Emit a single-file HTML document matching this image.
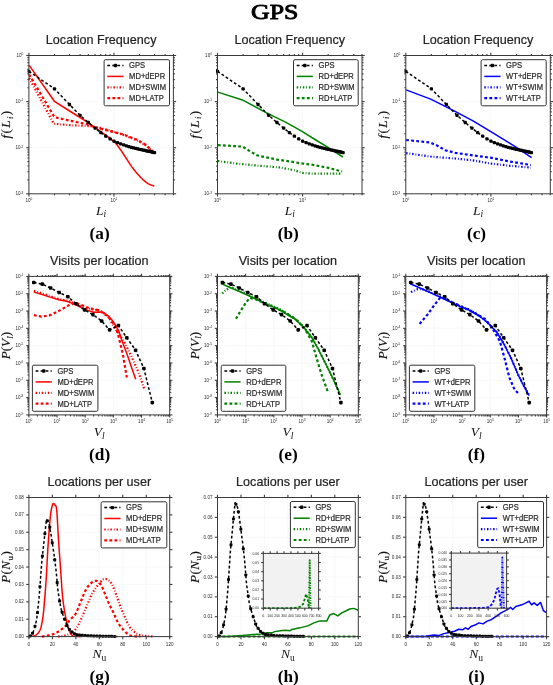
<!DOCTYPE html>
<html><head><meta charset="utf-8"><style>
html,body{margin:0;padding:0;background:#fff;}
body{width:553px;height:685px;overflow:hidden;font-family:"Liberation Sans", sans-serif;}
svg{display:block;will-change:transform;}
</style></head><body>
<svg width="553" height="685" viewBox="0 0 553 685">
<rect width="553" height="685" fill="#fff"/>
<text x="0" y="0" transform="translate(274.7,19.0) scale(1.2,1)" font-family='"Liberation Serif", serif' font-size="21.5" font-weight="normal" fill="#000" stroke="#000" stroke-width="0.9" text-anchor="middle">GPS</text>
<text x="101.15" y="43.7" font-family='"Liberation Sans", sans-serif' font-size="12.6" fill="#222" text-anchor="middle" font-weight="normal" font-style="normal" stroke="#222" stroke-width="0.2">Location Frequency</text>
<text x="101.15" y="214.8" font-family='"Liberation Serif", serif' font-size="13.5" fill="#111" text-anchor="middle" font-weight="normal" font-style="normal" ><tspan font-style="italic">L</tspan><tspan font-size="9.5" dy="2.6" font-style="italic">i</tspan></text>
<text x="0" y="0" transform="translate(99.6,238.8) scale(1.08,1)" font-family='"Liberation Serif", serif' font-size="16" fill="#000" text-anchor="middle" font-weight="bold">(a)</text>
<text x="0" y="0" transform="translate(10,124.65) rotate(-90)" font-family='"Liberation Serif", serif' font-size="13.2" fill="#111" stroke="#111" stroke-width="0.15" text-anchor="middle" textLength="27.5" lengthAdjust="spacing"><tspan font-style="italic">f</tspan>(<tspan font-style="italic">L</tspan><tspan font-size="9" dy="2.5" font-style="italic">i</tspan><tspan dy="-2.5">)</tspan></text>
<text x="289.75" y="43.7" font-family='"Liberation Sans", sans-serif' font-size="12.6" fill="#222" text-anchor="middle" font-weight="normal" font-style="normal" stroke="#222" stroke-width="0.2">Location Frequency</text>
<text x="289.75" y="214.8" font-family='"Liberation Serif", serif' font-size="13.5" fill="#111" text-anchor="middle" font-weight="normal" font-style="normal" ><tspan font-style="italic">L</tspan><tspan font-size="9.5" dy="2.6" font-style="italic">i</tspan></text>
<text x="0" y="0" transform="translate(288.2,238.8) scale(1.08,1)" font-family='"Liberation Serif", serif' font-size="16" fill="#000" text-anchor="middle" font-weight="bold">(b)</text>
<text x="0" y="0" transform="translate(198.6,124.65) rotate(-90)" font-family='"Liberation Serif", serif' font-size="13.2" fill="#111" stroke="#111" stroke-width="0.15" text-anchor="middle" textLength="27.5" lengthAdjust="spacing"><tspan font-style="italic">f</tspan>(<tspan font-style="italic">L</tspan><tspan font-size="9" dy="2.5" font-style="italic">i</tspan><tspan dy="-2.5">)</tspan></text>
<text x="478.05" y="43.7" font-family='"Liberation Sans", sans-serif' font-size="12.6" fill="#222" text-anchor="middle" font-weight="normal" font-style="normal" stroke="#222" stroke-width="0.2">Location Frequency</text>
<text x="478.05" y="214.8" font-family='"Liberation Serif", serif' font-size="13.5" fill="#111" text-anchor="middle" font-weight="normal" font-style="normal" ><tspan font-style="italic">L</tspan><tspan font-size="9.5" dy="2.6" font-style="italic">i</tspan></text>
<text x="0" y="0" transform="translate(476.5,238.8) scale(1.08,1)" font-family='"Liberation Serif", serif' font-size="16" fill="#000" text-anchor="middle" font-weight="bold">(c)</text>
<text x="0" y="0" transform="translate(386.9,124.65) rotate(-90)" font-family='"Liberation Serif", serif' font-size="13.2" fill="#111" stroke="#111" stroke-width="0.15" text-anchor="middle" textLength="27.5" lengthAdjust="spacing"><tspan font-style="italic">f</tspan>(<tspan font-style="italic">L</tspan><tspan font-size="9" dy="2.5" font-style="italic">i</tspan><tspan dy="-2.5">)</tspan></text>
<text x="99.3" y="264.6" font-family='"Liberation Sans", sans-serif' font-size="12.6" fill="#222" text-anchor="middle" font-weight="normal" font-style="normal" stroke="#222" stroke-width="0.2">Visits per location</text>
<text x="99.3" y="435.9" font-family='"Liberation Serif", serif' font-size="13.5" fill="#111" text-anchor="middle" font-weight="normal" font-style="normal" ><tspan font-style="italic">V</tspan><tspan font-size="9.5" dy="2.6" font-style="italic">l</tspan></text>
<text x="0" y="0" transform="translate(99.6,459.9) scale(1.08,1)" font-family='"Liberation Serif", serif' font-size="16" fill="#000" text-anchor="middle" font-weight="bold">(d)</text>
<text x="0" y="0" transform="translate(10,345.65) rotate(-90)" font-family='"Liberation Serif", serif' font-size="13.2" fill="#111" stroke="#111" stroke-width="0.15" text-anchor="middle" textLength="27.4" lengthAdjust="spacing"><tspan font-style="italic">P</tspan>(<tspan font-style="italic">V</tspan><tspan font-size="9" dy="2.5" font-style="italic">l</tspan><tspan dy="-2.5">)</tspan></text>
<text x="287.9" y="264.6" font-family='"Liberation Sans", sans-serif' font-size="12.6" fill="#222" text-anchor="middle" font-weight="normal" font-style="normal" stroke="#222" stroke-width="0.2">Visits per location</text>
<text x="287.9" y="435.9" font-family='"Liberation Serif", serif' font-size="13.5" fill="#111" text-anchor="middle" font-weight="normal" font-style="normal" ><tspan font-style="italic">V</tspan><tspan font-size="9.5" dy="2.6" font-style="italic">l</tspan></text>
<text x="0" y="0" transform="translate(288.2,459.9) scale(1.08,1)" font-family='"Liberation Serif", serif' font-size="16" fill="#000" text-anchor="middle" font-weight="bold">(e)</text>
<text x="0" y="0" transform="translate(198.6,345.65) rotate(-90)" font-family='"Liberation Serif", serif' font-size="13.2" fill="#111" stroke="#111" stroke-width="0.15" text-anchor="middle" textLength="27.4" lengthAdjust="spacing"><tspan font-style="italic">P</tspan>(<tspan font-style="italic">V</tspan><tspan font-size="9" dy="2.5" font-style="italic">l</tspan><tspan dy="-2.5">)</tspan></text>
<text x="476.2" y="264.6" font-family='"Liberation Sans", sans-serif' font-size="12.6" fill="#222" text-anchor="middle" font-weight="normal" font-style="normal" stroke="#222" stroke-width="0.2">Visits per location</text>
<text x="476.2" y="435.9" font-family='"Liberation Serif", serif' font-size="13.5" fill="#111" text-anchor="middle" font-weight="normal" font-style="normal" ><tspan font-style="italic">V</tspan><tspan font-size="9.5" dy="2.6" font-style="italic">l</tspan></text>
<text x="0" y="0" transform="translate(476.5,459.9) scale(1.08,1)" font-family='"Liberation Serif", serif' font-size="16" fill="#000" text-anchor="middle" font-weight="bold">(f)</text>
<text x="0" y="0" transform="translate(386.9,345.65) rotate(-90)" font-family='"Liberation Serif", serif' font-size="13.2" fill="#111" stroke="#111" stroke-width="0.15" text-anchor="middle" textLength="27.4" lengthAdjust="spacing"><tspan font-style="italic">P</tspan>(<tspan font-style="italic">V</tspan><tspan font-size="9" dy="2.5" font-style="italic">l</tspan><tspan dy="-2.5">)</tspan></text>
<text x="99.3" y="485.7" font-family='"Liberation Sans", sans-serif' font-size="12.6" fill="#222" text-anchor="middle" font-weight="normal" font-style="normal" stroke="#222" stroke-width="0.2">Locations per user</text>
<text x="99.3" y="657.6" font-family='"Liberation Serif", serif' font-size="13.5" fill="#111" text-anchor="middle" font-weight="normal" font-style="normal" ><tspan font-style="italic">N</tspan><tspan font-size="9.5" dy="3.2">u</tspan></text>
<text x="0" y="0" transform="translate(99.6,681.6) scale(1.08,1)" font-family='"Liberation Serif", serif' font-size="16" fill="#000" text-anchor="middle" font-weight="bold">(g)</text>
<text x="0" y="0" transform="translate(10,567.05) rotate(-90)" font-family='"Liberation Serif", serif' font-size="13.2" fill="#111" stroke="#111" stroke-width="0.15" text-anchor="middle" textLength="32.0" lengthAdjust="spacing"><tspan font-style="italic">P</tspan>(<tspan font-style="italic">N</tspan><tspan font-size="9" dy="2.5">u</tspan><tspan dy="-2.5">)</tspan></text>
<text x="287.9" y="485.7" font-family='"Liberation Sans", sans-serif' font-size="12.6" fill="#222" text-anchor="middle" font-weight="normal" font-style="normal" stroke="#222" stroke-width="0.2">Locations per user</text>
<text x="287.9" y="657.6" font-family='"Liberation Serif", serif' font-size="13.5" fill="#111" text-anchor="middle" font-weight="normal" font-style="normal" ><tspan font-style="italic">N</tspan><tspan font-size="9.5" dy="3.2">u</tspan></text>
<text x="0" y="0" transform="translate(288.2,681.6) scale(1.08,1)" font-family='"Liberation Serif", serif' font-size="16" fill="#000" text-anchor="middle" font-weight="bold">(h)</text>
<text x="0" y="0" transform="translate(198.6,567.05) rotate(-90)" font-family='"Liberation Serif", serif' font-size="13.2" fill="#111" stroke="#111" stroke-width="0.15" text-anchor="middle" textLength="32.0" lengthAdjust="spacing"><tspan font-style="italic">P</tspan>(<tspan font-style="italic">N</tspan><tspan font-size="9" dy="2.5">u</tspan><tspan dy="-2.5">)</tspan></text>
<text x="476.2" y="485.7" font-family='"Liberation Sans", sans-serif' font-size="12.6" fill="#222" text-anchor="middle" font-weight="normal" font-style="normal" stroke="#222" stroke-width="0.2">Locations per user</text>
<text x="476.2" y="657.6" font-family='"Liberation Serif", serif' font-size="13.5" fill="#111" text-anchor="middle" font-weight="normal" font-style="normal" ><tspan font-style="italic">N</tspan><tspan font-size="9.5" dy="3.2">u</tspan></text>
<text x="0" y="0" transform="translate(476.5,681.6) scale(1.08,1)" font-family='"Liberation Serif", serif' font-size="16" fill="#000" text-anchor="middle" font-weight="bold">(i)</text>
<text x="0" y="0" transform="translate(386.9,567.05) rotate(-90)" font-family='"Liberation Serif", serif' font-size="13.2" fill="#111" stroke="#111" stroke-width="0.15" text-anchor="middle" textLength="32.0" lengthAdjust="spacing"><tspan font-style="italic">P</tspan>(<tspan font-style="italic">N</tspan><tspan font-size="9" dy="2.5">u</tspan><tspan dy="-2.5">)</tspan></text>
<line x1="113.95" y1="55.5" x2="113.95" y2="193.8" stroke="#e9e9e9" stroke-width="0.7" stroke-dasharray="1,1.2"/>
<line x1="28.9" y1="193.8" x2="28.9" y2="196.5" stroke="#3a3a3a" stroke-width="1.1"/>
<line x1="28.9" y1="55.5" x2="28.9" y2="52.8" stroke="#3a3a3a" stroke-width="1.1"/>
<text x="28.9" y="202" font-family='"Liberation Sans", sans-serif' font-size="4.6" fill="#2a2a2a" text-anchor="middle">10<tspan dy="-1.8" font-size="3.2">0</tspan></text>
<line x1="54.5" y1="193.8" x2="54.5" y2="195.3" stroke="#3a3a3a" stroke-width="1.1"/>
<line x1="54.5" y1="55.5" x2="54.5" y2="54" stroke="#3a3a3a" stroke-width="1.1"/>
<line x1="69.48" y1="193.8" x2="69.48" y2="195.3" stroke="#3a3a3a" stroke-width="1.1"/>
<line x1="69.48" y1="55.5" x2="69.48" y2="54" stroke="#3a3a3a" stroke-width="1.1"/>
<line x1="80.11" y1="193.8" x2="80.11" y2="195.3" stroke="#3a3a3a" stroke-width="1.1"/>
<line x1="80.11" y1="55.5" x2="80.11" y2="54" stroke="#3a3a3a" stroke-width="1.1"/>
<line x1="88.35" y1="193.8" x2="88.35" y2="195.3" stroke="#3a3a3a" stroke-width="1.1"/>
<line x1="88.35" y1="55.5" x2="88.35" y2="54" stroke="#3a3a3a" stroke-width="1.1"/>
<line x1="95.08" y1="193.8" x2="95.08" y2="195.3" stroke="#3a3a3a" stroke-width="1.1"/>
<line x1="95.08" y1="55.5" x2="95.08" y2="54" stroke="#3a3a3a" stroke-width="1.1"/>
<line x1="100.78" y1="193.8" x2="100.78" y2="195.3" stroke="#3a3a3a" stroke-width="1.1"/>
<line x1="100.78" y1="55.5" x2="100.78" y2="54" stroke="#3a3a3a" stroke-width="1.1"/>
<line x1="105.71" y1="193.8" x2="105.71" y2="195.3" stroke="#3a3a3a" stroke-width="1.1"/>
<line x1="105.71" y1="55.5" x2="105.71" y2="54" stroke="#3a3a3a" stroke-width="1.1"/>
<line x1="110.06" y1="193.8" x2="110.06" y2="195.3" stroke="#3a3a3a" stroke-width="1.1"/>
<line x1="110.06" y1="55.5" x2="110.06" y2="54" stroke="#3a3a3a" stroke-width="1.1"/>
<line x1="113.95" y1="193.8" x2="113.95" y2="196.5" stroke="#3a3a3a" stroke-width="1.1"/>
<line x1="113.95" y1="55.5" x2="113.95" y2="52.8" stroke="#3a3a3a" stroke-width="1.1"/>
<text x="113.95" y="202" font-family='"Liberation Sans", sans-serif' font-size="4.6" fill="#2a2a2a" text-anchor="middle">10<tspan dy="-1.8" font-size="3.2">1</tspan></text>
<line x1="139.55" y1="193.8" x2="139.55" y2="195.3" stroke="#3a3a3a" stroke-width="1.1"/>
<line x1="139.55" y1="55.5" x2="139.55" y2="54" stroke="#3a3a3a" stroke-width="1.1"/>
<line x1="154.53" y1="193.8" x2="154.53" y2="195.3" stroke="#3a3a3a" stroke-width="1.1"/>
<line x1="154.53" y1="55.5" x2="154.53" y2="54" stroke="#3a3a3a" stroke-width="1.1"/>
<line x1="165.16" y1="193.8" x2="165.16" y2="195.3" stroke="#3a3a3a" stroke-width="1.1"/>
<line x1="165.16" y1="55.5" x2="165.16" y2="54" stroke="#3a3a3a" stroke-width="1.1"/>
<line x1="173.4" y1="193.8" x2="173.4" y2="195.3" stroke="#3a3a3a" stroke-width="1.1"/>
<line x1="173.4" y1="55.5" x2="173.4" y2="54" stroke="#3a3a3a" stroke-width="1.1"/>
<line x1="28.9" y1="147.7" x2="173.4" y2="147.7" stroke="#e9e9e9" stroke-width="0.7" stroke-dasharray="1,1.2"/>
<line x1="28.9" y1="101.6" x2="173.4" y2="101.6" stroke="#e9e9e9" stroke-width="0.7" stroke-dasharray="1,1.2"/>
<line x1="28.9" y1="193.8" x2="26.2" y2="193.8" stroke="#3a3a3a" stroke-width="1.1"/>
<line x1="173.4" y1="193.8" x2="176.1" y2="193.8" stroke="#3a3a3a" stroke-width="1.1"/>
<text x="23.4" y="195.4" font-family='"Liberation Sans", sans-serif' font-size="4.6" fill="#2a2a2a" text-anchor="end">10<tspan dy="-1.8" font-size="3.2">-3</tspan></text>
<line x1="28.9" y1="179.92" x2="27.4" y2="179.92" stroke="#3a3a3a" stroke-width="1.1"/>
<line x1="173.4" y1="179.92" x2="174.9" y2="179.92" stroke="#3a3a3a" stroke-width="1.1"/>
<line x1="28.9" y1="171.8" x2="27.4" y2="171.8" stroke="#3a3a3a" stroke-width="1.1"/>
<line x1="173.4" y1="171.8" x2="174.9" y2="171.8" stroke="#3a3a3a" stroke-width="1.1"/>
<line x1="28.9" y1="166.05" x2="27.4" y2="166.05" stroke="#3a3a3a" stroke-width="1.1"/>
<line x1="173.4" y1="166.05" x2="174.9" y2="166.05" stroke="#3a3a3a" stroke-width="1.1"/>
<line x1="28.9" y1="161.58" x2="27.4" y2="161.58" stroke="#3a3a3a" stroke-width="1.1"/>
<line x1="173.4" y1="161.58" x2="174.9" y2="161.58" stroke="#3a3a3a" stroke-width="1.1"/>
<line x1="28.9" y1="157.93" x2="27.4" y2="157.93" stroke="#3a3a3a" stroke-width="1.1"/>
<line x1="173.4" y1="157.93" x2="174.9" y2="157.93" stroke="#3a3a3a" stroke-width="1.1"/>
<line x1="28.9" y1="154.84" x2="27.4" y2="154.84" stroke="#3a3a3a" stroke-width="1.1"/>
<line x1="173.4" y1="154.84" x2="174.9" y2="154.84" stroke="#3a3a3a" stroke-width="1.1"/>
<line x1="28.9" y1="152.17" x2="27.4" y2="152.17" stroke="#3a3a3a" stroke-width="1.1"/>
<line x1="173.4" y1="152.17" x2="174.9" y2="152.17" stroke="#3a3a3a" stroke-width="1.1"/>
<line x1="28.9" y1="149.81" x2="27.4" y2="149.81" stroke="#3a3a3a" stroke-width="1.1"/>
<line x1="173.4" y1="149.81" x2="174.9" y2="149.81" stroke="#3a3a3a" stroke-width="1.1"/>
<line x1="28.9" y1="147.7" x2="26.2" y2="147.7" stroke="#3a3a3a" stroke-width="1.1"/>
<line x1="173.4" y1="147.7" x2="176.1" y2="147.7" stroke="#3a3a3a" stroke-width="1.1"/>
<text x="23.4" y="149.3" font-family='"Liberation Sans", sans-serif' font-size="4.6" fill="#2a2a2a" text-anchor="end">10<tspan dy="-1.8" font-size="3.2">-2</tspan></text>
<line x1="28.9" y1="133.82" x2="27.4" y2="133.82" stroke="#3a3a3a" stroke-width="1.1"/>
<line x1="173.4" y1="133.82" x2="174.9" y2="133.82" stroke="#3a3a3a" stroke-width="1.1"/>
<line x1="28.9" y1="125.7" x2="27.4" y2="125.7" stroke="#3a3a3a" stroke-width="1.1"/>
<line x1="173.4" y1="125.7" x2="174.9" y2="125.7" stroke="#3a3a3a" stroke-width="1.1"/>
<line x1="28.9" y1="119.95" x2="27.4" y2="119.95" stroke="#3a3a3a" stroke-width="1.1"/>
<line x1="173.4" y1="119.95" x2="174.9" y2="119.95" stroke="#3a3a3a" stroke-width="1.1"/>
<line x1="28.9" y1="115.48" x2="27.4" y2="115.48" stroke="#3a3a3a" stroke-width="1.1"/>
<line x1="173.4" y1="115.48" x2="174.9" y2="115.48" stroke="#3a3a3a" stroke-width="1.1"/>
<line x1="28.9" y1="111.83" x2="27.4" y2="111.83" stroke="#3a3a3a" stroke-width="1.1"/>
<line x1="173.4" y1="111.83" x2="174.9" y2="111.83" stroke="#3a3a3a" stroke-width="1.1"/>
<line x1="28.9" y1="108.74" x2="27.4" y2="108.74" stroke="#3a3a3a" stroke-width="1.1"/>
<line x1="173.4" y1="108.74" x2="174.9" y2="108.74" stroke="#3a3a3a" stroke-width="1.1"/>
<line x1="28.9" y1="106.07" x2="27.4" y2="106.07" stroke="#3a3a3a" stroke-width="1.1"/>
<line x1="173.4" y1="106.07" x2="174.9" y2="106.07" stroke="#3a3a3a" stroke-width="1.1"/>
<line x1="28.9" y1="103.71" x2="27.4" y2="103.71" stroke="#3a3a3a" stroke-width="1.1"/>
<line x1="173.4" y1="103.71" x2="174.9" y2="103.71" stroke="#3a3a3a" stroke-width="1.1"/>
<line x1="28.9" y1="101.6" x2="26.2" y2="101.6" stroke="#3a3a3a" stroke-width="1.1"/>
<line x1="173.4" y1="101.6" x2="176.1" y2="101.6" stroke="#3a3a3a" stroke-width="1.1"/>
<text x="23.4" y="103.2" font-family='"Liberation Sans", sans-serif' font-size="4.6" fill="#2a2a2a" text-anchor="end">10<tspan dy="-1.8" font-size="3.2">-1</tspan></text>
<line x1="28.9" y1="87.72" x2="27.4" y2="87.72" stroke="#3a3a3a" stroke-width="1.1"/>
<line x1="173.4" y1="87.72" x2="174.9" y2="87.72" stroke="#3a3a3a" stroke-width="1.1"/>
<line x1="28.9" y1="79.6" x2="27.4" y2="79.6" stroke="#3a3a3a" stroke-width="1.1"/>
<line x1="173.4" y1="79.6" x2="174.9" y2="79.6" stroke="#3a3a3a" stroke-width="1.1"/>
<line x1="28.9" y1="73.85" x2="27.4" y2="73.85" stroke="#3a3a3a" stroke-width="1.1"/>
<line x1="173.4" y1="73.85" x2="174.9" y2="73.85" stroke="#3a3a3a" stroke-width="1.1"/>
<line x1="28.9" y1="69.38" x2="27.4" y2="69.38" stroke="#3a3a3a" stroke-width="1.1"/>
<line x1="173.4" y1="69.38" x2="174.9" y2="69.38" stroke="#3a3a3a" stroke-width="1.1"/>
<line x1="28.9" y1="65.73" x2="27.4" y2="65.73" stroke="#3a3a3a" stroke-width="1.1"/>
<line x1="173.4" y1="65.73" x2="174.9" y2="65.73" stroke="#3a3a3a" stroke-width="1.1"/>
<line x1="28.9" y1="62.64" x2="27.4" y2="62.64" stroke="#3a3a3a" stroke-width="1.1"/>
<line x1="173.4" y1="62.64" x2="174.9" y2="62.64" stroke="#3a3a3a" stroke-width="1.1"/>
<line x1="28.9" y1="59.97" x2="27.4" y2="59.97" stroke="#3a3a3a" stroke-width="1.1"/>
<line x1="173.4" y1="59.97" x2="174.9" y2="59.97" stroke="#3a3a3a" stroke-width="1.1"/>
<line x1="28.9" y1="57.61" x2="27.4" y2="57.61" stroke="#3a3a3a" stroke-width="1.1"/>
<line x1="173.4" y1="57.61" x2="174.9" y2="57.61" stroke="#3a3a3a" stroke-width="1.1"/>
<line x1="28.9" y1="55.5" x2="26.2" y2="55.5" stroke="#3a3a3a" stroke-width="1.1"/>
<line x1="173.4" y1="55.5" x2="176.1" y2="55.5" stroke="#3a3a3a" stroke-width="1.1"/>
<text x="23.4" y="57.1" font-family='"Liberation Sans", sans-serif' font-size="4.6" fill="#2a2a2a" text-anchor="end">10<tspan dy="-1.8" font-size="3.2">0</tspan></text>
<line x1="302.55" y1="55.5" x2="302.55" y2="193.8" stroke="#e9e9e9" stroke-width="0.7" stroke-dasharray="1,1.2"/>
<line x1="217.5" y1="193.8" x2="217.5" y2="196.5" stroke="#3a3a3a" stroke-width="1.1"/>
<line x1="217.5" y1="55.5" x2="217.5" y2="52.8" stroke="#3a3a3a" stroke-width="1.1"/>
<text x="217.5" y="202" font-family='"Liberation Sans", sans-serif' font-size="4.6" fill="#2a2a2a" text-anchor="middle">10<tspan dy="-1.8" font-size="3.2">0</tspan></text>
<line x1="243.1" y1="193.8" x2="243.1" y2="195.3" stroke="#3a3a3a" stroke-width="1.1"/>
<line x1="243.1" y1="55.5" x2="243.1" y2="54" stroke="#3a3a3a" stroke-width="1.1"/>
<line x1="258.08" y1="193.8" x2="258.08" y2="195.3" stroke="#3a3a3a" stroke-width="1.1"/>
<line x1="258.08" y1="55.5" x2="258.08" y2="54" stroke="#3a3a3a" stroke-width="1.1"/>
<line x1="268.71" y1="193.8" x2="268.71" y2="195.3" stroke="#3a3a3a" stroke-width="1.1"/>
<line x1="268.71" y1="55.5" x2="268.71" y2="54" stroke="#3a3a3a" stroke-width="1.1"/>
<line x1="276.95" y1="193.8" x2="276.95" y2="195.3" stroke="#3a3a3a" stroke-width="1.1"/>
<line x1="276.95" y1="55.5" x2="276.95" y2="54" stroke="#3a3a3a" stroke-width="1.1"/>
<line x1="283.68" y1="193.8" x2="283.68" y2="195.3" stroke="#3a3a3a" stroke-width="1.1"/>
<line x1="283.68" y1="55.5" x2="283.68" y2="54" stroke="#3a3a3a" stroke-width="1.1"/>
<line x1="289.38" y1="193.8" x2="289.38" y2="195.3" stroke="#3a3a3a" stroke-width="1.1"/>
<line x1="289.38" y1="55.5" x2="289.38" y2="54" stroke="#3a3a3a" stroke-width="1.1"/>
<line x1="294.31" y1="193.8" x2="294.31" y2="195.3" stroke="#3a3a3a" stroke-width="1.1"/>
<line x1="294.31" y1="55.5" x2="294.31" y2="54" stroke="#3a3a3a" stroke-width="1.1"/>
<line x1="298.66" y1="193.8" x2="298.66" y2="195.3" stroke="#3a3a3a" stroke-width="1.1"/>
<line x1="298.66" y1="55.5" x2="298.66" y2="54" stroke="#3a3a3a" stroke-width="1.1"/>
<line x1="302.55" y1="193.8" x2="302.55" y2="196.5" stroke="#3a3a3a" stroke-width="1.1"/>
<line x1="302.55" y1="55.5" x2="302.55" y2="52.8" stroke="#3a3a3a" stroke-width="1.1"/>
<text x="302.55" y="202" font-family='"Liberation Sans", sans-serif' font-size="4.6" fill="#2a2a2a" text-anchor="middle">10<tspan dy="-1.8" font-size="3.2">1</tspan></text>
<line x1="328.15" y1="193.8" x2="328.15" y2="195.3" stroke="#3a3a3a" stroke-width="1.1"/>
<line x1="328.15" y1="55.5" x2="328.15" y2="54" stroke="#3a3a3a" stroke-width="1.1"/>
<line x1="343.13" y1="193.8" x2="343.13" y2="195.3" stroke="#3a3a3a" stroke-width="1.1"/>
<line x1="343.13" y1="55.5" x2="343.13" y2="54" stroke="#3a3a3a" stroke-width="1.1"/>
<line x1="353.76" y1="193.8" x2="353.76" y2="195.3" stroke="#3a3a3a" stroke-width="1.1"/>
<line x1="353.76" y1="55.5" x2="353.76" y2="54" stroke="#3a3a3a" stroke-width="1.1"/>
<line x1="362" y1="193.8" x2="362" y2="195.3" stroke="#3a3a3a" stroke-width="1.1"/>
<line x1="362" y1="55.5" x2="362" y2="54" stroke="#3a3a3a" stroke-width="1.1"/>
<line x1="217.5" y1="147.7" x2="362" y2="147.7" stroke="#e9e9e9" stroke-width="0.7" stroke-dasharray="1,1.2"/>
<line x1="217.5" y1="101.6" x2="362" y2="101.6" stroke="#e9e9e9" stroke-width="0.7" stroke-dasharray="1,1.2"/>
<line x1="217.5" y1="193.8" x2="214.8" y2="193.8" stroke="#3a3a3a" stroke-width="1.1"/>
<line x1="362" y1="193.8" x2="364.7" y2="193.8" stroke="#3a3a3a" stroke-width="1.1"/>
<text x="212" y="195.4" font-family='"Liberation Sans", sans-serif' font-size="4.6" fill="#2a2a2a" text-anchor="end">10<tspan dy="-1.8" font-size="3.2">-3</tspan></text>
<line x1="217.5" y1="179.92" x2="216" y2="179.92" stroke="#3a3a3a" stroke-width="1.1"/>
<line x1="362" y1="179.92" x2="363.5" y2="179.92" stroke="#3a3a3a" stroke-width="1.1"/>
<line x1="217.5" y1="171.8" x2="216" y2="171.8" stroke="#3a3a3a" stroke-width="1.1"/>
<line x1="362" y1="171.8" x2="363.5" y2="171.8" stroke="#3a3a3a" stroke-width="1.1"/>
<line x1="217.5" y1="166.05" x2="216" y2="166.05" stroke="#3a3a3a" stroke-width="1.1"/>
<line x1="362" y1="166.05" x2="363.5" y2="166.05" stroke="#3a3a3a" stroke-width="1.1"/>
<line x1="217.5" y1="161.58" x2="216" y2="161.58" stroke="#3a3a3a" stroke-width="1.1"/>
<line x1="362" y1="161.58" x2="363.5" y2="161.58" stroke="#3a3a3a" stroke-width="1.1"/>
<line x1="217.5" y1="157.93" x2="216" y2="157.93" stroke="#3a3a3a" stroke-width="1.1"/>
<line x1="362" y1="157.93" x2="363.5" y2="157.93" stroke="#3a3a3a" stroke-width="1.1"/>
<line x1="217.5" y1="154.84" x2="216" y2="154.84" stroke="#3a3a3a" stroke-width="1.1"/>
<line x1="362" y1="154.84" x2="363.5" y2="154.84" stroke="#3a3a3a" stroke-width="1.1"/>
<line x1="217.5" y1="152.17" x2="216" y2="152.17" stroke="#3a3a3a" stroke-width="1.1"/>
<line x1="362" y1="152.17" x2="363.5" y2="152.17" stroke="#3a3a3a" stroke-width="1.1"/>
<line x1="217.5" y1="149.81" x2="216" y2="149.81" stroke="#3a3a3a" stroke-width="1.1"/>
<line x1="362" y1="149.81" x2="363.5" y2="149.81" stroke="#3a3a3a" stroke-width="1.1"/>
<line x1="217.5" y1="147.7" x2="214.8" y2="147.7" stroke="#3a3a3a" stroke-width="1.1"/>
<line x1="362" y1="147.7" x2="364.7" y2="147.7" stroke="#3a3a3a" stroke-width="1.1"/>
<text x="212" y="149.3" font-family='"Liberation Sans", sans-serif' font-size="4.6" fill="#2a2a2a" text-anchor="end">10<tspan dy="-1.8" font-size="3.2">-2</tspan></text>
<line x1="217.5" y1="133.82" x2="216" y2="133.82" stroke="#3a3a3a" stroke-width="1.1"/>
<line x1="362" y1="133.82" x2="363.5" y2="133.82" stroke="#3a3a3a" stroke-width="1.1"/>
<line x1="217.5" y1="125.7" x2="216" y2="125.7" stroke="#3a3a3a" stroke-width="1.1"/>
<line x1="362" y1="125.7" x2="363.5" y2="125.7" stroke="#3a3a3a" stroke-width="1.1"/>
<line x1="217.5" y1="119.95" x2="216" y2="119.95" stroke="#3a3a3a" stroke-width="1.1"/>
<line x1="362" y1="119.95" x2="363.5" y2="119.95" stroke="#3a3a3a" stroke-width="1.1"/>
<line x1="217.5" y1="115.48" x2="216" y2="115.48" stroke="#3a3a3a" stroke-width="1.1"/>
<line x1="362" y1="115.48" x2="363.5" y2="115.48" stroke="#3a3a3a" stroke-width="1.1"/>
<line x1="217.5" y1="111.83" x2="216" y2="111.83" stroke="#3a3a3a" stroke-width="1.1"/>
<line x1="362" y1="111.83" x2="363.5" y2="111.83" stroke="#3a3a3a" stroke-width="1.1"/>
<line x1="217.5" y1="108.74" x2="216" y2="108.74" stroke="#3a3a3a" stroke-width="1.1"/>
<line x1="362" y1="108.74" x2="363.5" y2="108.74" stroke="#3a3a3a" stroke-width="1.1"/>
<line x1="217.5" y1="106.07" x2="216" y2="106.07" stroke="#3a3a3a" stroke-width="1.1"/>
<line x1="362" y1="106.07" x2="363.5" y2="106.07" stroke="#3a3a3a" stroke-width="1.1"/>
<line x1="217.5" y1="103.71" x2="216" y2="103.71" stroke="#3a3a3a" stroke-width="1.1"/>
<line x1="362" y1="103.71" x2="363.5" y2="103.71" stroke="#3a3a3a" stroke-width="1.1"/>
<line x1="217.5" y1="101.6" x2="214.8" y2="101.6" stroke="#3a3a3a" stroke-width="1.1"/>
<line x1="362" y1="101.6" x2="364.7" y2="101.6" stroke="#3a3a3a" stroke-width="1.1"/>
<text x="212" y="103.2" font-family='"Liberation Sans", sans-serif' font-size="4.6" fill="#2a2a2a" text-anchor="end">10<tspan dy="-1.8" font-size="3.2">-1</tspan></text>
<line x1="217.5" y1="87.72" x2="216" y2="87.72" stroke="#3a3a3a" stroke-width="1.1"/>
<line x1="362" y1="87.72" x2="363.5" y2="87.72" stroke="#3a3a3a" stroke-width="1.1"/>
<line x1="217.5" y1="79.6" x2="216" y2="79.6" stroke="#3a3a3a" stroke-width="1.1"/>
<line x1="362" y1="79.6" x2="363.5" y2="79.6" stroke="#3a3a3a" stroke-width="1.1"/>
<line x1="217.5" y1="73.85" x2="216" y2="73.85" stroke="#3a3a3a" stroke-width="1.1"/>
<line x1="362" y1="73.85" x2="363.5" y2="73.85" stroke="#3a3a3a" stroke-width="1.1"/>
<line x1="217.5" y1="69.38" x2="216" y2="69.38" stroke="#3a3a3a" stroke-width="1.1"/>
<line x1="362" y1="69.38" x2="363.5" y2="69.38" stroke="#3a3a3a" stroke-width="1.1"/>
<line x1="217.5" y1="65.73" x2="216" y2="65.73" stroke="#3a3a3a" stroke-width="1.1"/>
<line x1="362" y1="65.73" x2="363.5" y2="65.73" stroke="#3a3a3a" stroke-width="1.1"/>
<line x1="217.5" y1="62.64" x2="216" y2="62.64" stroke="#3a3a3a" stroke-width="1.1"/>
<line x1="362" y1="62.64" x2="363.5" y2="62.64" stroke="#3a3a3a" stroke-width="1.1"/>
<line x1="217.5" y1="59.97" x2="216" y2="59.97" stroke="#3a3a3a" stroke-width="1.1"/>
<line x1="362" y1="59.97" x2="363.5" y2="59.97" stroke="#3a3a3a" stroke-width="1.1"/>
<line x1="217.5" y1="57.61" x2="216" y2="57.61" stroke="#3a3a3a" stroke-width="1.1"/>
<line x1="362" y1="57.61" x2="363.5" y2="57.61" stroke="#3a3a3a" stroke-width="1.1"/>
<line x1="217.5" y1="55.5" x2="214.8" y2="55.5" stroke="#3a3a3a" stroke-width="1.1"/>
<line x1="362" y1="55.5" x2="364.7" y2="55.5" stroke="#3a3a3a" stroke-width="1.1"/>
<text x="212" y="57.1" font-family='"Liberation Sans", sans-serif' font-size="4.6" fill="#2a2a2a" text-anchor="end">10<tspan dy="-1.8" font-size="3.2">0</tspan></text>
<line x1="490.85" y1="55.5" x2="490.85" y2="193.8" stroke="#e9e9e9" stroke-width="0.7" stroke-dasharray="1,1.2"/>
<line x1="405.8" y1="193.8" x2="405.8" y2="196.5" stroke="#3a3a3a" stroke-width="1.1"/>
<line x1="405.8" y1="55.5" x2="405.8" y2="52.8" stroke="#3a3a3a" stroke-width="1.1"/>
<text x="405.8" y="202" font-family='"Liberation Sans", sans-serif' font-size="4.6" fill="#2a2a2a" text-anchor="middle">10<tspan dy="-1.8" font-size="3.2">0</tspan></text>
<line x1="431.4" y1="193.8" x2="431.4" y2="195.3" stroke="#3a3a3a" stroke-width="1.1"/>
<line x1="431.4" y1="55.5" x2="431.4" y2="54" stroke="#3a3a3a" stroke-width="1.1"/>
<line x1="446.38" y1="193.8" x2="446.38" y2="195.3" stroke="#3a3a3a" stroke-width="1.1"/>
<line x1="446.38" y1="55.5" x2="446.38" y2="54" stroke="#3a3a3a" stroke-width="1.1"/>
<line x1="457.01" y1="193.8" x2="457.01" y2="195.3" stroke="#3a3a3a" stroke-width="1.1"/>
<line x1="457.01" y1="55.5" x2="457.01" y2="54" stroke="#3a3a3a" stroke-width="1.1"/>
<line x1="465.25" y1="193.8" x2="465.25" y2="195.3" stroke="#3a3a3a" stroke-width="1.1"/>
<line x1="465.25" y1="55.5" x2="465.25" y2="54" stroke="#3a3a3a" stroke-width="1.1"/>
<line x1="471.98" y1="193.8" x2="471.98" y2="195.3" stroke="#3a3a3a" stroke-width="1.1"/>
<line x1="471.98" y1="55.5" x2="471.98" y2="54" stroke="#3a3a3a" stroke-width="1.1"/>
<line x1="477.68" y1="193.8" x2="477.68" y2="195.3" stroke="#3a3a3a" stroke-width="1.1"/>
<line x1="477.68" y1="55.5" x2="477.68" y2="54" stroke="#3a3a3a" stroke-width="1.1"/>
<line x1="482.61" y1="193.8" x2="482.61" y2="195.3" stroke="#3a3a3a" stroke-width="1.1"/>
<line x1="482.61" y1="55.5" x2="482.61" y2="54" stroke="#3a3a3a" stroke-width="1.1"/>
<line x1="486.96" y1="193.8" x2="486.96" y2="195.3" stroke="#3a3a3a" stroke-width="1.1"/>
<line x1="486.96" y1="55.5" x2="486.96" y2="54" stroke="#3a3a3a" stroke-width="1.1"/>
<line x1="490.85" y1="193.8" x2="490.85" y2="196.5" stroke="#3a3a3a" stroke-width="1.1"/>
<line x1="490.85" y1="55.5" x2="490.85" y2="52.8" stroke="#3a3a3a" stroke-width="1.1"/>
<text x="490.85" y="202" font-family='"Liberation Sans", sans-serif' font-size="4.6" fill="#2a2a2a" text-anchor="middle">10<tspan dy="-1.8" font-size="3.2">1</tspan></text>
<line x1="516.45" y1="193.8" x2="516.45" y2="195.3" stroke="#3a3a3a" stroke-width="1.1"/>
<line x1="516.45" y1="55.5" x2="516.45" y2="54" stroke="#3a3a3a" stroke-width="1.1"/>
<line x1="531.43" y1="193.8" x2="531.43" y2="195.3" stroke="#3a3a3a" stroke-width="1.1"/>
<line x1="531.43" y1="55.5" x2="531.43" y2="54" stroke="#3a3a3a" stroke-width="1.1"/>
<line x1="542.06" y1="193.8" x2="542.06" y2="195.3" stroke="#3a3a3a" stroke-width="1.1"/>
<line x1="542.06" y1="55.5" x2="542.06" y2="54" stroke="#3a3a3a" stroke-width="1.1"/>
<line x1="550.3" y1="193.8" x2="550.3" y2="195.3" stroke="#3a3a3a" stroke-width="1.1"/>
<line x1="550.3" y1="55.5" x2="550.3" y2="54" stroke="#3a3a3a" stroke-width="1.1"/>
<line x1="405.8" y1="147.7" x2="550.3" y2="147.7" stroke="#e9e9e9" stroke-width="0.7" stroke-dasharray="1,1.2"/>
<line x1="405.8" y1="101.6" x2="550.3" y2="101.6" stroke="#e9e9e9" stroke-width="0.7" stroke-dasharray="1,1.2"/>
<line x1="405.8" y1="193.8" x2="403.1" y2="193.8" stroke="#3a3a3a" stroke-width="1.1"/>
<line x1="550.3" y1="193.8" x2="553" y2="193.8" stroke="#3a3a3a" stroke-width="1.1"/>
<text x="400.3" y="195.4" font-family='"Liberation Sans", sans-serif' font-size="4.6" fill="#2a2a2a" text-anchor="end">10<tspan dy="-1.8" font-size="3.2">-3</tspan></text>
<line x1="405.8" y1="179.92" x2="404.3" y2="179.92" stroke="#3a3a3a" stroke-width="1.1"/>
<line x1="550.3" y1="179.92" x2="551.8" y2="179.92" stroke="#3a3a3a" stroke-width="1.1"/>
<line x1="405.8" y1="171.8" x2="404.3" y2="171.8" stroke="#3a3a3a" stroke-width="1.1"/>
<line x1="550.3" y1="171.8" x2="551.8" y2="171.8" stroke="#3a3a3a" stroke-width="1.1"/>
<line x1="405.8" y1="166.05" x2="404.3" y2="166.05" stroke="#3a3a3a" stroke-width="1.1"/>
<line x1="550.3" y1="166.05" x2="551.8" y2="166.05" stroke="#3a3a3a" stroke-width="1.1"/>
<line x1="405.8" y1="161.58" x2="404.3" y2="161.58" stroke="#3a3a3a" stroke-width="1.1"/>
<line x1="550.3" y1="161.58" x2="551.8" y2="161.58" stroke="#3a3a3a" stroke-width="1.1"/>
<line x1="405.8" y1="157.93" x2="404.3" y2="157.93" stroke="#3a3a3a" stroke-width="1.1"/>
<line x1="550.3" y1="157.93" x2="551.8" y2="157.93" stroke="#3a3a3a" stroke-width="1.1"/>
<line x1="405.8" y1="154.84" x2="404.3" y2="154.84" stroke="#3a3a3a" stroke-width="1.1"/>
<line x1="550.3" y1="154.84" x2="551.8" y2="154.84" stroke="#3a3a3a" stroke-width="1.1"/>
<line x1="405.8" y1="152.17" x2="404.3" y2="152.17" stroke="#3a3a3a" stroke-width="1.1"/>
<line x1="550.3" y1="152.17" x2="551.8" y2="152.17" stroke="#3a3a3a" stroke-width="1.1"/>
<line x1="405.8" y1="149.81" x2="404.3" y2="149.81" stroke="#3a3a3a" stroke-width="1.1"/>
<line x1="550.3" y1="149.81" x2="551.8" y2="149.81" stroke="#3a3a3a" stroke-width="1.1"/>
<line x1="405.8" y1="147.7" x2="403.1" y2="147.7" stroke="#3a3a3a" stroke-width="1.1"/>
<line x1="550.3" y1="147.7" x2="553" y2="147.7" stroke="#3a3a3a" stroke-width="1.1"/>
<text x="400.3" y="149.3" font-family='"Liberation Sans", sans-serif' font-size="4.6" fill="#2a2a2a" text-anchor="end">10<tspan dy="-1.8" font-size="3.2">-2</tspan></text>
<line x1="405.8" y1="133.82" x2="404.3" y2="133.82" stroke="#3a3a3a" stroke-width="1.1"/>
<line x1="550.3" y1="133.82" x2="551.8" y2="133.82" stroke="#3a3a3a" stroke-width="1.1"/>
<line x1="405.8" y1="125.7" x2="404.3" y2="125.7" stroke="#3a3a3a" stroke-width="1.1"/>
<line x1="550.3" y1="125.7" x2="551.8" y2="125.7" stroke="#3a3a3a" stroke-width="1.1"/>
<line x1="405.8" y1="119.95" x2="404.3" y2="119.95" stroke="#3a3a3a" stroke-width="1.1"/>
<line x1="550.3" y1="119.95" x2="551.8" y2="119.95" stroke="#3a3a3a" stroke-width="1.1"/>
<line x1="405.8" y1="115.48" x2="404.3" y2="115.48" stroke="#3a3a3a" stroke-width="1.1"/>
<line x1="550.3" y1="115.48" x2="551.8" y2="115.48" stroke="#3a3a3a" stroke-width="1.1"/>
<line x1="405.8" y1="111.83" x2="404.3" y2="111.83" stroke="#3a3a3a" stroke-width="1.1"/>
<line x1="550.3" y1="111.83" x2="551.8" y2="111.83" stroke="#3a3a3a" stroke-width="1.1"/>
<line x1="405.8" y1="108.74" x2="404.3" y2="108.74" stroke="#3a3a3a" stroke-width="1.1"/>
<line x1="550.3" y1="108.74" x2="551.8" y2="108.74" stroke="#3a3a3a" stroke-width="1.1"/>
<line x1="405.8" y1="106.07" x2="404.3" y2="106.07" stroke="#3a3a3a" stroke-width="1.1"/>
<line x1="550.3" y1="106.07" x2="551.8" y2="106.07" stroke="#3a3a3a" stroke-width="1.1"/>
<line x1="405.8" y1="103.71" x2="404.3" y2="103.71" stroke="#3a3a3a" stroke-width="1.1"/>
<line x1="550.3" y1="103.71" x2="551.8" y2="103.71" stroke="#3a3a3a" stroke-width="1.1"/>
<line x1="405.8" y1="101.6" x2="403.1" y2="101.6" stroke="#3a3a3a" stroke-width="1.1"/>
<line x1="550.3" y1="101.6" x2="553" y2="101.6" stroke="#3a3a3a" stroke-width="1.1"/>
<text x="400.3" y="103.2" font-family='"Liberation Sans", sans-serif' font-size="4.6" fill="#2a2a2a" text-anchor="end">10<tspan dy="-1.8" font-size="3.2">-1</tspan></text>
<line x1="405.8" y1="87.72" x2="404.3" y2="87.72" stroke="#3a3a3a" stroke-width="1.1"/>
<line x1="550.3" y1="87.72" x2="551.8" y2="87.72" stroke="#3a3a3a" stroke-width="1.1"/>
<line x1="405.8" y1="79.6" x2="404.3" y2="79.6" stroke="#3a3a3a" stroke-width="1.1"/>
<line x1="550.3" y1="79.6" x2="551.8" y2="79.6" stroke="#3a3a3a" stroke-width="1.1"/>
<line x1="405.8" y1="73.85" x2="404.3" y2="73.85" stroke="#3a3a3a" stroke-width="1.1"/>
<line x1="550.3" y1="73.85" x2="551.8" y2="73.85" stroke="#3a3a3a" stroke-width="1.1"/>
<line x1="405.8" y1="69.38" x2="404.3" y2="69.38" stroke="#3a3a3a" stroke-width="1.1"/>
<line x1="550.3" y1="69.38" x2="551.8" y2="69.38" stroke="#3a3a3a" stroke-width="1.1"/>
<line x1="405.8" y1="65.73" x2="404.3" y2="65.73" stroke="#3a3a3a" stroke-width="1.1"/>
<line x1="550.3" y1="65.73" x2="551.8" y2="65.73" stroke="#3a3a3a" stroke-width="1.1"/>
<line x1="405.8" y1="62.64" x2="404.3" y2="62.64" stroke="#3a3a3a" stroke-width="1.1"/>
<line x1="550.3" y1="62.64" x2="551.8" y2="62.64" stroke="#3a3a3a" stroke-width="1.1"/>
<line x1="405.8" y1="59.97" x2="404.3" y2="59.97" stroke="#3a3a3a" stroke-width="1.1"/>
<line x1="550.3" y1="59.97" x2="551.8" y2="59.97" stroke="#3a3a3a" stroke-width="1.1"/>
<line x1="405.8" y1="57.61" x2="404.3" y2="57.61" stroke="#3a3a3a" stroke-width="1.1"/>
<line x1="550.3" y1="57.61" x2="551.8" y2="57.61" stroke="#3a3a3a" stroke-width="1.1"/>
<line x1="405.8" y1="55.5" x2="403.1" y2="55.5" stroke="#3a3a3a" stroke-width="1.1"/>
<line x1="550.3" y1="55.5" x2="553" y2="55.5" stroke="#3a3a3a" stroke-width="1.1"/>
<text x="400.3" y="57.1" font-family='"Liberation Sans", sans-serif' font-size="4.6" fill="#2a2a2a" text-anchor="end">10<tspan dy="-1.8" font-size="3.2">0</tspan></text>
<line x1="57.06" y1="276.4" x2="57.06" y2="414.9" stroke="#e9e9e9" stroke-width="0.7" stroke-dasharray="1,1.2"/>
<line x1="85.22" y1="276.4" x2="85.22" y2="414.9" stroke="#e9e9e9" stroke-width="0.7" stroke-dasharray="1,1.2"/>
<line x1="113.38" y1="276.4" x2="113.38" y2="414.9" stroke="#e9e9e9" stroke-width="0.7" stroke-dasharray="1,1.2"/>
<line x1="141.54" y1="276.4" x2="141.54" y2="414.9" stroke="#e9e9e9" stroke-width="0.7" stroke-dasharray="1,1.2"/>
<line x1="28.9" y1="414.9" x2="28.9" y2="417.6" stroke="#3a3a3a" stroke-width="1.1"/>
<line x1="28.9" y1="276.4" x2="28.9" y2="273.7" stroke="#3a3a3a" stroke-width="1.1"/>
<text x="28.9" y="423.1" font-family='"Liberation Sans", sans-serif' font-size="4.6" fill="#2a2a2a" text-anchor="middle">10<tspan dy="-1.8" font-size="3.2">0</tspan></text>
<line x1="37.38" y1="414.9" x2="37.38" y2="416.4" stroke="#3a3a3a" stroke-width="1.1"/>
<line x1="37.38" y1="276.4" x2="37.38" y2="274.9" stroke="#3a3a3a" stroke-width="1.1"/>
<line x1="42.34" y1="414.9" x2="42.34" y2="416.4" stroke="#3a3a3a" stroke-width="1.1"/>
<line x1="42.34" y1="276.4" x2="42.34" y2="274.9" stroke="#3a3a3a" stroke-width="1.1"/>
<line x1="45.85" y1="414.9" x2="45.85" y2="416.4" stroke="#3a3a3a" stroke-width="1.1"/>
<line x1="45.85" y1="276.4" x2="45.85" y2="274.9" stroke="#3a3a3a" stroke-width="1.1"/>
<line x1="48.58" y1="414.9" x2="48.58" y2="416.4" stroke="#3a3a3a" stroke-width="1.1"/>
<line x1="48.58" y1="276.4" x2="48.58" y2="274.9" stroke="#3a3a3a" stroke-width="1.1"/>
<line x1="50.81" y1="414.9" x2="50.81" y2="416.4" stroke="#3a3a3a" stroke-width="1.1"/>
<line x1="50.81" y1="276.4" x2="50.81" y2="274.9" stroke="#3a3a3a" stroke-width="1.1"/>
<line x1="52.7" y1="414.9" x2="52.7" y2="416.4" stroke="#3a3a3a" stroke-width="1.1"/>
<line x1="52.7" y1="276.4" x2="52.7" y2="274.9" stroke="#3a3a3a" stroke-width="1.1"/>
<line x1="54.33" y1="414.9" x2="54.33" y2="416.4" stroke="#3a3a3a" stroke-width="1.1"/>
<line x1="54.33" y1="276.4" x2="54.33" y2="274.9" stroke="#3a3a3a" stroke-width="1.1"/>
<line x1="55.77" y1="414.9" x2="55.77" y2="416.4" stroke="#3a3a3a" stroke-width="1.1"/>
<line x1="55.77" y1="276.4" x2="55.77" y2="274.9" stroke="#3a3a3a" stroke-width="1.1"/>
<line x1="57.06" y1="414.9" x2="57.06" y2="417.6" stroke="#3a3a3a" stroke-width="1.1"/>
<line x1="57.06" y1="276.4" x2="57.06" y2="273.7" stroke="#3a3a3a" stroke-width="1.1"/>
<text x="57.06" y="423.1" font-family='"Liberation Sans", sans-serif' font-size="4.6" fill="#2a2a2a" text-anchor="middle">10<tspan dy="-1.8" font-size="3.2">1</tspan></text>
<line x1="65.54" y1="414.9" x2="65.54" y2="416.4" stroke="#3a3a3a" stroke-width="1.1"/>
<line x1="65.54" y1="276.4" x2="65.54" y2="274.9" stroke="#3a3a3a" stroke-width="1.1"/>
<line x1="70.5" y1="414.9" x2="70.5" y2="416.4" stroke="#3a3a3a" stroke-width="1.1"/>
<line x1="70.5" y1="276.4" x2="70.5" y2="274.9" stroke="#3a3a3a" stroke-width="1.1"/>
<line x1="74.01" y1="414.9" x2="74.01" y2="416.4" stroke="#3a3a3a" stroke-width="1.1"/>
<line x1="74.01" y1="276.4" x2="74.01" y2="274.9" stroke="#3a3a3a" stroke-width="1.1"/>
<line x1="76.74" y1="414.9" x2="76.74" y2="416.4" stroke="#3a3a3a" stroke-width="1.1"/>
<line x1="76.74" y1="276.4" x2="76.74" y2="274.9" stroke="#3a3a3a" stroke-width="1.1"/>
<line x1="78.97" y1="414.9" x2="78.97" y2="416.4" stroke="#3a3a3a" stroke-width="1.1"/>
<line x1="78.97" y1="276.4" x2="78.97" y2="274.9" stroke="#3a3a3a" stroke-width="1.1"/>
<line x1="80.86" y1="414.9" x2="80.86" y2="416.4" stroke="#3a3a3a" stroke-width="1.1"/>
<line x1="80.86" y1="276.4" x2="80.86" y2="274.9" stroke="#3a3a3a" stroke-width="1.1"/>
<line x1="82.49" y1="414.9" x2="82.49" y2="416.4" stroke="#3a3a3a" stroke-width="1.1"/>
<line x1="82.49" y1="276.4" x2="82.49" y2="274.9" stroke="#3a3a3a" stroke-width="1.1"/>
<line x1="83.93" y1="414.9" x2="83.93" y2="416.4" stroke="#3a3a3a" stroke-width="1.1"/>
<line x1="83.93" y1="276.4" x2="83.93" y2="274.9" stroke="#3a3a3a" stroke-width="1.1"/>
<line x1="85.22" y1="414.9" x2="85.22" y2="417.6" stroke="#3a3a3a" stroke-width="1.1"/>
<line x1="85.22" y1="276.4" x2="85.22" y2="273.7" stroke="#3a3a3a" stroke-width="1.1"/>
<text x="85.22" y="423.1" font-family='"Liberation Sans", sans-serif' font-size="4.6" fill="#2a2a2a" text-anchor="middle">10<tspan dy="-1.8" font-size="3.2">2</tspan></text>
<line x1="93.7" y1="414.9" x2="93.7" y2="416.4" stroke="#3a3a3a" stroke-width="1.1"/>
<line x1="93.7" y1="276.4" x2="93.7" y2="274.9" stroke="#3a3a3a" stroke-width="1.1"/>
<line x1="98.66" y1="414.9" x2="98.66" y2="416.4" stroke="#3a3a3a" stroke-width="1.1"/>
<line x1="98.66" y1="276.4" x2="98.66" y2="274.9" stroke="#3a3a3a" stroke-width="1.1"/>
<line x1="102.17" y1="414.9" x2="102.17" y2="416.4" stroke="#3a3a3a" stroke-width="1.1"/>
<line x1="102.17" y1="276.4" x2="102.17" y2="274.9" stroke="#3a3a3a" stroke-width="1.1"/>
<line x1="104.9" y1="414.9" x2="104.9" y2="416.4" stroke="#3a3a3a" stroke-width="1.1"/>
<line x1="104.9" y1="276.4" x2="104.9" y2="274.9" stroke="#3a3a3a" stroke-width="1.1"/>
<line x1="107.13" y1="414.9" x2="107.13" y2="416.4" stroke="#3a3a3a" stroke-width="1.1"/>
<line x1="107.13" y1="276.4" x2="107.13" y2="274.9" stroke="#3a3a3a" stroke-width="1.1"/>
<line x1="109.02" y1="414.9" x2="109.02" y2="416.4" stroke="#3a3a3a" stroke-width="1.1"/>
<line x1="109.02" y1="276.4" x2="109.02" y2="274.9" stroke="#3a3a3a" stroke-width="1.1"/>
<line x1="110.65" y1="414.9" x2="110.65" y2="416.4" stroke="#3a3a3a" stroke-width="1.1"/>
<line x1="110.65" y1="276.4" x2="110.65" y2="274.9" stroke="#3a3a3a" stroke-width="1.1"/>
<line x1="112.09" y1="414.9" x2="112.09" y2="416.4" stroke="#3a3a3a" stroke-width="1.1"/>
<line x1="112.09" y1="276.4" x2="112.09" y2="274.9" stroke="#3a3a3a" stroke-width="1.1"/>
<line x1="113.38" y1="414.9" x2="113.38" y2="417.6" stroke="#3a3a3a" stroke-width="1.1"/>
<line x1="113.38" y1="276.4" x2="113.38" y2="273.7" stroke="#3a3a3a" stroke-width="1.1"/>
<text x="113.38" y="423.1" font-family='"Liberation Sans", sans-serif' font-size="4.6" fill="#2a2a2a" text-anchor="middle">10<tspan dy="-1.8" font-size="3.2">3</tspan></text>
<line x1="121.86" y1="414.9" x2="121.86" y2="416.4" stroke="#3a3a3a" stroke-width="1.1"/>
<line x1="121.86" y1="276.4" x2="121.86" y2="274.9" stroke="#3a3a3a" stroke-width="1.1"/>
<line x1="126.82" y1="414.9" x2="126.82" y2="416.4" stroke="#3a3a3a" stroke-width="1.1"/>
<line x1="126.82" y1="276.4" x2="126.82" y2="274.9" stroke="#3a3a3a" stroke-width="1.1"/>
<line x1="130.33" y1="414.9" x2="130.33" y2="416.4" stroke="#3a3a3a" stroke-width="1.1"/>
<line x1="130.33" y1="276.4" x2="130.33" y2="274.9" stroke="#3a3a3a" stroke-width="1.1"/>
<line x1="133.06" y1="414.9" x2="133.06" y2="416.4" stroke="#3a3a3a" stroke-width="1.1"/>
<line x1="133.06" y1="276.4" x2="133.06" y2="274.9" stroke="#3a3a3a" stroke-width="1.1"/>
<line x1="135.29" y1="414.9" x2="135.29" y2="416.4" stroke="#3a3a3a" stroke-width="1.1"/>
<line x1="135.29" y1="276.4" x2="135.29" y2="274.9" stroke="#3a3a3a" stroke-width="1.1"/>
<line x1="137.18" y1="414.9" x2="137.18" y2="416.4" stroke="#3a3a3a" stroke-width="1.1"/>
<line x1="137.18" y1="276.4" x2="137.18" y2="274.9" stroke="#3a3a3a" stroke-width="1.1"/>
<line x1="138.81" y1="414.9" x2="138.81" y2="416.4" stroke="#3a3a3a" stroke-width="1.1"/>
<line x1="138.81" y1="276.4" x2="138.81" y2="274.9" stroke="#3a3a3a" stroke-width="1.1"/>
<line x1="140.25" y1="414.9" x2="140.25" y2="416.4" stroke="#3a3a3a" stroke-width="1.1"/>
<line x1="140.25" y1="276.4" x2="140.25" y2="274.9" stroke="#3a3a3a" stroke-width="1.1"/>
<line x1="141.54" y1="414.9" x2="141.54" y2="417.6" stroke="#3a3a3a" stroke-width="1.1"/>
<line x1="141.54" y1="276.4" x2="141.54" y2="273.7" stroke="#3a3a3a" stroke-width="1.1"/>
<text x="141.54" y="423.1" font-family='"Liberation Sans", sans-serif' font-size="4.6" fill="#2a2a2a" text-anchor="middle">10<tspan dy="-1.8" font-size="3.2">4</tspan></text>
<line x1="150.02" y1="414.9" x2="150.02" y2="416.4" stroke="#3a3a3a" stroke-width="1.1"/>
<line x1="150.02" y1="276.4" x2="150.02" y2="274.9" stroke="#3a3a3a" stroke-width="1.1"/>
<line x1="154.98" y1="414.9" x2="154.98" y2="416.4" stroke="#3a3a3a" stroke-width="1.1"/>
<line x1="154.98" y1="276.4" x2="154.98" y2="274.9" stroke="#3a3a3a" stroke-width="1.1"/>
<line x1="158.49" y1="414.9" x2="158.49" y2="416.4" stroke="#3a3a3a" stroke-width="1.1"/>
<line x1="158.49" y1="276.4" x2="158.49" y2="274.9" stroke="#3a3a3a" stroke-width="1.1"/>
<line x1="161.22" y1="414.9" x2="161.22" y2="416.4" stroke="#3a3a3a" stroke-width="1.1"/>
<line x1="161.22" y1="276.4" x2="161.22" y2="274.9" stroke="#3a3a3a" stroke-width="1.1"/>
<line x1="163.45" y1="414.9" x2="163.45" y2="416.4" stroke="#3a3a3a" stroke-width="1.1"/>
<line x1="163.45" y1="276.4" x2="163.45" y2="274.9" stroke="#3a3a3a" stroke-width="1.1"/>
<line x1="165.34" y1="414.9" x2="165.34" y2="416.4" stroke="#3a3a3a" stroke-width="1.1"/>
<line x1="165.34" y1="276.4" x2="165.34" y2="274.9" stroke="#3a3a3a" stroke-width="1.1"/>
<line x1="166.97" y1="414.9" x2="166.97" y2="416.4" stroke="#3a3a3a" stroke-width="1.1"/>
<line x1="166.97" y1="276.4" x2="166.97" y2="274.9" stroke="#3a3a3a" stroke-width="1.1"/>
<line x1="168.41" y1="414.9" x2="168.41" y2="416.4" stroke="#3a3a3a" stroke-width="1.1"/>
<line x1="168.41" y1="276.4" x2="168.41" y2="274.9" stroke="#3a3a3a" stroke-width="1.1"/>
<line x1="169.7" y1="414.9" x2="169.7" y2="417.6" stroke="#3a3a3a" stroke-width="1.1"/>
<line x1="169.7" y1="276.4" x2="169.7" y2="273.7" stroke="#3a3a3a" stroke-width="1.1"/>
<text x="169.7" y="423.1" font-family='"Liberation Sans", sans-serif' font-size="4.6" fill="#2a2a2a" text-anchor="middle">10<tspan dy="-1.8" font-size="3.2">5</tspan></text>
<line x1="28.9" y1="397.59" x2="169.7" y2="397.59" stroke="#e9e9e9" stroke-width="0.7" stroke-dasharray="1,1.2"/>
<line x1="28.9" y1="380.27" x2="169.7" y2="380.27" stroke="#e9e9e9" stroke-width="0.7" stroke-dasharray="1,1.2"/>
<line x1="28.9" y1="362.96" x2="169.7" y2="362.96" stroke="#e9e9e9" stroke-width="0.7" stroke-dasharray="1,1.2"/>
<line x1="28.9" y1="345.65" x2="169.7" y2="345.65" stroke="#e9e9e9" stroke-width="0.7" stroke-dasharray="1,1.2"/>
<line x1="28.9" y1="328.34" x2="169.7" y2="328.34" stroke="#e9e9e9" stroke-width="0.7" stroke-dasharray="1,1.2"/>
<line x1="28.9" y1="311.02" x2="169.7" y2="311.02" stroke="#e9e9e9" stroke-width="0.7" stroke-dasharray="1,1.2"/>
<line x1="28.9" y1="293.71" x2="169.7" y2="293.71" stroke="#e9e9e9" stroke-width="0.7" stroke-dasharray="1,1.2"/>
<line x1="28.9" y1="414.9" x2="26.2" y2="414.9" stroke="#3a3a3a" stroke-width="1.1"/>
<line x1="169.7" y1="414.9" x2="172.4" y2="414.9" stroke="#3a3a3a" stroke-width="1.1"/>
<text x="23.4" y="416.5" font-family='"Liberation Sans", sans-serif' font-size="4.6" fill="#2a2a2a" text-anchor="end">10<tspan dy="-1.8" font-size="3.2">-9</tspan></text>
<line x1="28.9" y1="409.69" x2="27.4" y2="409.69" stroke="#3a3a3a" stroke-width="1.1"/>
<line x1="169.7" y1="409.69" x2="171.2" y2="409.69" stroke="#3a3a3a" stroke-width="1.1"/>
<line x1="28.9" y1="406.64" x2="27.4" y2="406.64" stroke="#3a3a3a" stroke-width="1.1"/>
<line x1="169.7" y1="406.64" x2="171.2" y2="406.64" stroke="#3a3a3a" stroke-width="1.1"/>
<line x1="28.9" y1="404.48" x2="27.4" y2="404.48" stroke="#3a3a3a" stroke-width="1.1"/>
<line x1="169.7" y1="404.48" x2="171.2" y2="404.48" stroke="#3a3a3a" stroke-width="1.1"/>
<line x1="28.9" y1="402.8" x2="27.4" y2="402.8" stroke="#3a3a3a" stroke-width="1.1"/>
<line x1="169.7" y1="402.8" x2="171.2" y2="402.8" stroke="#3a3a3a" stroke-width="1.1"/>
<line x1="28.9" y1="401.43" x2="27.4" y2="401.43" stroke="#3a3a3a" stroke-width="1.1"/>
<line x1="169.7" y1="401.43" x2="171.2" y2="401.43" stroke="#3a3a3a" stroke-width="1.1"/>
<line x1="28.9" y1="400.27" x2="27.4" y2="400.27" stroke="#3a3a3a" stroke-width="1.1"/>
<line x1="169.7" y1="400.27" x2="171.2" y2="400.27" stroke="#3a3a3a" stroke-width="1.1"/>
<line x1="28.9" y1="399.27" x2="27.4" y2="399.27" stroke="#3a3a3a" stroke-width="1.1"/>
<line x1="169.7" y1="399.27" x2="171.2" y2="399.27" stroke="#3a3a3a" stroke-width="1.1"/>
<line x1="28.9" y1="398.38" x2="27.4" y2="398.38" stroke="#3a3a3a" stroke-width="1.1"/>
<line x1="169.7" y1="398.38" x2="171.2" y2="398.38" stroke="#3a3a3a" stroke-width="1.1"/>
<line x1="28.9" y1="397.59" x2="26.2" y2="397.59" stroke="#3a3a3a" stroke-width="1.1"/>
<line x1="169.7" y1="397.59" x2="172.4" y2="397.59" stroke="#3a3a3a" stroke-width="1.1"/>
<text x="23.4" y="399.19" font-family='"Liberation Sans", sans-serif' font-size="4.6" fill="#2a2a2a" text-anchor="end">10<tspan dy="-1.8" font-size="3.2">-8</tspan></text>
<line x1="28.9" y1="392.38" x2="27.4" y2="392.38" stroke="#3a3a3a" stroke-width="1.1"/>
<line x1="169.7" y1="392.38" x2="171.2" y2="392.38" stroke="#3a3a3a" stroke-width="1.1"/>
<line x1="28.9" y1="389.33" x2="27.4" y2="389.33" stroke="#3a3a3a" stroke-width="1.1"/>
<line x1="169.7" y1="389.33" x2="171.2" y2="389.33" stroke="#3a3a3a" stroke-width="1.1"/>
<line x1="28.9" y1="387.16" x2="27.4" y2="387.16" stroke="#3a3a3a" stroke-width="1.1"/>
<line x1="169.7" y1="387.16" x2="171.2" y2="387.16" stroke="#3a3a3a" stroke-width="1.1"/>
<line x1="28.9" y1="385.49" x2="27.4" y2="385.49" stroke="#3a3a3a" stroke-width="1.1"/>
<line x1="169.7" y1="385.49" x2="171.2" y2="385.49" stroke="#3a3a3a" stroke-width="1.1"/>
<line x1="28.9" y1="384.12" x2="27.4" y2="384.12" stroke="#3a3a3a" stroke-width="1.1"/>
<line x1="169.7" y1="384.12" x2="171.2" y2="384.12" stroke="#3a3a3a" stroke-width="1.1"/>
<line x1="28.9" y1="382.96" x2="27.4" y2="382.96" stroke="#3a3a3a" stroke-width="1.1"/>
<line x1="169.7" y1="382.96" x2="171.2" y2="382.96" stroke="#3a3a3a" stroke-width="1.1"/>
<line x1="28.9" y1="381.95" x2="27.4" y2="381.95" stroke="#3a3a3a" stroke-width="1.1"/>
<line x1="169.7" y1="381.95" x2="171.2" y2="381.95" stroke="#3a3a3a" stroke-width="1.1"/>
<line x1="28.9" y1="381.07" x2="27.4" y2="381.07" stroke="#3a3a3a" stroke-width="1.1"/>
<line x1="169.7" y1="381.07" x2="171.2" y2="381.07" stroke="#3a3a3a" stroke-width="1.1"/>
<line x1="28.9" y1="380.27" x2="26.2" y2="380.27" stroke="#3a3a3a" stroke-width="1.1"/>
<line x1="169.7" y1="380.27" x2="172.4" y2="380.27" stroke="#3a3a3a" stroke-width="1.1"/>
<text x="23.4" y="381.88" font-family='"Liberation Sans", sans-serif' font-size="4.6" fill="#2a2a2a" text-anchor="end">10<tspan dy="-1.8" font-size="3.2">-7</tspan></text>
<line x1="28.9" y1="375.06" x2="27.4" y2="375.06" stroke="#3a3a3a" stroke-width="1.1"/>
<line x1="169.7" y1="375.06" x2="171.2" y2="375.06" stroke="#3a3a3a" stroke-width="1.1"/>
<line x1="28.9" y1="372.01" x2="27.4" y2="372.01" stroke="#3a3a3a" stroke-width="1.1"/>
<line x1="169.7" y1="372.01" x2="171.2" y2="372.01" stroke="#3a3a3a" stroke-width="1.1"/>
<line x1="28.9" y1="369.85" x2="27.4" y2="369.85" stroke="#3a3a3a" stroke-width="1.1"/>
<line x1="169.7" y1="369.85" x2="171.2" y2="369.85" stroke="#3a3a3a" stroke-width="1.1"/>
<line x1="28.9" y1="368.17" x2="27.4" y2="368.17" stroke="#3a3a3a" stroke-width="1.1"/>
<line x1="169.7" y1="368.17" x2="171.2" y2="368.17" stroke="#3a3a3a" stroke-width="1.1"/>
<line x1="28.9" y1="366.8" x2="27.4" y2="366.8" stroke="#3a3a3a" stroke-width="1.1"/>
<line x1="169.7" y1="366.8" x2="171.2" y2="366.8" stroke="#3a3a3a" stroke-width="1.1"/>
<line x1="28.9" y1="365.64" x2="27.4" y2="365.64" stroke="#3a3a3a" stroke-width="1.1"/>
<line x1="169.7" y1="365.64" x2="171.2" y2="365.64" stroke="#3a3a3a" stroke-width="1.1"/>
<line x1="28.9" y1="364.64" x2="27.4" y2="364.64" stroke="#3a3a3a" stroke-width="1.1"/>
<line x1="169.7" y1="364.64" x2="171.2" y2="364.64" stroke="#3a3a3a" stroke-width="1.1"/>
<line x1="28.9" y1="363.75" x2="27.4" y2="363.75" stroke="#3a3a3a" stroke-width="1.1"/>
<line x1="169.7" y1="363.75" x2="171.2" y2="363.75" stroke="#3a3a3a" stroke-width="1.1"/>
<line x1="28.9" y1="362.96" x2="26.2" y2="362.96" stroke="#3a3a3a" stroke-width="1.1"/>
<line x1="169.7" y1="362.96" x2="172.4" y2="362.96" stroke="#3a3a3a" stroke-width="1.1"/>
<text x="23.4" y="364.56" font-family='"Liberation Sans", sans-serif' font-size="4.6" fill="#2a2a2a" text-anchor="end">10<tspan dy="-1.8" font-size="3.2">-6</tspan></text>
<line x1="28.9" y1="357.75" x2="27.4" y2="357.75" stroke="#3a3a3a" stroke-width="1.1"/>
<line x1="169.7" y1="357.75" x2="171.2" y2="357.75" stroke="#3a3a3a" stroke-width="1.1"/>
<line x1="28.9" y1="354.7" x2="27.4" y2="354.7" stroke="#3a3a3a" stroke-width="1.1"/>
<line x1="169.7" y1="354.7" x2="171.2" y2="354.7" stroke="#3a3a3a" stroke-width="1.1"/>
<line x1="28.9" y1="352.54" x2="27.4" y2="352.54" stroke="#3a3a3a" stroke-width="1.1"/>
<line x1="169.7" y1="352.54" x2="171.2" y2="352.54" stroke="#3a3a3a" stroke-width="1.1"/>
<line x1="28.9" y1="350.86" x2="27.4" y2="350.86" stroke="#3a3a3a" stroke-width="1.1"/>
<line x1="169.7" y1="350.86" x2="171.2" y2="350.86" stroke="#3a3a3a" stroke-width="1.1"/>
<line x1="28.9" y1="349.49" x2="27.4" y2="349.49" stroke="#3a3a3a" stroke-width="1.1"/>
<line x1="169.7" y1="349.49" x2="171.2" y2="349.49" stroke="#3a3a3a" stroke-width="1.1"/>
<line x1="28.9" y1="348.33" x2="27.4" y2="348.33" stroke="#3a3a3a" stroke-width="1.1"/>
<line x1="169.7" y1="348.33" x2="171.2" y2="348.33" stroke="#3a3a3a" stroke-width="1.1"/>
<line x1="28.9" y1="347.33" x2="27.4" y2="347.33" stroke="#3a3a3a" stroke-width="1.1"/>
<line x1="169.7" y1="347.33" x2="171.2" y2="347.33" stroke="#3a3a3a" stroke-width="1.1"/>
<line x1="28.9" y1="346.44" x2="27.4" y2="346.44" stroke="#3a3a3a" stroke-width="1.1"/>
<line x1="169.7" y1="346.44" x2="171.2" y2="346.44" stroke="#3a3a3a" stroke-width="1.1"/>
<line x1="28.9" y1="345.65" x2="26.2" y2="345.65" stroke="#3a3a3a" stroke-width="1.1"/>
<line x1="169.7" y1="345.65" x2="172.4" y2="345.65" stroke="#3a3a3a" stroke-width="1.1"/>
<text x="23.4" y="347.25" font-family='"Liberation Sans", sans-serif' font-size="4.6" fill="#2a2a2a" text-anchor="end">10<tspan dy="-1.8" font-size="3.2">-5</tspan></text>
<line x1="28.9" y1="340.44" x2="27.4" y2="340.44" stroke="#3a3a3a" stroke-width="1.1"/>
<line x1="169.7" y1="340.44" x2="171.2" y2="340.44" stroke="#3a3a3a" stroke-width="1.1"/>
<line x1="28.9" y1="337.39" x2="27.4" y2="337.39" stroke="#3a3a3a" stroke-width="1.1"/>
<line x1="169.7" y1="337.39" x2="171.2" y2="337.39" stroke="#3a3a3a" stroke-width="1.1"/>
<line x1="28.9" y1="335.23" x2="27.4" y2="335.23" stroke="#3a3a3a" stroke-width="1.1"/>
<line x1="169.7" y1="335.23" x2="171.2" y2="335.23" stroke="#3a3a3a" stroke-width="1.1"/>
<line x1="28.9" y1="333.55" x2="27.4" y2="333.55" stroke="#3a3a3a" stroke-width="1.1"/>
<line x1="169.7" y1="333.55" x2="171.2" y2="333.55" stroke="#3a3a3a" stroke-width="1.1"/>
<line x1="28.9" y1="332.18" x2="27.4" y2="332.18" stroke="#3a3a3a" stroke-width="1.1"/>
<line x1="169.7" y1="332.18" x2="171.2" y2="332.18" stroke="#3a3a3a" stroke-width="1.1"/>
<line x1="28.9" y1="331.02" x2="27.4" y2="331.02" stroke="#3a3a3a" stroke-width="1.1"/>
<line x1="169.7" y1="331.02" x2="171.2" y2="331.02" stroke="#3a3a3a" stroke-width="1.1"/>
<line x1="28.9" y1="330.02" x2="27.4" y2="330.02" stroke="#3a3a3a" stroke-width="1.1"/>
<line x1="169.7" y1="330.02" x2="171.2" y2="330.02" stroke="#3a3a3a" stroke-width="1.1"/>
<line x1="28.9" y1="329.13" x2="27.4" y2="329.13" stroke="#3a3a3a" stroke-width="1.1"/>
<line x1="169.7" y1="329.13" x2="171.2" y2="329.13" stroke="#3a3a3a" stroke-width="1.1"/>
<line x1="28.9" y1="328.34" x2="26.2" y2="328.34" stroke="#3a3a3a" stroke-width="1.1"/>
<line x1="169.7" y1="328.34" x2="172.4" y2="328.34" stroke="#3a3a3a" stroke-width="1.1"/>
<text x="23.4" y="329.94" font-family='"Liberation Sans", sans-serif' font-size="4.6" fill="#2a2a2a" text-anchor="end">10<tspan dy="-1.8" font-size="3.2">-4</tspan></text>
<line x1="28.9" y1="323.13" x2="27.4" y2="323.13" stroke="#3a3a3a" stroke-width="1.1"/>
<line x1="169.7" y1="323.13" x2="171.2" y2="323.13" stroke="#3a3a3a" stroke-width="1.1"/>
<line x1="28.9" y1="320.08" x2="27.4" y2="320.08" stroke="#3a3a3a" stroke-width="1.1"/>
<line x1="169.7" y1="320.08" x2="171.2" y2="320.08" stroke="#3a3a3a" stroke-width="1.1"/>
<line x1="28.9" y1="317.91" x2="27.4" y2="317.91" stroke="#3a3a3a" stroke-width="1.1"/>
<line x1="169.7" y1="317.91" x2="171.2" y2="317.91" stroke="#3a3a3a" stroke-width="1.1"/>
<line x1="28.9" y1="316.24" x2="27.4" y2="316.24" stroke="#3a3a3a" stroke-width="1.1"/>
<line x1="169.7" y1="316.24" x2="171.2" y2="316.24" stroke="#3a3a3a" stroke-width="1.1"/>
<line x1="28.9" y1="314.87" x2="27.4" y2="314.87" stroke="#3a3a3a" stroke-width="1.1"/>
<line x1="169.7" y1="314.87" x2="171.2" y2="314.87" stroke="#3a3a3a" stroke-width="1.1"/>
<line x1="28.9" y1="313.71" x2="27.4" y2="313.71" stroke="#3a3a3a" stroke-width="1.1"/>
<line x1="169.7" y1="313.71" x2="171.2" y2="313.71" stroke="#3a3a3a" stroke-width="1.1"/>
<line x1="28.9" y1="312.7" x2="27.4" y2="312.7" stroke="#3a3a3a" stroke-width="1.1"/>
<line x1="169.7" y1="312.7" x2="171.2" y2="312.7" stroke="#3a3a3a" stroke-width="1.1"/>
<line x1="28.9" y1="311.82" x2="27.4" y2="311.82" stroke="#3a3a3a" stroke-width="1.1"/>
<line x1="169.7" y1="311.82" x2="171.2" y2="311.82" stroke="#3a3a3a" stroke-width="1.1"/>
<line x1="28.9" y1="311.02" x2="26.2" y2="311.02" stroke="#3a3a3a" stroke-width="1.1"/>
<line x1="169.7" y1="311.02" x2="172.4" y2="311.02" stroke="#3a3a3a" stroke-width="1.1"/>
<text x="23.4" y="312.62" font-family='"Liberation Sans", sans-serif' font-size="4.6" fill="#2a2a2a" text-anchor="end">10<tspan dy="-1.8" font-size="3.2">-3</tspan></text>
<line x1="28.9" y1="305.81" x2="27.4" y2="305.81" stroke="#3a3a3a" stroke-width="1.1"/>
<line x1="169.7" y1="305.81" x2="171.2" y2="305.81" stroke="#3a3a3a" stroke-width="1.1"/>
<line x1="28.9" y1="302.76" x2="27.4" y2="302.76" stroke="#3a3a3a" stroke-width="1.1"/>
<line x1="169.7" y1="302.76" x2="171.2" y2="302.76" stroke="#3a3a3a" stroke-width="1.1"/>
<line x1="28.9" y1="300.6" x2="27.4" y2="300.6" stroke="#3a3a3a" stroke-width="1.1"/>
<line x1="169.7" y1="300.6" x2="171.2" y2="300.6" stroke="#3a3a3a" stroke-width="1.1"/>
<line x1="28.9" y1="298.92" x2="27.4" y2="298.92" stroke="#3a3a3a" stroke-width="1.1"/>
<line x1="169.7" y1="298.92" x2="171.2" y2="298.92" stroke="#3a3a3a" stroke-width="1.1"/>
<line x1="28.9" y1="297.55" x2="27.4" y2="297.55" stroke="#3a3a3a" stroke-width="1.1"/>
<line x1="169.7" y1="297.55" x2="171.2" y2="297.55" stroke="#3a3a3a" stroke-width="1.1"/>
<line x1="28.9" y1="296.39" x2="27.4" y2="296.39" stroke="#3a3a3a" stroke-width="1.1"/>
<line x1="169.7" y1="296.39" x2="171.2" y2="296.39" stroke="#3a3a3a" stroke-width="1.1"/>
<line x1="28.9" y1="295.39" x2="27.4" y2="295.39" stroke="#3a3a3a" stroke-width="1.1"/>
<line x1="169.7" y1="295.39" x2="171.2" y2="295.39" stroke="#3a3a3a" stroke-width="1.1"/>
<line x1="28.9" y1="294.5" x2="27.4" y2="294.5" stroke="#3a3a3a" stroke-width="1.1"/>
<line x1="169.7" y1="294.5" x2="171.2" y2="294.5" stroke="#3a3a3a" stroke-width="1.1"/>
<line x1="28.9" y1="293.71" x2="26.2" y2="293.71" stroke="#3a3a3a" stroke-width="1.1"/>
<line x1="169.7" y1="293.71" x2="172.4" y2="293.71" stroke="#3a3a3a" stroke-width="1.1"/>
<text x="23.4" y="295.31" font-family='"Liberation Sans", sans-serif' font-size="4.6" fill="#2a2a2a" text-anchor="end">10<tspan dy="-1.8" font-size="3.2">-2</tspan></text>
<line x1="28.9" y1="288.5" x2="27.4" y2="288.5" stroke="#3a3a3a" stroke-width="1.1"/>
<line x1="169.7" y1="288.5" x2="171.2" y2="288.5" stroke="#3a3a3a" stroke-width="1.1"/>
<line x1="28.9" y1="285.45" x2="27.4" y2="285.45" stroke="#3a3a3a" stroke-width="1.1"/>
<line x1="169.7" y1="285.45" x2="171.2" y2="285.45" stroke="#3a3a3a" stroke-width="1.1"/>
<line x1="28.9" y1="283.29" x2="27.4" y2="283.29" stroke="#3a3a3a" stroke-width="1.1"/>
<line x1="169.7" y1="283.29" x2="171.2" y2="283.29" stroke="#3a3a3a" stroke-width="1.1"/>
<line x1="28.9" y1="281.61" x2="27.4" y2="281.61" stroke="#3a3a3a" stroke-width="1.1"/>
<line x1="169.7" y1="281.61" x2="171.2" y2="281.61" stroke="#3a3a3a" stroke-width="1.1"/>
<line x1="28.9" y1="280.24" x2="27.4" y2="280.24" stroke="#3a3a3a" stroke-width="1.1"/>
<line x1="169.7" y1="280.24" x2="171.2" y2="280.24" stroke="#3a3a3a" stroke-width="1.1"/>
<line x1="28.9" y1="279.08" x2="27.4" y2="279.08" stroke="#3a3a3a" stroke-width="1.1"/>
<line x1="169.7" y1="279.08" x2="171.2" y2="279.08" stroke="#3a3a3a" stroke-width="1.1"/>
<line x1="28.9" y1="278.08" x2="27.4" y2="278.08" stroke="#3a3a3a" stroke-width="1.1"/>
<line x1="169.7" y1="278.08" x2="171.2" y2="278.08" stroke="#3a3a3a" stroke-width="1.1"/>
<line x1="28.9" y1="277.19" x2="27.4" y2="277.19" stroke="#3a3a3a" stroke-width="1.1"/>
<line x1="169.7" y1="277.19" x2="171.2" y2="277.19" stroke="#3a3a3a" stroke-width="1.1"/>
<line x1="28.9" y1="276.4" x2="26.2" y2="276.4" stroke="#3a3a3a" stroke-width="1.1"/>
<line x1="169.7" y1="276.4" x2="172.4" y2="276.4" stroke="#3a3a3a" stroke-width="1.1"/>
<text x="23.4" y="278" font-family='"Liberation Sans", sans-serif' font-size="4.6" fill="#2a2a2a" text-anchor="end">10<tspan dy="-1.8" font-size="3.2">-1</tspan></text>
<line x1="245.66" y1="276.4" x2="245.66" y2="414.9" stroke="#e9e9e9" stroke-width="0.7" stroke-dasharray="1,1.2"/>
<line x1="273.82" y1="276.4" x2="273.82" y2="414.9" stroke="#e9e9e9" stroke-width="0.7" stroke-dasharray="1,1.2"/>
<line x1="301.98" y1="276.4" x2="301.98" y2="414.9" stroke="#e9e9e9" stroke-width="0.7" stroke-dasharray="1,1.2"/>
<line x1="330.14" y1="276.4" x2="330.14" y2="414.9" stroke="#e9e9e9" stroke-width="0.7" stroke-dasharray="1,1.2"/>
<line x1="217.5" y1="414.9" x2="217.5" y2="417.6" stroke="#3a3a3a" stroke-width="1.1"/>
<line x1="217.5" y1="276.4" x2="217.5" y2="273.7" stroke="#3a3a3a" stroke-width="1.1"/>
<text x="217.5" y="423.1" font-family='"Liberation Sans", sans-serif' font-size="4.6" fill="#2a2a2a" text-anchor="middle">10<tspan dy="-1.8" font-size="3.2">0</tspan></text>
<line x1="225.98" y1="414.9" x2="225.98" y2="416.4" stroke="#3a3a3a" stroke-width="1.1"/>
<line x1="225.98" y1="276.4" x2="225.98" y2="274.9" stroke="#3a3a3a" stroke-width="1.1"/>
<line x1="230.94" y1="414.9" x2="230.94" y2="416.4" stroke="#3a3a3a" stroke-width="1.1"/>
<line x1="230.94" y1="276.4" x2="230.94" y2="274.9" stroke="#3a3a3a" stroke-width="1.1"/>
<line x1="234.45" y1="414.9" x2="234.45" y2="416.4" stroke="#3a3a3a" stroke-width="1.1"/>
<line x1="234.45" y1="276.4" x2="234.45" y2="274.9" stroke="#3a3a3a" stroke-width="1.1"/>
<line x1="237.18" y1="414.9" x2="237.18" y2="416.4" stroke="#3a3a3a" stroke-width="1.1"/>
<line x1="237.18" y1="276.4" x2="237.18" y2="274.9" stroke="#3a3a3a" stroke-width="1.1"/>
<line x1="239.41" y1="414.9" x2="239.41" y2="416.4" stroke="#3a3a3a" stroke-width="1.1"/>
<line x1="239.41" y1="276.4" x2="239.41" y2="274.9" stroke="#3a3a3a" stroke-width="1.1"/>
<line x1="241.3" y1="414.9" x2="241.3" y2="416.4" stroke="#3a3a3a" stroke-width="1.1"/>
<line x1="241.3" y1="276.4" x2="241.3" y2="274.9" stroke="#3a3a3a" stroke-width="1.1"/>
<line x1="242.93" y1="414.9" x2="242.93" y2="416.4" stroke="#3a3a3a" stroke-width="1.1"/>
<line x1="242.93" y1="276.4" x2="242.93" y2="274.9" stroke="#3a3a3a" stroke-width="1.1"/>
<line x1="244.37" y1="414.9" x2="244.37" y2="416.4" stroke="#3a3a3a" stroke-width="1.1"/>
<line x1="244.37" y1="276.4" x2="244.37" y2="274.9" stroke="#3a3a3a" stroke-width="1.1"/>
<line x1="245.66" y1="414.9" x2="245.66" y2="417.6" stroke="#3a3a3a" stroke-width="1.1"/>
<line x1="245.66" y1="276.4" x2="245.66" y2="273.7" stroke="#3a3a3a" stroke-width="1.1"/>
<text x="245.66" y="423.1" font-family='"Liberation Sans", sans-serif' font-size="4.6" fill="#2a2a2a" text-anchor="middle">10<tspan dy="-1.8" font-size="3.2">1</tspan></text>
<line x1="254.14" y1="414.9" x2="254.14" y2="416.4" stroke="#3a3a3a" stroke-width="1.1"/>
<line x1="254.14" y1="276.4" x2="254.14" y2="274.9" stroke="#3a3a3a" stroke-width="1.1"/>
<line x1="259.1" y1="414.9" x2="259.1" y2="416.4" stroke="#3a3a3a" stroke-width="1.1"/>
<line x1="259.1" y1="276.4" x2="259.1" y2="274.9" stroke="#3a3a3a" stroke-width="1.1"/>
<line x1="262.61" y1="414.9" x2="262.61" y2="416.4" stroke="#3a3a3a" stroke-width="1.1"/>
<line x1="262.61" y1="276.4" x2="262.61" y2="274.9" stroke="#3a3a3a" stroke-width="1.1"/>
<line x1="265.34" y1="414.9" x2="265.34" y2="416.4" stroke="#3a3a3a" stroke-width="1.1"/>
<line x1="265.34" y1="276.4" x2="265.34" y2="274.9" stroke="#3a3a3a" stroke-width="1.1"/>
<line x1="267.57" y1="414.9" x2="267.57" y2="416.4" stroke="#3a3a3a" stroke-width="1.1"/>
<line x1="267.57" y1="276.4" x2="267.57" y2="274.9" stroke="#3a3a3a" stroke-width="1.1"/>
<line x1="269.46" y1="414.9" x2="269.46" y2="416.4" stroke="#3a3a3a" stroke-width="1.1"/>
<line x1="269.46" y1="276.4" x2="269.46" y2="274.9" stroke="#3a3a3a" stroke-width="1.1"/>
<line x1="271.09" y1="414.9" x2="271.09" y2="416.4" stroke="#3a3a3a" stroke-width="1.1"/>
<line x1="271.09" y1="276.4" x2="271.09" y2="274.9" stroke="#3a3a3a" stroke-width="1.1"/>
<line x1="272.53" y1="414.9" x2="272.53" y2="416.4" stroke="#3a3a3a" stroke-width="1.1"/>
<line x1="272.53" y1="276.4" x2="272.53" y2="274.9" stroke="#3a3a3a" stroke-width="1.1"/>
<line x1="273.82" y1="414.9" x2="273.82" y2="417.6" stroke="#3a3a3a" stroke-width="1.1"/>
<line x1="273.82" y1="276.4" x2="273.82" y2="273.7" stroke="#3a3a3a" stroke-width="1.1"/>
<text x="273.82" y="423.1" font-family='"Liberation Sans", sans-serif' font-size="4.6" fill="#2a2a2a" text-anchor="middle">10<tspan dy="-1.8" font-size="3.2">2</tspan></text>
<line x1="282.3" y1="414.9" x2="282.3" y2="416.4" stroke="#3a3a3a" stroke-width="1.1"/>
<line x1="282.3" y1="276.4" x2="282.3" y2="274.9" stroke="#3a3a3a" stroke-width="1.1"/>
<line x1="287.26" y1="414.9" x2="287.26" y2="416.4" stroke="#3a3a3a" stroke-width="1.1"/>
<line x1="287.26" y1="276.4" x2="287.26" y2="274.9" stroke="#3a3a3a" stroke-width="1.1"/>
<line x1="290.77" y1="414.9" x2="290.77" y2="416.4" stroke="#3a3a3a" stroke-width="1.1"/>
<line x1="290.77" y1="276.4" x2="290.77" y2="274.9" stroke="#3a3a3a" stroke-width="1.1"/>
<line x1="293.5" y1="414.9" x2="293.5" y2="416.4" stroke="#3a3a3a" stroke-width="1.1"/>
<line x1="293.5" y1="276.4" x2="293.5" y2="274.9" stroke="#3a3a3a" stroke-width="1.1"/>
<line x1="295.73" y1="414.9" x2="295.73" y2="416.4" stroke="#3a3a3a" stroke-width="1.1"/>
<line x1="295.73" y1="276.4" x2="295.73" y2="274.9" stroke="#3a3a3a" stroke-width="1.1"/>
<line x1="297.62" y1="414.9" x2="297.62" y2="416.4" stroke="#3a3a3a" stroke-width="1.1"/>
<line x1="297.62" y1="276.4" x2="297.62" y2="274.9" stroke="#3a3a3a" stroke-width="1.1"/>
<line x1="299.25" y1="414.9" x2="299.25" y2="416.4" stroke="#3a3a3a" stroke-width="1.1"/>
<line x1="299.25" y1="276.4" x2="299.25" y2="274.9" stroke="#3a3a3a" stroke-width="1.1"/>
<line x1="300.69" y1="414.9" x2="300.69" y2="416.4" stroke="#3a3a3a" stroke-width="1.1"/>
<line x1="300.69" y1="276.4" x2="300.69" y2="274.9" stroke="#3a3a3a" stroke-width="1.1"/>
<line x1="301.98" y1="414.9" x2="301.98" y2="417.6" stroke="#3a3a3a" stroke-width="1.1"/>
<line x1="301.98" y1="276.4" x2="301.98" y2="273.7" stroke="#3a3a3a" stroke-width="1.1"/>
<text x="301.98" y="423.1" font-family='"Liberation Sans", sans-serif' font-size="4.6" fill="#2a2a2a" text-anchor="middle">10<tspan dy="-1.8" font-size="3.2">3</tspan></text>
<line x1="310.46" y1="414.9" x2="310.46" y2="416.4" stroke="#3a3a3a" stroke-width="1.1"/>
<line x1="310.46" y1="276.4" x2="310.46" y2="274.9" stroke="#3a3a3a" stroke-width="1.1"/>
<line x1="315.42" y1="414.9" x2="315.42" y2="416.4" stroke="#3a3a3a" stroke-width="1.1"/>
<line x1="315.42" y1="276.4" x2="315.42" y2="274.9" stroke="#3a3a3a" stroke-width="1.1"/>
<line x1="318.93" y1="414.9" x2="318.93" y2="416.4" stroke="#3a3a3a" stroke-width="1.1"/>
<line x1="318.93" y1="276.4" x2="318.93" y2="274.9" stroke="#3a3a3a" stroke-width="1.1"/>
<line x1="321.66" y1="414.9" x2="321.66" y2="416.4" stroke="#3a3a3a" stroke-width="1.1"/>
<line x1="321.66" y1="276.4" x2="321.66" y2="274.9" stroke="#3a3a3a" stroke-width="1.1"/>
<line x1="323.89" y1="414.9" x2="323.89" y2="416.4" stroke="#3a3a3a" stroke-width="1.1"/>
<line x1="323.89" y1="276.4" x2="323.89" y2="274.9" stroke="#3a3a3a" stroke-width="1.1"/>
<line x1="325.78" y1="414.9" x2="325.78" y2="416.4" stroke="#3a3a3a" stroke-width="1.1"/>
<line x1="325.78" y1="276.4" x2="325.78" y2="274.9" stroke="#3a3a3a" stroke-width="1.1"/>
<line x1="327.41" y1="414.9" x2="327.41" y2="416.4" stroke="#3a3a3a" stroke-width="1.1"/>
<line x1="327.41" y1="276.4" x2="327.41" y2="274.9" stroke="#3a3a3a" stroke-width="1.1"/>
<line x1="328.85" y1="414.9" x2="328.85" y2="416.4" stroke="#3a3a3a" stroke-width="1.1"/>
<line x1="328.85" y1="276.4" x2="328.85" y2="274.9" stroke="#3a3a3a" stroke-width="1.1"/>
<line x1="330.14" y1="414.9" x2="330.14" y2="417.6" stroke="#3a3a3a" stroke-width="1.1"/>
<line x1="330.14" y1="276.4" x2="330.14" y2="273.7" stroke="#3a3a3a" stroke-width="1.1"/>
<text x="330.14" y="423.1" font-family='"Liberation Sans", sans-serif' font-size="4.6" fill="#2a2a2a" text-anchor="middle">10<tspan dy="-1.8" font-size="3.2">4</tspan></text>
<line x1="338.62" y1="414.9" x2="338.62" y2="416.4" stroke="#3a3a3a" stroke-width="1.1"/>
<line x1="338.62" y1="276.4" x2="338.62" y2="274.9" stroke="#3a3a3a" stroke-width="1.1"/>
<line x1="343.58" y1="414.9" x2="343.58" y2="416.4" stroke="#3a3a3a" stroke-width="1.1"/>
<line x1="343.58" y1="276.4" x2="343.58" y2="274.9" stroke="#3a3a3a" stroke-width="1.1"/>
<line x1="347.09" y1="414.9" x2="347.09" y2="416.4" stroke="#3a3a3a" stroke-width="1.1"/>
<line x1="347.09" y1="276.4" x2="347.09" y2="274.9" stroke="#3a3a3a" stroke-width="1.1"/>
<line x1="349.82" y1="414.9" x2="349.82" y2="416.4" stroke="#3a3a3a" stroke-width="1.1"/>
<line x1="349.82" y1="276.4" x2="349.82" y2="274.9" stroke="#3a3a3a" stroke-width="1.1"/>
<line x1="352.05" y1="414.9" x2="352.05" y2="416.4" stroke="#3a3a3a" stroke-width="1.1"/>
<line x1="352.05" y1="276.4" x2="352.05" y2="274.9" stroke="#3a3a3a" stroke-width="1.1"/>
<line x1="353.94" y1="414.9" x2="353.94" y2="416.4" stroke="#3a3a3a" stroke-width="1.1"/>
<line x1="353.94" y1="276.4" x2="353.94" y2="274.9" stroke="#3a3a3a" stroke-width="1.1"/>
<line x1="355.57" y1="414.9" x2="355.57" y2="416.4" stroke="#3a3a3a" stroke-width="1.1"/>
<line x1="355.57" y1="276.4" x2="355.57" y2="274.9" stroke="#3a3a3a" stroke-width="1.1"/>
<line x1="357.01" y1="414.9" x2="357.01" y2="416.4" stroke="#3a3a3a" stroke-width="1.1"/>
<line x1="357.01" y1="276.4" x2="357.01" y2="274.9" stroke="#3a3a3a" stroke-width="1.1"/>
<line x1="358.3" y1="414.9" x2="358.3" y2="417.6" stroke="#3a3a3a" stroke-width="1.1"/>
<line x1="358.3" y1="276.4" x2="358.3" y2="273.7" stroke="#3a3a3a" stroke-width="1.1"/>
<text x="358.3" y="423.1" font-family='"Liberation Sans", sans-serif' font-size="4.6" fill="#2a2a2a" text-anchor="middle">10<tspan dy="-1.8" font-size="3.2">5</tspan></text>
<line x1="217.5" y1="397.59" x2="358.3" y2="397.59" stroke="#e9e9e9" stroke-width="0.7" stroke-dasharray="1,1.2"/>
<line x1="217.5" y1="380.27" x2="358.3" y2="380.27" stroke="#e9e9e9" stroke-width="0.7" stroke-dasharray="1,1.2"/>
<line x1="217.5" y1="362.96" x2="358.3" y2="362.96" stroke="#e9e9e9" stroke-width="0.7" stroke-dasharray="1,1.2"/>
<line x1="217.5" y1="345.65" x2="358.3" y2="345.65" stroke="#e9e9e9" stroke-width="0.7" stroke-dasharray="1,1.2"/>
<line x1="217.5" y1="328.34" x2="358.3" y2="328.34" stroke="#e9e9e9" stroke-width="0.7" stroke-dasharray="1,1.2"/>
<line x1="217.5" y1="311.02" x2="358.3" y2="311.02" stroke="#e9e9e9" stroke-width="0.7" stroke-dasharray="1,1.2"/>
<line x1="217.5" y1="293.71" x2="358.3" y2="293.71" stroke="#e9e9e9" stroke-width="0.7" stroke-dasharray="1,1.2"/>
<line x1="217.5" y1="414.9" x2="214.8" y2="414.9" stroke="#3a3a3a" stroke-width="1.1"/>
<line x1="358.3" y1="414.9" x2="361" y2="414.9" stroke="#3a3a3a" stroke-width="1.1"/>
<text x="212" y="416.5" font-family='"Liberation Sans", sans-serif' font-size="4.6" fill="#2a2a2a" text-anchor="end">10<tspan dy="-1.8" font-size="3.2">-9</tspan></text>
<line x1="217.5" y1="409.69" x2="216" y2="409.69" stroke="#3a3a3a" stroke-width="1.1"/>
<line x1="358.3" y1="409.69" x2="359.8" y2="409.69" stroke="#3a3a3a" stroke-width="1.1"/>
<line x1="217.5" y1="406.64" x2="216" y2="406.64" stroke="#3a3a3a" stroke-width="1.1"/>
<line x1="358.3" y1="406.64" x2="359.8" y2="406.64" stroke="#3a3a3a" stroke-width="1.1"/>
<line x1="217.5" y1="404.48" x2="216" y2="404.48" stroke="#3a3a3a" stroke-width="1.1"/>
<line x1="358.3" y1="404.48" x2="359.8" y2="404.48" stroke="#3a3a3a" stroke-width="1.1"/>
<line x1="217.5" y1="402.8" x2="216" y2="402.8" stroke="#3a3a3a" stroke-width="1.1"/>
<line x1="358.3" y1="402.8" x2="359.8" y2="402.8" stroke="#3a3a3a" stroke-width="1.1"/>
<line x1="217.5" y1="401.43" x2="216" y2="401.43" stroke="#3a3a3a" stroke-width="1.1"/>
<line x1="358.3" y1="401.43" x2="359.8" y2="401.43" stroke="#3a3a3a" stroke-width="1.1"/>
<line x1="217.5" y1="400.27" x2="216" y2="400.27" stroke="#3a3a3a" stroke-width="1.1"/>
<line x1="358.3" y1="400.27" x2="359.8" y2="400.27" stroke="#3a3a3a" stroke-width="1.1"/>
<line x1="217.5" y1="399.27" x2="216" y2="399.27" stroke="#3a3a3a" stroke-width="1.1"/>
<line x1="358.3" y1="399.27" x2="359.8" y2="399.27" stroke="#3a3a3a" stroke-width="1.1"/>
<line x1="217.5" y1="398.38" x2="216" y2="398.38" stroke="#3a3a3a" stroke-width="1.1"/>
<line x1="358.3" y1="398.38" x2="359.8" y2="398.38" stroke="#3a3a3a" stroke-width="1.1"/>
<line x1="217.5" y1="397.59" x2="214.8" y2="397.59" stroke="#3a3a3a" stroke-width="1.1"/>
<line x1="358.3" y1="397.59" x2="361" y2="397.59" stroke="#3a3a3a" stroke-width="1.1"/>
<text x="212" y="399.19" font-family='"Liberation Sans", sans-serif' font-size="4.6" fill="#2a2a2a" text-anchor="end">10<tspan dy="-1.8" font-size="3.2">-8</tspan></text>
<line x1="217.5" y1="392.38" x2="216" y2="392.38" stroke="#3a3a3a" stroke-width="1.1"/>
<line x1="358.3" y1="392.38" x2="359.8" y2="392.38" stroke="#3a3a3a" stroke-width="1.1"/>
<line x1="217.5" y1="389.33" x2="216" y2="389.33" stroke="#3a3a3a" stroke-width="1.1"/>
<line x1="358.3" y1="389.33" x2="359.8" y2="389.33" stroke="#3a3a3a" stroke-width="1.1"/>
<line x1="217.5" y1="387.16" x2="216" y2="387.16" stroke="#3a3a3a" stroke-width="1.1"/>
<line x1="358.3" y1="387.16" x2="359.8" y2="387.16" stroke="#3a3a3a" stroke-width="1.1"/>
<line x1="217.5" y1="385.49" x2="216" y2="385.49" stroke="#3a3a3a" stroke-width="1.1"/>
<line x1="358.3" y1="385.49" x2="359.8" y2="385.49" stroke="#3a3a3a" stroke-width="1.1"/>
<line x1="217.5" y1="384.12" x2="216" y2="384.12" stroke="#3a3a3a" stroke-width="1.1"/>
<line x1="358.3" y1="384.12" x2="359.8" y2="384.12" stroke="#3a3a3a" stroke-width="1.1"/>
<line x1="217.5" y1="382.96" x2="216" y2="382.96" stroke="#3a3a3a" stroke-width="1.1"/>
<line x1="358.3" y1="382.96" x2="359.8" y2="382.96" stroke="#3a3a3a" stroke-width="1.1"/>
<line x1="217.5" y1="381.95" x2="216" y2="381.95" stroke="#3a3a3a" stroke-width="1.1"/>
<line x1="358.3" y1="381.95" x2="359.8" y2="381.95" stroke="#3a3a3a" stroke-width="1.1"/>
<line x1="217.5" y1="381.07" x2="216" y2="381.07" stroke="#3a3a3a" stroke-width="1.1"/>
<line x1="358.3" y1="381.07" x2="359.8" y2="381.07" stroke="#3a3a3a" stroke-width="1.1"/>
<line x1="217.5" y1="380.27" x2="214.8" y2="380.27" stroke="#3a3a3a" stroke-width="1.1"/>
<line x1="358.3" y1="380.27" x2="361" y2="380.27" stroke="#3a3a3a" stroke-width="1.1"/>
<text x="212" y="381.88" font-family='"Liberation Sans", sans-serif' font-size="4.6" fill="#2a2a2a" text-anchor="end">10<tspan dy="-1.8" font-size="3.2">-7</tspan></text>
<line x1="217.5" y1="375.06" x2="216" y2="375.06" stroke="#3a3a3a" stroke-width="1.1"/>
<line x1="358.3" y1="375.06" x2="359.8" y2="375.06" stroke="#3a3a3a" stroke-width="1.1"/>
<line x1="217.5" y1="372.01" x2="216" y2="372.01" stroke="#3a3a3a" stroke-width="1.1"/>
<line x1="358.3" y1="372.01" x2="359.8" y2="372.01" stroke="#3a3a3a" stroke-width="1.1"/>
<line x1="217.5" y1="369.85" x2="216" y2="369.85" stroke="#3a3a3a" stroke-width="1.1"/>
<line x1="358.3" y1="369.85" x2="359.8" y2="369.85" stroke="#3a3a3a" stroke-width="1.1"/>
<line x1="217.5" y1="368.17" x2="216" y2="368.17" stroke="#3a3a3a" stroke-width="1.1"/>
<line x1="358.3" y1="368.17" x2="359.8" y2="368.17" stroke="#3a3a3a" stroke-width="1.1"/>
<line x1="217.5" y1="366.8" x2="216" y2="366.8" stroke="#3a3a3a" stroke-width="1.1"/>
<line x1="358.3" y1="366.8" x2="359.8" y2="366.8" stroke="#3a3a3a" stroke-width="1.1"/>
<line x1="217.5" y1="365.64" x2="216" y2="365.64" stroke="#3a3a3a" stroke-width="1.1"/>
<line x1="358.3" y1="365.64" x2="359.8" y2="365.64" stroke="#3a3a3a" stroke-width="1.1"/>
<line x1="217.5" y1="364.64" x2="216" y2="364.64" stroke="#3a3a3a" stroke-width="1.1"/>
<line x1="358.3" y1="364.64" x2="359.8" y2="364.64" stroke="#3a3a3a" stroke-width="1.1"/>
<line x1="217.5" y1="363.75" x2="216" y2="363.75" stroke="#3a3a3a" stroke-width="1.1"/>
<line x1="358.3" y1="363.75" x2="359.8" y2="363.75" stroke="#3a3a3a" stroke-width="1.1"/>
<line x1="217.5" y1="362.96" x2="214.8" y2="362.96" stroke="#3a3a3a" stroke-width="1.1"/>
<line x1="358.3" y1="362.96" x2="361" y2="362.96" stroke="#3a3a3a" stroke-width="1.1"/>
<text x="212" y="364.56" font-family='"Liberation Sans", sans-serif' font-size="4.6" fill="#2a2a2a" text-anchor="end">10<tspan dy="-1.8" font-size="3.2">-6</tspan></text>
<line x1="217.5" y1="357.75" x2="216" y2="357.75" stroke="#3a3a3a" stroke-width="1.1"/>
<line x1="358.3" y1="357.75" x2="359.8" y2="357.75" stroke="#3a3a3a" stroke-width="1.1"/>
<line x1="217.5" y1="354.7" x2="216" y2="354.7" stroke="#3a3a3a" stroke-width="1.1"/>
<line x1="358.3" y1="354.7" x2="359.8" y2="354.7" stroke="#3a3a3a" stroke-width="1.1"/>
<line x1="217.5" y1="352.54" x2="216" y2="352.54" stroke="#3a3a3a" stroke-width="1.1"/>
<line x1="358.3" y1="352.54" x2="359.8" y2="352.54" stroke="#3a3a3a" stroke-width="1.1"/>
<line x1="217.5" y1="350.86" x2="216" y2="350.86" stroke="#3a3a3a" stroke-width="1.1"/>
<line x1="358.3" y1="350.86" x2="359.8" y2="350.86" stroke="#3a3a3a" stroke-width="1.1"/>
<line x1="217.5" y1="349.49" x2="216" y2="349.49" stroke="#3a3a3a" stroke-width="1.1"/>
<line x1="358.3" y1="349.49" x2="359.8" y2="349.49" stroke="#3a3a3a" stroke-width="1.1"/>
<line x1="217.5" y1="348.33" x2="216" y2="348.33" stroke="#3a3a3a" stroke-width="1.1"/>
<line x1="358.3" y1="348.33" x2="359.8" y2="348.33" stroke="#3a3a3a" stroke-width="1.1"/>
<line x1="217.5" y1="347.33" x2="216" y2="347.33" stroke="#3a3a3a" stroke-width="1.1"/>
<line x1="358.3" y1="347.33" x2="359.8" y2="347.33" stroke="#3a3a3a" stroke-width="1.1"/>
<line x1="217.5" y1="346.44" x2="216" y2="346.44" stroke="#3a3a3a" stroke-width="1.1"/>
<line x1="358.3" y1="346.44" x2="359.8" y2="346.44" stroke="#3a3a3a" stroke-width="1.1"/>
<line x1="217.5" y1="345.65" x2="214.8" y2="345.65" stroke="#3a3a3a" stroke-width="1.1"/>
<line x1="358.3" y1="345.65" x2="361" y2="345.65" stroke="#3a3a3a" stroke-width="1.1"/>
<text x="212" y="347.25" font-family='"Liberation Sans", sans-serif' font-size="4.6" fill="#2a2a2a" text-anchor="end">10<tspan dy="-1.8" font-size="3.2">-5</tspan></text>
<line x1="217.5" y1="340.44" x2="216" y2="340.44" stroke="#3a3a3a" stroke-width="1.1"/>
<line x1="358.3" y1="340.44" x2="359.8" y2="340.44" stroke="#3a3a3a" stroke-width="1.1"/>
<line x1="217.5" y1="337.39" x2="216" y2="337.39" stroke="#3a3a3a" stroke-width="1.1"/>
<line x1="358.3" y1="337.39" x2="359.8" y2="337.39" stroke="#3a3a3a" stroke-width="1.1"/>
<line x1="217.5" y1="335.23" x2="216" y2="335.23" stroke="#3a3a3a" stroke-width="1.1"/>
<line x1="358.3" y1="335.23" x2="359.8" y2="335.23" stroke="#3a3a3a" stroke-width="1.1"/>
<line x1="217.5" y1="333.55" x2="216" y2="333.55" stroke="#3a3a3a" stroke-width="1.1"/>
<line x1="358.3" y1="333.55" x2="359.8" y2="333.55" stroke="#3a3a3a" stroke-width="1.1"/>
<line x1="217.5" y1="332.18" x2="216" y2="332.18" stroke="#3a3a3a" stroke-width="1.1"/>
<line x1="358.3" y1="332.18" x2="359.8" y2="332.18" stroke="#3a3a3a" stroke-width="1.1"/>
<line x1="217.5" y1="331.02" x2="216" y2="331.02" stroke="#3a3a3a" stroke-width="1.1"/>
<line x1="358.3" y1="331.02" x2="359.8" y2="331.02" stroke="#3a3a3a" stroke-width="1.1"/>
<line x1="217.5" y1="330.02" x2="216" y2="330.02" stroke="#3a3a3a" stroke-width="1.1"/>
<line x1="358.3" y1="330.02" x2="359.8" y2="330.02" stroke="#3a3a3a" stroke-width="1.1"/>
<line x1="217.5" y1="329.13" x2="216" y2="329.13" stroke="#3a3a3a" stroke-width="1.1"/>
<line x1="358.3" y1="329.13" x2="359.8" y2="329.13" stroke="#3a3a3a" stroke-width="1.1"/>
<line x1="217.5" y1="328.34" x2="214.8" y2="328.34" stroke="#3a3a3a" stroke-width="1.1"/>
<line x1="358.3" y1="328.34" x2="361" y2="328.34" stroke="#3a3a3a" stroke-width="1.1"/>
<text x="212" y="329.94" font-family='"Liberation Sans", sans-serif' font-size="4.6" fill="#2a2a2a" text-anchor="end">10<tspan dy="-1.8" font-size="3.2">-4</tspan></text>
<line x1="217.5" y1="323.13" x2="216" y2="323.13" stroke="#3a3a3a" stroke-width="1.1"/>
<line x1="358.3" y1="323.13" x2="359.8" y2="323.13" stroke="#3a3a3a" stroke-width="1.1"/>
<line x1="217.5" y1="320.08" x2="216" y2="320.08" stroke="#3a3a3a" stroke-width="1.1"/>
<line x1="358.3" y1="320.08" x2="359.8" y2="320.08" stroke="#3a3a3a" stroke-width="1.1"/>
<line x1="217.5" y1="317.91" x2="216" y2="317.91" stroke="#3a3a3a" stroke-width="1.1"/>
<line x1="358.3" y1="317.91" x2="359.8" y2="317.91" stroke="#3a3a3a" stroke-width="1.1"/>
<line x1="217.5" y1="316.24" x2="216" y2="316.24" stroke="#3a3a3a" stroke-width="1.1"/>
<line x1="358.3" y1="316.24" x2="359.8" y2="316.24" stroke="#3a3a3a" stroke-width="1.1"/>
<line x1="217.5" y1="314.87" x2="216" y2="314.87" stroke="#3a3a3a" stroke-width="1.1"/>
<line x1="358.3" y1="314.87" x2="359.8" y2="314.87" stroke="#3a3a3a" stroke-width="1.1"/>
<line x1="217.5" y1="313.71" x2="216" y2="313.71" stroke="#3a3a3a" stroke-width="1.1"/>
<line x1="358.3" y1="313.71" x2="359.8" y2="313.71" stroke="#3a3a3a" stroke-width="1.1"/>
<line x1="217.5" y1="312.7" x2="216" y2="312.7" stroke="#3a3a3a" stroke-width="1.1"/>
<line x1="358.3" y1="312.7" x2="359.8" y2="312.7" stroke="#3a3a3a" stroke-width="1.1"/>
<line x1="217.5" y1="311.82" x2="216" y2="311.82" stroke="#3a3a3a" stroke-width="1.1"/>
<line x1="358.3" y1="311.82" x2="359.8" y2="311.82" stroke="#3a3a3a" stroke-width="1.1"/>
<line x1="217.5" y1="311.02" x2="214.8" y2="311.02" stroke="#3a3a3a" stroke-width="1.1"/>
<line x1="358.3" y1="311.02" x2="361" y2="311.02" stroke="#3a3a3a" stroke-width="1.1"/>
<text x="212" y="312.62" font-family='"Liberation Sans", sans-serif' font-size="4.6" fill="#2a2a2a" text-anchor="end">10<tspan dy="-1.8" font-size="3.2">-3</tspan></text>
<line x1="217.5" y1="305.81" x2="216" y2="305.81" stroke="#3a3a3a" stroke-width="1.1"/>
<line x1="358.3" y1="305.81" x2="359.8" y2="305.81" stroke="#3a3a3a" stroke-width="1.1"/>
<line x1="217.5" y1="302.76" x2="216" y2="302.76" stroke="#3a3a3a" stroke-width="1.1"/>
<line x1="358.3" y1="302.76" x2="359.8" y2="302.76" stroke="#3a3a3a" stroke-width="1.1"/>
<line x1="217.5" y1="300.6" x2="216" y2="300.6" stroke="#3a3a3a" stroke-width="1.1"/>
<line x1="358.3" y1="300.6" x2="359.8" y2="300.6" stroke="#3a3a3a" stroke-width="1.1"/>
<line x1="217.5" y1="298.92" x2="216" y2="298.92" stroke="#3a3a3a" stroke-width="1.1"/>
<line x1="358.3" y1="298.92" x2="359.8" y2="298.92" stroke="#3a3a3a" stroke-width="1.1"/>
<line x1="217.5" y1="297.55" x2="216" y2="297.55" stroke="#3a3a3a" stroke-width="1.1"/>
<line x1="358.3" y1="297.55" x2="359.8" y2="297.55" stroke="#3a3a3a" stroke-width="1.1"/>
<line x1="217.5" y1="296.39" x2="216" y2="296.39" stroke="#3a3a3a" stroke-width="1.1"/>
<line x1="358.3" y1="296.39" x2="359.8" y2="296.39" stroke="#3a3a3a" stroke-width="1.1"/>
<line x1="217.5" y1="295.39" x2="216" y2="295.39" stroke="#3a3a3a" stroke-width="1.1"/>
<line x1="358.3" y1="295.39" x2="359.8" y2="295.39" stroke="#3a3a3a" stroke-width="1.1"/>
<line x1="217.5" y1="294.5" x2="216" y2="294.5" stroke="#3a3a3a" stroke-width="1.1"/>
<line x1="358.3" y1="294.5" x2="359.8" y2="294.5" stroke="#3a3a3a" stroke-width="1.1"/>
<line x1="217.5" y1="293.71" x2="214.8" y2="293.71" stroke="#3a3a3a" stroke-width="1.1"/>
<line x1="358.3" y1="293.71" x2="361" y2="293.71" stroke="#3a3a3a" stroke-width="1.1"/>
<text x="212" y="295.31" font-family='"Liberation Sans", sans-serif' font-size="4.6" fill="#2a2a2a" text-anchor="end">10<tspan dy="-1.8" font-size="3.2">-2</tspan></text>
<line x1="217.5" y1="288.5" x2="216" y2="288.5" stroke="#3a3a3a" stroke-width="1.1"/>
<line x1="358.3" y1="288.5" x2="359.8" y2="288.5" stroke="#3a3a3a" stroke-width="1.1"/>
<line x1="217.5" y1="285.45" x2="216" y2="285.45" stroke="#3a3a3a" stroke-width="1.1"/>
<line x1="358.3" y1="285.45" x2="359.8" y2="285.45" stroke="#3a3a3a" stroke-width="1.1"/>
<line x1="217.5" y1="283.29" x2="216" y2="283.29" stroke="#3a3a3a" stroke-width="1.1"/>
<line x1="358.3" y1="283.29" x2="359.8" y2="283.29" stroke="#3a3a3a" stroke-width="1.1"/>
<line x1="217.5" y1="281.61" x2="216" y2="281.61" stroke="#3a3a3a" stroke-width="1.1"/>
<line x1="358.3" y1="281.61" x2="359.8" y2="281.61" stroke="#3a3a3a" stroke-width="1.1"/>
<line x1="217.5" y1="280.24" x2="216" y2="280.24" stroke="#3a3a3a" stroke-width="1.1"/>
<line x1="358.3" y1="280.24" x2="359.8" y2="280.24" stroke="#3a3a3a" stroke-width="1.1"/>
<line x1="217.5" y1="279.08" x2="216" y2="279.08" stroke="#3a3a3a" stroke-width="1.1"/>
<line x1="358.3" y1="279.08" x2="359.8" y2="279.08" stroke="#3a3a3a" stroke-width="1.1"/>
<line x1="217.5" y1="278.08" x2="216" y2="278.08" stroke="#3a3a3a" stroke-width="1.1"/>
<line x1="358.3" y1="278.08" x2="359.8" y2="278.08" stroke="#3a3a3a" stroke-width="1.1"/>
<line x1="217.5" y1="277.19" x2="216" y2="277.19" stroke="#3a3a3a" stroke-width="1.1"/>
<line x1="358.3" y1="277.19" x2="359.8" y2="277.19" stroke="#3a3a3a" stroke-width="1.1"/>
<line x1="217.5" y1="276.4" x2="214.8" y2="276.4" stroke="#3a3a3a" stroke-width="1.1"/>
<line x1="358.3" y1="276.4" x2="361" y2="276.4" stroke="#3a3a3a" stroke-width="1.1"/>
<text x="212" y="278" font-family='"Liberation Sans", sans-serif' font-size="4.6" fill="#2a2a2a" text-anchor="end">10<tspan dy="-1.8" font-size="3.2">-1</tspan></text>
<line x1="433.96" y1="276.4" x2="433.96" y2="414.9" stroke="#e9e9e9" stroke-width="0.7" stroke-dasharray="1,1.2"/>
<line x1="462.12" y1="276.4" x2="462.12" y2="414.9" stroke="#e9e9e9" stroke-width="0.7" stroke-dasharray="1,1.2"/>
<line x1="490.28" y1="276.4" x2="490.28" y2="414.9" stroke="#e9e9e9" stroke-width="0.7" stroke-dasharray="1,1.2"/>
<line x1="518.44" y1="276.4" x2="518.44" y2="414.9" stroke="#e9e9e9" stroke-width="0.7" stroke-dasharray="1,1.2"/>
<line x1="405.8" y1="414.9" x2="405.8" y2="417.6" stroke="#3a3a3a" stroke-width="1.1"/>
<line x1="405.8" y1="276.4" x2="405.8" y2="273.7" stroke="#3a3a3a" stroke-width="1.1"/>
<text x="405.8" y="423.1" font-family='"Liberation Sans", sans-serif' font-size="4.6" fill="#2a2a2a" text-anchor="middle">10<tspan dy="-1.8" font-size="3.2">0</tspan></text>
<line x1="414.28" y1="414.9" x2="414.28" y2="416.4" stroke="#3a3a3a" stroke-width="1.1"/>
<line x1="414.28" y1="276.4" x2="414.28" y2="274.9" stroke="#3a3a3a" stroke-width="1.1"/>
<line x1="419.24" y1="414.9" x2="419.24" y2="416.4" stroke="#3a3a3a" stroke-width="1.1"/>
<line x1="419.24" y1="276.4" x2="419.24" y2="274.9" stroke="#3a3a3a" stroke-width="1.1"/>
<line x1="422.75" y1="414.9" x2="422.75" y2="416.4" stroke="#3a3a3a" stroke-width="1.1"/>
<line x1="422.75" y1="276.4" x2="422.75" y2="274.9" stroke="#3a3a3a" stroke-width="1.1"/>
<line x1="425.48" y1="414.9" x2="425.48" y2="416.4" stroke="#3a3a3a" stroke-width="1.1"/>
<line x1="425.48" y1="276.4" x2="425.48" y2="274.9" stroke="#3a3a3a" stroke-width="1.1"/>
<line x1="427.71" y1="414.9" x2="427.71" y2="416.4" stroke="#3a3a3a" stroke-width="1.1"/>
<line x1="427.71" y1="276.4" x2="427.71" y2="274.9" stroke="#3a3a3a" stroke-width="1.1"/>
<line x1="429.6" y1="414.9" x2="429.6" y2="416.4" stroke="#3a3a3a" stroke-width="1.1"/>
<line x1="429.6" y1="276.4" x2="429.6" y2="274.9" stroke="#3a3a3a" stroke-width="1.1"/>
<line x1="431.23" y1="414.9" x2="431.23" y2="416.4" stroke="#3a3a3a" stroke-width="1.1"/>
<line x1="431.23" y1="276.4" x2="431.23" y2="274.9" stroke="#3a3a3a" stroke-width="1.1"/>
<line x1="432.67" y1="414.9" x2="432.67" y2="416.4" stroke="#3a3a3a" stroke-width="1.1"/>
<line x1="432.67" y1="276.4" x2="432.67" y2="274.9" stroke="#3a3a3a" stroke-width="1.1"/>
<line x1="433.96" y1="414.9" x2="433.96" y2="417.6" stroke="#3a3a3a" stroke-width="1.1"/>
<line x1="433.96" y1="276.4" x2="433.96" y2="273.7" stroke="#3a3a3a" stroke-width="1.1"/>
<text x="433.96" y="423.1" font-family='"Liberation Sans", sans-serif' font-size="4.6" fill="#2a2a2a" text-anchor="middle">10<tspan dy="-1.8" font-size="3.2">1</tspan></text>
<line x1="442.44" y1="414.9" x2="442.44" y2="416.4" stroke="#3a3a3a" stroke-width="1.1"/>
<line x1="442.44" y1="276.4" x2="442.44" y2="274.9" stroke="#3a3a3a" stroke-width="1.1"/>
<line x1="447.4" y1="414.9" x2="447.4" y2="416.4" stroke="#3a3a3a" stroke-width="1.1"/>
<line x1="447.4" y1="276.4" x2="447.4" y2="274.9" stroke="#3a3a3a" stroke-width="1.1"/>
<line x1="450.91" y1="414.9" x2="450.91" y2="416.4" stroke="#3a3a3a" stroke-width="1.1"/>
<line x1="450.91" y1="276.4" x2="450.91" y2="274.9" stroke="#3a3a3a" stroke-width="1.1"/>
<line x1="453.64" y1="414.9" x2="453.64" y2="416.4" stroke="#3a3a3a" stroke-width="1.1"/>
<line x1="453.64" y1="276.4" x2="453.64" y2="274.9" stroke="#3a3a3a" stroke-width="1.1"/>
<line x1="455.87" y1="414.9" x2="455.87" y2="416.4" stroke="#3a3a3a" stroke-width="1.1"/>
<line x1="455.87" y1="276.4" x2="455.87" y2="274.9" stroke="#3a3a3a" stroke-width="1.1"/>
<line x1="457.76" y1="414.9" x2="457.76" y2="416.4" stroke="#3a3a3a" stroke-width="1.1"/>
<line x1="457.76" y1="276.4" x2="457.76" y2="274.9" stroke="#3a3a3a" stroke-width="1.1"/>
<line x1="459.39" y1="414.9" x2="459.39" y2="416.4" stroke="#3a3a3a" stroke-width="1.1"/>
<line x1="459.39" y1="276.4" x2="459.39" y2="274.9" stroke="#3a3a3a" stroke-width="1.1"/>
<line x1="460.83" y1="414.9" x2="460.83" y2="416.4" stroke="#3a3a3a" stroke-width="1.1"/>
<line x1="460.83" y1="276.4" x2="460.83" y2="274.9" stroke="#3a3a3a" stroke-width="1.1"/>
<line x1="462.12" y1="414.9" x2="462.12" y2="417.6" stroke="#3a3a3a" stroke-width="1.1"/>
<line x1="462.12" y1="276.4" x2="462.12" y2="273.7" stroke="#3a3a3a" stroke-width="1.1"/>
<text x="462.12" y="423.1" font-family='"Liberation Sans", sans-serif' font-size="4.6" fill="#2a2a2a" text-anchor="middle">10<tspan dy="-1.8" font-size="3.2">2</tspan></text>
<line x1="470.6" y1="414.9" x2="470.6" y2="416.4" stroke="#3a3a3a" stroke-width="1.1"/>
<line x1="470.6" y1="276.4" x2="470.6" y2="274.9" stroke="#3a3a3a" stroke-width="1.1"/>
<line x1="475.56" y1="414.9" x2="475.56" y2="416.4" stroke="#3a3a3a" stroke-width="1.1"/>
<line x1="475.56" y1="276.4" x2="475.56" y2="274.9" stroke="#3a3a3a" stroke-width="1.1"/>
<line x1="479.07" y1="414.9" x2="479.07" y2="416.4" stroke="#3a3a3a" stroke-width="1.1"/>
<line x1="479.07" y1="276.4" x2="479.07" y2="274.9" stroke="#3a3a3a" stroke-width="1.1"/>
<line x1="481.8" y1="414.9" x2="481.8" y2="416.4" stroke="#3a3a3a" stroke-width="1.1"/>
<line x1="481.8" y1="276.4" x2="481.8" y2="274.9" stroke="#3a3a3a" stroke-width="1.1"/>
<line x1="484.03" y1="414.9" x2="484.03" y2="416.4" stroke="#3a3a3a" stroke-width="1.1"/>
<line x1="484.03" y1="276.4" x2="484.03" y2="274.9" stroke="#3a3a3a" stroke-width="1.1"/>
<line x1="485.92" y1="414.9" x2="485.92" y2="416.4" stroke="#3a3a3a" stroke-width="1.1"/>
<line x1="485.92" y1="276.4" x2="485.92" y2="274.9" stroke="#3a3a3a" stroke-width="1.1"/>
<line x1="487.55" y1="414.9" x2="487.55" y2="416.4" stroke="#3a3a3a" stroke-width="1.1"/>
<line x1="487.55" y1="276.4" x2="487.55" y2="274.9" stroke="#3a3a3a" stroke-width="1.1"/>
<line x1="488.99" y1="414.9" x2="488.99" y2="416.4" stroke="#3a3a3a" stroke-width="1.1"/>
<line x1="488.99" y1="276.4" x2="488.99" y2="274.9" stroke="#3a3a3a" stroke-width="1.1"/>
<line x1="490.28" y1="414.9" x2="490.28" y2="417.6" stroke="#3a3a3a" stroke-width="1.1"/>
<line x1="490.28" y1="276.4" x2="490.28" y2="273.7" stroke="#3a3a3a" stroke-width="1.1"/>
<text x="490.28" y="423.1" font-family='"Liberation Sans", sans-serif' font-size="4.6" fill="#2a2a2a" text-anchor="middle">10<tspan dy="-1.8" font-size="3.2">3</tspan></text>
<line x1="498.76" y1="414.9" x2="498.76" y2="416.4" stroke="#3a3a3a" stroke-width="1.1"/>
<line x1="498.76" y1="276.4" x2="498.76" y2="274.9" stroke="#3a3a3a" stroke-width="1.1"/>
<line x1="503.72" y1="414.9" x2="503.72" y2="416.4" stroke="#3a3a3a" stroke-width="1.1"/>
<line x1="503.72" y1="276.4" x2="503.72" y2="274.9" stroke="#3a3a3a" stroke-width="1.1"/>
<line x1="507.23" y1="414.9" x2="507.23" y2="416.4" stroke="#3a3a3a" stroke-width="1.1"/>
<line x1="507.23" y1="276.4" x2="507.23" y2="274.9" stroke="#3a3a3a" stroke-width="1.1"/>
<line x1="509.96" y1="414.9" x2="509.96" y2="416.4" stroke="#3a3a3a" stroke-width="1.1"/>
<line x1="509.96" y1="276.4" x2="509.96" y2="274.9" stroke="#3a3a3a" stroke-width="1.1"/>
<line x1="512.19" y1="414.9" x2="512.19" y2="416.4" stroke="#3a3a3a" stroke-width="1.1"/>
<line x1="512.19" y1="276.4" x2="512.19" y2="274.9" stroke="#3a3a3a" stroke-width="1.1"/>
<line x1="514.08" y1="414.9" x2="514.08" y2="416.4" stroke="#3a3a3a" stroke-width="1.1"/>
<line x1="514.08" y1="276.4" x2="514.08" y2="274.9" stroke="#3a3a3a" stroke-width="1.1"/>
<line x1="515.71" y1="414.9" x2="515.71" y2="416.4" stroke="#3a3a3a" stroke-width="1.1"/>
<line x1="515.71" y1="276.4" x2="515.71" y2="274.9" stroke="#3a3a3a" stroke-width="1.1"/>
<line x1="517.15" y1="414.9" x2="517.15" y2="416.4" stroke="#3a3a3a" stroke-width="1.1"/>
<line x1="517.15" y1="276.4" x2="517.15" y2="274.9" stroke="#3a3a3a" stroke-width="1.1"/>
<line x1="518.44" y1="414.9" x2="518.44" y2="417.6" stroke="#3a3a3a" stroke-width="1.1"/>
<line x1="518.44" y1="276.4" x2="518.44" y2="273.7" stroke="#3a3a3a" stroke-width="1.1"/>
<text x="518.44" y="423.1" font-family='"Liberation Sans", sans-serif' font-size="4.6" fill="#2a2a2a" text-anchor="middle">10<tspan dy="-1.8" font-size="3.2">4</tspan></text>
<line x1="526.92" y1="414.9" x2="526.92" y2="416.4" stroke="#3a3a3a" stroke-width="1.1"/>
<line x1="526.92" y1="276.4" x2="526.92" y2="274.9" stroke="#3a3a3a" stroke-width="1.1"/>
<line x1="531.88" y1="414.9" x2="531.88" y2="416.4" stroke="#3a3a3a" stroke-width="1.1"/>
<line x1="531.88" y1="276.4" x2="531.88" y2="274.9" stroke="#3a3a3a" stroke-width="1.1"/>
<line x1="535.39" y1="414.9" x2="535.39" y2="416.4" stroke="#3a3a3a" stroke-width="1.1"/>
<line x1="535.39" y1="276.4" x2="535.39" y2="274.9" stroke="#3a3a3a" stroke-width="1.1"/>
<line x1="538.12" y1="414.9" x2="538.12" y2="416.4" stroke="#3a3a3a" stroke-width="1.1"/>
<line x1="538.12" y1="276.4" x2="538.12" y2="274.9" stroke="#3a3a3a" stroke-width="1.1"/>
<line x1="540.35" y1="414.9" x2="540.35" y2="416.4" stroke="#3a3a3a" stroke-width="1.1"/>
<line x1="540.35" y1="276.4" x2="540.35" y2="274.9" stroke="#3a3a3a" stroke-width="1.1"/>
<line x1="542.24" y1="414.9" x2="542.24" y2="416.4" stroke="#3a3a3a" stroke-width="1.1"/>
<line x1="542.24" y1="276.4" x2="542.24" y2="274.9" stroke="#3a3a3a" stroke-width="1.1"/>
<line x1="543.87" y1="414.9" x2="543.87" y2="416.4" stroke="#3a3a3a" stroke-width="1.1"/>
<line x1="543.87" y1="276.4" x2="543.87" y2="274.9" stroke="#3a3a3a" stroke-width="1.1"/>
<line x1="545.31" y1="414.9" x2="545.31" y2="416.4" stroke="#3a3a3a" stroke-width="1.1"/>
<line x1="545.31" y1="276.4" x2="545.31" y2="274.9" stroke="#3a3a3a" stroke-width="1.1"/>
<line x1="546.6" y1="414.9" x2="546.6" y2="417.6" stroke="#3a3a3a" stroke-width="1.1"/>
<line x1="546.6" y1="276.4" x2="546.6" y2="273.7" stroke="#3a3a3a" stroke-width="1.1"/>
<text x="546.6" y="423.1" font-family='"Liberation Sans", sans-serif' font-size="4.6" fill="#2a2a2a" text-anchor="middle">10<tspan dy="-1.8" font-size="3.2">5</tspan></text>
<line x1="405.8" y1="397.59" x2="546.6" y2="397.59" stroke="#e9e9e9" stroke-width="0.7" stroke-dasharray="1,1.2"/>
<line x1="405.8" y1="380.27" x2="546.6" y2="380.27" stroke="#e9e9e9" stroke-width="0.7" stroke-dasharray="1,1.2"/>
<line x1="405.8" y1="362.96" x2="546.6" y2="362.96" stroke="#e9e9e9" stroke-width="0.7" stroke-dasharray="1,1.2"/>
<line x1="405.8" y1="345.65" x2="546.6" y2="345.65" stroke="#e9e9e9" stroke-width="0.7" stroke-dasharray="1,1.2"/>
<line x1="405.8" y1="328.34" x2="546.6" y2="328.34" stroke="#e9e9e9" stroke-width="0.7" stroke-dasharray="1,1.2"/>
<line x1="405.8" y1="311.02" x2="546.6" y2="311.02" stroke="#e9e9e9" stroke-width="0.7" stroke-dasharray="1,1.2"/>
<line x1="405.8" y1="293.71" x2="546.6" y2="293.71" stroke="#e9e9e9" stroke-width="0.7" stroke-dasharray="1,1.2"/>
<line x1="405.8" y1="414.9" x2="403.1" y2="414.9" stroke="#3a3a3a" stroke-width="1.1"/>
<line x1="546.6" y1="414.9" x2="549.3" y2="414.9" stroke="#3a3a3a" stroke-width="1.1"/>
<text x="400.3" y="416.5" font-family='"Liberation Sans", sans-serif' font-size="4.6" fill="#2a2a2a" text-anchor="end">10<tspan dy="-1.8" font-size="3.2">-9</tspan></text>
<line x1="405.8" y1="409.69" x2="404.3" y2="409.69" stroke="#3a3a3a" stroke-width="1.1"/>
<line x1="546.6" y1="409.69" x2="548.1" y2="409.69" stroke="#3a3a3a" stroke-width="1.1"/>
<line x1="405.8" y1="406.64" x2="404.3" y2="406.64" stroke="#3a3a3a" stroke-width="1.1"/>
<line x1="546.6" y1="406.64" x2="548.1" y2="406.64" stroke="#3a3a3a" stroke-width="1.1"/>
<line x1="405.8" y1="404.48" x2="404.3" y2="404.48" stroke="#3a3a3a" stroke-width="1.1"/>
<line x1="546.6" y1="404.48" x2="548.1" y2="404.48" stroke="#3a3a3a" stroke-width="1.1"/>
<line x1="405.8" y1="402.8" x2="404.3" y2="402.8" stroke="#3a3a3a" stroke-width="1.1"/>
<line x1="546.6" y1="402.8" x2="548.1" y2="402.8" stroke="#3a3a3a" stroke-width="1.1"/>
<line x1="405.8" y1="401.43" x2="404.3" y2="401.43" stroke="#3a3a3a" stroke-width="1.1"/>
<line x1="546.6" y1="401.43" x2="548.1" y2="401.43" stroke="#3a3a3a" stroke-width="1.1"/>
<line x1="405.8" y1="400.27" x2="404.3" y2="400.27" stroke="#3a3a3a" stroke-width="1.1"/>
<line x1="546.6" y1="400.27" x2="548.1" y2="400.27" stroke="#3a3a3a" stroke-width="1.1"/>
<line x1="405.8" y1="399.27" x2="404.3" y2="399.27" stroke="#3a3a3a" stroke-width="1.1"/>
<line x1="546.6" y1="399.27" x2="548.1" y2="399.27" stroke="#3a3a3a" stroke-width="1.1"/>
<line x1="405.8" y1="398.38" x2="404.3" y2="398.38" stroke="#3a3a3a" stroke-width="1.1"/>
<line x1="546.6" y1="398.38" x2="548.1" y2="398.38" stroke="#3a3a3a" stroke-width="1.1"/>
<line x1="405.8" y1="397.59" x2="403.1" y2="397.59" stroke="#3a3a3a" stroke-width="1.1"/>
<line x1="546.6" y1="397.59" x2="549.3" y2="397.59" stroke="#3a3a3a" stroke-width="1.1"/>
<text x="400.3" y="399.19" font-family='"Liberation Sans", sans-serif' font-size="4.6" fill="#2a2a2a" text-anchor="end">10<tspan dy="-1.8" font-size="3.2">-8</tspan></text>
<line x1="405.8" y1="392.38" x2="404.3" y2="392.38" stroke="#3a3a3a" stroke-width="1.1"/>
<line x1="546.6" y1="392.38" x2="548.1" y2="392.38" stroke="#3a3a3a" stroke-width="1.1"/>
<line x1="405.8" y1="389.33" x2="404.3" y2="389.33" stroke="#3a3a3a" stroke-width="1.1"/>
<line x1="546.6" y1="389.33" x2="548.1" y2="389.33" stroke="#3a3a3a" stroke-width="1.1"/>
<line x1="405.8" y1="387.16" x2="404.3" y2="387.16" stroke="#3a3a3a" stroke-width="1.1"/>
<line x1="546.6" y1="387.16" x2="548.1" y2="387.16" stroke="#3a3a3a" stroke-width="1.1"/>
<line x1="405.8" y1="385.49" x2="404.3" y2="385.49" stroke="#3a3a3a" stroke-width="1.1"/>
<line x1="546.6" y1="385.49" x2="548.1" y2="385.49" stroke="#3a3a3a" stroke-width="1.1"/>
<line x1="405.8" y1="384.12" x2="404.3" y2="384.12" stroke="#3a3a3a" stroke-width="1.1"/>
<line x1="546.6" y1="384.12" x2="548.1" y2="384.12" stroke="#3a3a3a" stroke-width="1.1"/>
<line x1="405.8" y1="382.96" x2="404.3" y2="382.96" stroke="#3a3a3a" stroke-width="1.1"/>
<line x1="546.6" y1="382.96" x2="548.1" y2="382.96" stroke="#3a3a3a" stroke-width="1.1"/>
<line x1="405.8" y1="381.95" x2="404.3" y2="381.95" stroke="#3a3a3a" stroke-width="1.1"/>
<line x1="546.6" y1="381.95" x2="548.1" y2="381.95" stroke="#3a3a3a" stroke-width="1.1"/>
<line x1="405.8" y1="381.07" x2="404.3" y2="381.07" stroke="#3a3a3a" stroke-width="1.1"/>
<line x1="546.6" y1="381.07" x2="548.1" y2="381.07" stroke="#3a3a3a" stroke-width="1.1"/>
<line x1="405.8" y1="380.27" x2="403.1" y2="380.27" stroke="#3a3a3a" stroke-width="1.1"/>
<line x1="546.6" y1="380.27" x2="549.3" y2="380.27" stroke="#3a3a3a" stroke-width="1.1"/>
<text x="400.3" y="381.88" font-family='"Liberation Sans", sans-serif' font-size="4.6" fill="#2a2a2a" text-anchor="end">10<tspan dy="-1.8" font-size="3.2">-7</tspan></text>
<line x1="405.8" y1="375.06" x2="404.3" y2="375.06" stroke="#3a3a3a" stroke-width="1.1"/>
<line x1="546.6" y1="375.06" x2="548.1" y2="375.06" stroke="#3a3a3a" stroke-width="1.1"/>
<line x1="405.8" y1="372.01" x2="404.3" y2="372.01" stroke="#3a3a3a" stroke-width="1.1"/>
<line x1="546.6" y1="372.01" x2="548.1" y2="372.01" stroke="#3a3a3a" stroke-width="1.1"/>
<line x1="405.8" y1="369.85" x2="404.3" y2="369.85" stroke="#3a3a3a" stroke-width="1.1"/>
<line x1="546.6" y1="369.85" x2="548.1" y2="369.85" stroke="#3a3a3a" stroke-width="1.1"/>
<line x1="405.8" y1="368.17" x2="404.3" y2="368.17" stroke="#3a3a3a" stroke-width="1.1"/>
<line x1="546.6" y1="368.17" x2="548.1" y2="368.17" stroke="#3a3a3a" stroke-width="1.1"/>
<line x1="405.8" y1="366.8" x2="404.3" y2="366.8" stroke="#3a3a3a" stroke-width="1.1"/>
<line x1="546.6" y1="366.8" x2="548.1" y2="366.8" stroke="#3a3a3a" stroke-width="1.1"/>
<line x1="405.8" y1="365.64" x2="404.3" y2="365.64" stroke="#3a3a3a" stroke-width="1.1"/>
<line x1="546.6" y1="365.64" x2="548.1" y2="365.64" stroke="#3a3a3a" stroke-width="1.1"/>
<line x1="405.8" y1="364.64" x2="404.3" y2="364.64" stroke="#3a3a3a" stroke-width="1.1"/>
<line x1="546.6" y1="364.64" x2="548.1" y2="364.64" stroke="#3a3a3a" stroke-width="1.1"/>
<line x1="405.8" y1="363.75" x2="404.3" y2="363.75" stroke="#3a3a3a" stroke-width="1.1"/>
<line x1="546.6" y1="363.75" x2="548.1" y2="363.75" stroke="#3a3a3a" stroke-width="1.1"/>
<line x1="405.8" y1="362.96" x2="403.1" y2="362.96" stroke="#3a3a3a" stroke-width="1.1"/>
<line x1="546.6" y1="362.96" x2="549.3" y2="362.96" stroke="#3a3a3a" stroke-width="1.1"/>
<text x="400.3" y="364.56" font-family='"Liberation Sans", sans-serif' font-size="4.6" fill="#2a2a2a" text-anchor="end">10<tspan dy="-1.8" font-size="3.2">-6</tspan></text>
<line x1="405.8" y1="357.75" x2="404.3" y2="357.75" stroke="#3a3a3a" stroke-width="1.1"/>
<line x1="546.6" y1="357.75" x2="548.1" y2="357.75" stroke="#3a3a3a" stroke-width="1.1"/>
<line x1="405.8" y1="354.7" x2="404.3" y2="354.7" stroke="#3a3a3a" stroke-width="1.1"/>
<line x1="546.6" y1="354.7" x2="548.1" y2="354.7" stroke="#3a3a3a" stroke-width="1.1"/>
<line x1="405.8" y1="352.54" x2="404.3" y2="352.54" stroke="#3a3a3a" stroke-width="1.1"/>
<line x1="546.6" y1="352.54" x2="548.1" y2="352.54" stroke="#3a3a3a" stroke-width="1.1"/>
<line x1="405.8" y1="350.86" x2="404.3" y2="350.86" stroke="#3a3a3a" stroke-width="1.1"/>
<line x1="546.6" y1="350.86" x2="548.1" y2="350.86" stroke="#3a3a3a" stroke-width="1.1"/>
<line x1="405.8" y1="349.49" x2="404.3" y2="349.49" stroke="#3a3a3a" stroke-width="1.1"/>
<line x1="546.6" y1="349.49" x2="548.1" y2="349.49" stroke="#3a3a3a" stroke-width="1.1"/>
<line x1="405.8" y1="348.33" x2="404.3" y2="348.33" stroke="#3a3a3a" stroke-width="1.1"/>
<line x1="546.6" y1="348.33" x2="548.1" y2="348.33" stroke="#3a3a3a" stroke-width="1.1"/>
<line x1="405.8" y1="347.33" x2="404.3" y2="347.33" stroke="#3a3a3a" stroke-width="1.1"/>
<line x1="546.6" y1="347.33" x2="548.1" y2="347.33" stroke="#3a3a3a" stroke-width="1.1"/>
<line x1="405.8" y1="346.44" x2="404.3" y2="346.44" stroke="#3a3a3a" stroke-width="1.1"/>
<line x1="546.6" y1="346.44" x2="548.1" y2="346.44" stroke="#3a3a3a" stroke-width="1.1"/>
<line x1="405.8" y1="345.65" x2="403.1" y2="345.65" stroke="#3a3a3a" stroke-width="1.1"/>
<line x1="546.6" y1="345.65" x2="549.3" y2="345.65" stroke="#3a3a3a" stroke-width="1.1"/>
<text x="400.3" y="347.25" font-family='"Liberation Sans", sans-serif' font-size="4.6" fill="#2a2a2a" text-anchor="end">10<tspan dy="-1.8" font-size="3.2">-5</tspan></text>
<line x1="405.8" y1="340.44" x2="404.3" y2="340.44" stroke="#3a3a3a" stroke-width="1.1"/>
<line x1="546.6" y1="340.44" x2="548.1" y2="340.44" stroke="#3a3a3a" stroke-width="1.1"/>
<line x1="405.8" y1="337.39" x2="404.3" y2="337.39" stroke="#3a3a3a" stroke-width="1.1"/>
<line x1="546.6" y1="337.39" x2="548.1" y2="337.39" stroke="#3a3a3a" stroke-width="1.1"/>
<line x1="405.8" y1="335.23" x2="404.3" y2="335.23" stroke="#3a3a3a" stroke-width="1.1"/>
<line x1="546.6" y1="335.23" x2="548.1" y2="335.23" stroke="#3a3a3a" stroke-width="1.1"/>
<line x1="405.8" y1="333.55" x2="404.3" y2="333.55" stroke="#3a3a3a" stroke-width="1.1"/>
<line x1="546.6" y1="333.55" x2="548.1" y2="333.55" stroke="#3a3a3a" stroke-width="1.1"/>
<line x1="405.8" y1="332.18" x2="404.3" y2="332.18" stroke="#3a3a3a" stroke-width="1.1"/>
<line x1="546.6" y1="332.18" x2="548.1" y2="332.18" stroke="#3a3a3a" stroke-width="1.1"/>
<line x1="405.8" y1="331.02" x2="404.3" y2="331.02" stroke="#3a3a3a" stroke-width="1.1"/>
<line x1="546.6" y1="331.02" x2="548.1" y2="331.02" stroke="#3a3a3a" stroke-width="1.1"/>
<line x1="405.8" y1="330.02" x2="404.3" y2="330.02" stroke="#3a3a3a" stroke-width="1.1"/>
<line x1="546.6" y1="330.02" x2="548.1" y2="330.02" stroke="#3a3a3a" stroke-width="1.1"/>
<line x1="405.8" y1="329.13" x2="404.3" y2="329.13" stroke="#3a3a3a" stroke-width="1.1"/>
<line x1="546.6" y1="329.13" x2="548.1" y2="329.13" stroke="#3a3a3a" stroke-width="1.1"/>
<line x1="405.8" y1="328.34" x2="403.1" y2="328.34" stroke="#3a3a3a" stroke-width="1.1"/>
<line x1="546.6" y1="328.34" x2="549.3" y2="328.34" stroke="#3a3a3a" stroke-width="1.1"/>
<text x="400.3" y="329.94" font-family='"Liberation Sans", sans-serif' font-size="4.6" fill="#2a2a2a" text-anchor="end">10<tspan dy="-1.8" font-size="3.2">-4</tspan></text>
<line x1="405.8" y1="323.13" x2="404.3" y2="323.13" stroke="#3a3a3a" stroke-width="1.1"/>
<line x1="546.6" y1="323.13" x2="548.1" y2="323.13" stroke="#3a3a3a" stroke-width="1.1"/>
<line x1="405.8" y1="320.08" x2="404.3" y2="320.08" stroke="#3a3a3a" stroke-width="1.1"/>
<line x1="546.6" y1="320.08" x2="548.1" y2="320.08" stroke="#3a3a3a" stroke-width="1.1"/>
<line x1="405.8" y1="317.91" x2="404.3" y2="317.91" stroke="#3a3a3a" stroke-width="1.1"/>
<line x1="546.6" y1="317.91" x2="548.1" y2="317.91" stroke="#3a3a3a" stroke-width="1.1"/>
<line x1="405.8" y1="316.24" x2="404.3" y2="316.24" stroke="#3a3a3a" stroke-width="1.1"/>
<line x1="546.6" y1="316.24" x2="548.1" y2="316.24" stroke="#3a3a3a" stroke-width="1.1"/>
<line x1="405.8" y1="314.87" x2="404.3" y2="314.87" stroke="#3a3a3a" stroke-width="1.1"/>
<line x1="546.6" y1="314.87" x2="548.1" y2="314.87" stroke="#3a3a3a" stroke-width="1.1"/>
<line x1="405.8" y1="313.71" x2="404.3" y2="313.71" stroke="#3a3a3a" stroke-width="1.1"/>
<line x1="546.6" y1="313.71" x2="548.1" y2="313.71" stroke="#3a3a3a" stroke-width="1.1"/>
<line x1="405.8" y1="312.7" x2="404.3" y2="312.7" stroke="#3a3a3a" stroke-width="1.1"/>
<line x1="546.6" y1="312.7" x2="548.1" y2="312.7" stroke="#3a3a3a" stroke-width="1.1"/>
<line x1="405.8" y1="311.82" x2="404.3" y2="311.82" stroke="#3a3a3a" stroke-width="1.1"/>
<line x1="546.6" y1="311.82" x2="548.1" y2="311.82" stroke="#3a3a3a" stroke-width="1.1"/>
<line x1="405.8" y1="311.02" x2="403.1" y2="311.02" stroke="#3a3a3a" stroke-width="1.1"/>
<line x1="546.6" y1="311.02" x2="549.3" y2="311.02" stroke="#3a3a3a" stroke-width="1.1"/>
<text x="400.3" y="312.62" font-family='"Liberation Sans", sans-serif' font-size="4.6" fill="#2a2a2a" text-anchor="end">10<tspan dy="-1.8" font-size="3.2">-3</tspan></text>
<line x1="405.8" y1="305.81" x2="404.3" y2="305.81" stroke="#3a3a3a" stroke-width="1.1"/>
<line x1="546.6" y1="305.81" x2="548.1" y2="305.81" stroke="#3a3a3a" stroke-width="1.1"/>
<line x1="405.8" y1="302.76" x2="404.3" y2="302.76" stroke="#3a3a3a" stroke-width="1.1"/>
<line x1="546.6" y1="302.76" x2="548.1" y2="302.76" stroke="#3a3a3a" stroke-width="1.1"/>
<line x1="405.8" y1="300.6" x2="404.3" y2="300.6" stroke="#3a3a3a" stroke-width="1.1"/>
<line x1="546.6" y1="300.6" x2="548.1" y2="300.6" stroke="#3a3a3a" stroke-width="1.1"/>
<line x1="405.8" y1="298.92" x2="404.3" y2="298.92" stroke="#3a3a3a" stroke-width="1.1"/>
<line x1="546.6" y1="298.92" x2="548.1" y2="298.92" stroke="#3a3a3a" stroke-width="1.1"/>
<line x1="405.8" y1="297.55" x2="404.3" y2="297.55" stroke="#3a3a3a" stroke-width="1.1"/>
<line x1="546.6" y1="297.55" x2="548.1" y2="297.55" stroke="#3a3a3a" stroke-width="1.1"/>
<line x1="405.8" y1="296.39" x2="404.3" y2="296.39" stroke="#3a3a3a" stroke-width="1.1"/>
<line x1="546.6" y1="296.39" x2="548.1" y2="296.39" stroke="#3a3a3a" stroke-width="1.1"/>
<line x1="405.8" y1="295.39" x2="404.3" y2="295.39" stroke="#3a3a3a" stroke-width="1.1"/>
<line x1="546.6" y1="295.39" x2="548.1" y2="295.39" stroke="#3a3a3a" stroke-width="1.1"/>
<line x1="405.8" y1="294.5" x2="404.3" y2="294.5" stroke="#3a3a3a" stroke-width="1.1"/>
<line x1="546.6" y1="294.5" x2="548.1" y2="294.5" stroke="#3a3a3a" stroke-width="1.1"/>
<line x1="405.8" y1="293.71" x2="403.1" y2="293.71" stroke="#3a3a3a" stroke-width="1.1"/>
<line x1="546.6" y1="293.71" x2="549.3" y2="293.71" stroke="#3a3a3a" stroke-width="1.1"/>
<text x="400.3" y="295.31" font-family='"Liberation Sans", sans-serif' font-size="4.6" fill="#2a2a2a" text-anchor="end">10<tspan dy="-1.8" font-size="3.2">-2</tspan></text>
<line x1="405.8" y1="288.5" x2="404.3" y2="288.5" stroke="#3a3a3a" stroke-width="1.1"/>
<line x1="546.6" y1="288.5" x2="548.1" y2="288.5" stroke="#3a3a3a" stroke-width="1.1"/>
<line x1="405.8" y1="285.45" x2="404.3" y2="285.45" stroke="#3a3a3a" stroke-width="1.1"/>
<line x1="546.6" y1="285.45" x2="548.1" y2="285.45" stroke="#3a3a3a" stroke-width="1.1"/>
<line x1="405.8" y1="283.29" x2="404.3" y2="283.29" stroke="#3a3a3a" stroke-width="1.1"/>
<line x1="546.6" y1="283.29" x2="548.1" y2="283.29" stroke="#3a3a3a" stroke-width="1.1"/>
<line x1="405.8" y1="281.61" x2="404.3" y2="281.61" stroke="#3a3a3a" stroke-width="1.1"/>
<line x1="546.6" y1="281.61" x2="548.1" y2="281.61" stroke="#3a3a3a" stroke-width="1.1"/>
<line x1="405.8" y1="280.24" x2="404.3" y2="280.24" stroke="#3a3a3a" stroke-width="1.1"/>
<line x1="546.6" y1="280.24" x2="548.1" y2="280.24" stroke="#3a3a3a" stroke-width="1.1"/>
<line x1="405.8" y1="279.08" x2="404.3" y2="279.08" stroke="#3a3a3a" stroke-width="1.1"/>
<line x1="546.6" y1="279.08" x2="548.1" y2="279.08" stroke="#3a3a3a" stroke-width="1.1"/>
<line x1="405.8" y1="278.08" x2="404.3" y2="278.08" stroke="#3a3a3a" stroke-width="1.1"/>
<line x1="546.6" y1="278.08" x2="548.1" y2="278.08" stroke="#3a3a3a" stroke-width="1.1"/>
<line x1="405.8" y1="277.19" x2="404.3" y2="277.19" stroke="#3a3a3a" stroke-width="1.1"/>
<line x1="546.6" y1="277.19" x2="548.1" y2="277.19" stroke="#3a3a3a" stroke-width="1.1"/>
<line x1="405.8" y1="276.4" x2="403.1" y2="276.4" stroke="#3a3a3a" stroke-width="1.1"/>
<line x1="546.6" y1="276.4" x2="549.3" y2="276.4" stroke="#3a3a3a" stroke-width="1.1"/>
<text x="400.3" y="278" font-family='"Liberation Sans", sans-serif' font-size="4.6" fill="#2a2a2a" text-anchor="end">10<tspan dy="-1.8" font-size="3.2">-1</tspan></text>
<line x1="28.9" y1="636.6" x2="28.9" y2="639.3" stroke="#3a3a3a" stroke-width="1.1"/>
<line x1="28.9" y1="497.5" x2="28.9" y2="494.8" stroke="#3a3a3a" stroke-width="1.1"/>
<text x="28.9" y="646" font-family='"Liberation Sans", sans-serif' font-size="4.6" fill="#2a2a2a" text-anchor="middle" font-weight="normal" font-style="normal" >0</text>
<line x1="52.37" y1="497.5" x2="52.37" y2="636.6" stroke="#e9e9e9" stroke-width="0.7" stroke-dasharray="1,1.2"/>
<line x1="52.37" y1="636.6" x2="52.37" y2="639.3" stroke="#3a3a3a" stroke-width="1.1"/>
<line x1="52.37" y1="497.5" x2="52.37" y2="494.8" stroke="#3a3a3a" stroke-width="1.1"/>
<text x="52.37" y="646" font-family='"Liberation Sans", sans-serif' font-size="4.6" fill="#2a2a2a" text-anchor="middle" font-weight="normal" font-style="normal" >20</text>
<line x1="75.83" y1="497.5" x2="75.83" y2="636.6" stroke="#e9e9e9" stroke-width="0.7" stroke-dasharray="1,1.2"/>
<line x1="75.83" y1="636.6" x2="75.83" y2="639.3" stroke="#3a3a3a" stroke-width="1.1"/>
<line x1="75.83" y1="497.5" x2="75.83" y2="494.8" stroke="#3a3a3a" stroke-width="1.1"/>
<text x="75.83" y="646" font-family='"Liberation Sans", sans-serif' font-size="4.6" fill="#2a2a2a" text-anchor="middle" font-weight="normal" font-style="normal" >40</text>
<line x1="99.3" y1="497.5" x2="99.3" y2="636.6" stroke="#e9e9e9" stroke-width="0.7" stroke-dasharray="1,1.2"/>
<line x1="99.3" y1="636.6" x2="99.3" y2="639.3" stroke="#3a3a3a" stroke-width="1.1"/>
<line x1="99.3" y1="497.5" x2="99.3" y2="494.8" stroke="#3a3a3a" stroke-width="1.1"/>
<text x="99.3" y="646" font-family='"Liberation Sans", sans-serif' font-size="4.6" fill="#2a2a2a" text-anchor="middle" font-weight="normal" font-style="normal" >60</text>
<line x1="122.77" y1="497.5" x2="122.77" y2="636.6" stroke="#e9e9e9" stroke-width="0.7" stroke-dasharray="1,1.2"/>
<line x1="122.77" y1="636.6" x2="122.77" y2="639.3" stroke="#3a3a3a" stroke-width="1.1"/>
<line x1="122.77" y1="497.5" x2="122.77" y2="494.8" stroke="#3a3a3a" stroke-width="1.1"/>
<text x="122.77" y="646" font-family='"Liberation Sans", sans-serif' font-size="4.6" fill="#2a2a2a" text-anchor="middle" font-weight="normal" font-style="normal" >80</text>
<line x1="146.23" y1="497.5" x2="146.23" y2="636.6" stroke="#e9e9e9" stroke-width="0.7" stroke-dasharray="1,1.2"/>
<line x1="146.23" y1="636.6" x2="146.23" y2="639.3" stroke="#3a3a3a" stroke-width="1.1"/>
<line x1="146.23" y1="497.5" x2="146.23" y2="494.8" stroke="#3a3a3a" stroke-width="1.1"/>
<text x="146.23" y="646" font-family='"Liberation Sans", sans-serif' font-size="4.6" fill="#2a2a2a" text-anchor="middle" font-weight="normal" font-style="normal" >100</text>
<line x1="169.7" y1="636.6" x2="169.7" y2="639.3" stroke="#3a3a3a" stroke-width="1.1"/>
<line x1="169.7" y1="497.5" x2="169.7" y2="494.8" stroke="#3a3a3a" stroke-width="1.1"/>
<text x="169.7" y="646" font-family='"Liberation Sans", sans-serif' font-size="4.6" fill="#2a2a2a" text-anchor="middle" font-weight="normal" font-style="normal" >120</text>
<line x1="28.9" y1="636.6" x2="26.2" y2="636.6" stroke="#3a3a3a" stroke-width="1.1"/>
<line x1="169.7" y1="636.6" x2="172.4" y2="636.6" stroke="#3a3a3a" stroke-width="1.1"/>
<text x="23.9" y="638.2" font-family='"Liberation Sans", sans-serif' font-size="4.6" fill="#2a2a2a" text-anchor="end" font-weight="normal" font-style="normal" >0.00</text>
<line x1="28.9" y1="619.21" x2="169.7" y2="619.21" stroke="#e9e9e9" stroke-width="0.7" stroke-dasharray="1,1.2"/>
<line x1="28.9" y1="619.21" x2="26.2" y2="619.21" stroke="#3a3a3a" stroke-width="1.1"/>
<line x1="169.7" y1="619.21" x2="172.4" y2="619.21" stroke="#3a3a3a" stroke-width="1.1"/>
<text x="23.9" y="620.81" font-family='"Liberation Sans", sans-serif' font-size="4.6" fill="#2a2a2a" text-anchor="end" font-weight="normal" font-style="normal" >0.01</text>
<line x1="28.9" y1="601.83" x2="169.7" y2="601.83" stroke="#e9e9e9" stroke-width="0.7" stroke-dasharray="1,1.2"/>
<line x1="28.9" y1="601.83" x2="26.2" y2="601.83" stroke="#3a3a3a" stroke-width="1.1"/>
<line x1="169.7" y1="601.83" x2="172.4" y2="601.83" stroke="#3a3a3a" stroke-width="1.1"/>
<text x="23.9" y="603.43" font-family='"Liberation Sans", sans-serif' font-size="4.6" fill="#2a2a2a" text-anchor="end" font-weight="normal" font-style="normal" >0.02</text>
<line x1="28.9" y1="584.44" x2="169.7" y2="584.44" stroke="#e9e9e9" stroke-width="0.7" stroke-dasharray="1,1.2"/>
<line x1="28.9" y1="584.44" x2="26.2" y2="584.44" stroke="#3a3a3a" stroke-width="1.1"/>
<line x1="169.7" y1="584.44" x2="172.4" y2="584.44" stroke="#3a3a3a" stroke-width="1.1"/>
<text x="23.9" y="586.04" font-family='"Liberation Sans", sans-serif' font-size="4.6" fill="#2a2a2a" text-anchor="end" font-weight="normal" font-style="normal" >0.03</text>
<line x1="28.9" y1="567.05" x2="169.7" y2="567.05" stroke="#e9e9e9" stroke-width="0.7" stroke-dasharray="1,1.2"/>
<line x1="28.9" y1="567.05" x2="26.2" y2="567.05" stroke="#3a3a3a" stroke-width="1.1"/>
<line x1="169.7" y1="567.05" x2="172.4" y2="567.05" stroke="#3a3a3a" stroke-width="1.1"/>
<text x="23.9" y="568.65" font-family='"Liberation Sans", sans-serif' font-size="4.6" fill="#2a2a2a" text-anchor="end" font-weight="normal" font-style="normal" >0.04</text>
<line x1="28.9" y1="549.66" x2="169.7" y2="549.66" stroke="#e9e9e9" stroke-width="0.7" stroke-dasharray="1,1.2"/>
<line x1="28.9" y1="549.66" x2="26.2" y2="549.66" stroke="#3a3a3a" stroke-width="1.1"/>
<line x1="169.7" y1="549.66" x2="172.4" y2="549.66" stroke="#3a3a3a" stroke-width="1.1"/>
<text x="23.9" y="551.26" font-family='"Liberation Sans", sans-serif' font-size="4.6" fill="#2a2a2a" text-anchor="end" font-weight="normal" font-style="normal" >0.05</text>
<line x1="28.9" y1="532.28" x2="169.7" y2="532.28" stroke="#e9e9e9" stroke-width="0.7" stroke-dasharray="1,1.2"/>
<line x1="28.9" y1="532.28" x2="26.2" y2="532.28" stroke="#3a3a3a" stroke-width="1.1"/>
<line x1="169.7" y1="532.28" x2="172.4" y2="532.28" stroke="#3a3a3a" stroke-width="1.1"/>
<text x="23.9" y="533.88" font-family='"Liberation Sans", sans-serif' font-size="4.6" fill="#2a2a2a" text-anchor="end" font-weight="normal" font-style="normal" >0.06</text>
<line x1="28.9" y1="514.89" x2="169.7" y2="514.89" stroke="#e9e9e9" stroke-width="0.7" stroke-dasharray="1,1.2"/>
<line x1="28.9" y1="514.89" x2="26.2" y2="514.89" stroke="#3a3a3a" stroke-width="1.1"/>
<line x1="169.7" y1="514.89" x2="172.4" y2="514.89" stroke="#3a3a3a" stroke-width="1.1"/>
<text x="23.9" y="516.49" font-family='"Liberation Sans", sans-serif' font-size="4.6" fill="#2a2a2a" text-anchor="end" font-weight="normal" font-style="normal" >0.07</text>
<line x1="28.9" y1="497.5" x2="26.2" y2="497.5" stroke="#3a3a3a" stroke-width="1.1"/>
<line x1="169.7" y1="497.5" x2="172.4" y2="497.5" stroke="#3a3a3a" stroke-width="1.1"/>
<text x="23.9" y="499.1" font-family='"Liberation Sans", sans-serif' font-size="4.6" fill="#2a2a2a" text-anchor="end" font-weight="normal" font-style="normal" >0.08</text>
<line x1="217.5" y1="636.6" x2="217.5" y2="639.3" stroke="#3a3a3a" stroke-width="1.1"/>
<line x1="217.5" y1="497.5" x2="217.5" y2="494.8" stroke="#3a3a3a" stroke-width="1.1"/>
<text x="217.5" y="646" font-family='"Liberation Sans", sans-serif' font-size="4.6" fill="#2a2a2a" text-anchor="middle" font-weight="normal" font-style="normal" >0</text>
<line x1="240.97" y1="497.5" x2="240.97" y2="636.6" stroke="#e9e9e9" stroke-width="0.7" stroke-dasharray="1,1.2"/>
<line x1="240.97" y1="636.6" x2="240.97" y2="639.3" stroke="#3a3a3a" stroke-width="1.1"/>
<line x1="240.97" y1="497.5" x2="240.97" y2="494.8" stroke="#3a3a3a" stroke-width="1.1"/>
<text x="240.97" y="646" font-family='"Liberation Sans", sans-serif' font-size="4.6" fill="#2a2a2a" text-anchor="middle" font-weight="normal" font-style="normal" >20</text>
<line x1="264.43" y1="497.5" x2="264.43" y2="636.6" stroke="#e9e9e9" stroke-width="0.7" stroke-dasharray="1,1.2"/>
<line x1="264.43" y1="636.6" x2="264.43" y2="639.3" stroke="#3a3a3a" stroke-width="1.1"/>
<line x1="264.43" y1="497.5" x2="264.43" y2="494.8" stroke="#3a3a3a" stroke-width="1.1"/>
<text x="264.43" y="646" font-family='"Liberation Sans", sans-serif' font-size="4.6" fill="#2a2a2a" text-anchor="middle" font-weight="normal" font-style="normal" >40</text>
<line x1="287.9" y1="497.5" x2="287.9" y2="636.6" stroke="#e9e9e9" stroke-width="0.7" stroke-dasharray="1,1.2"/>
<line x1="287.9" y1="636.6" x2="287.9" y2="639.3" stroke="#3a3a3a" stroke-width="1.1"/>
<line x1="287.9" y1="497.5" x2="287.9" y2="494.8" stroke="#3a3a3a" stroke-width="1.1"/>
<text x="287.9" y="646" font-family='"Liberation Sans", sans-serif' font-size="4.6" fill="#2a2a2a" text-anchor="middle" font-weight="normal" font-style="normal" >60</text>
<line x1="311.37" y1="497.5" x2="311.37" y2="636.6" stroke="#e9e9e9" stroke-width="0.7" stroke-dasharray="1,1.2"/>
<line x1="311.37" y1="636.6" x2="311.37" y2="639.3" stroke="#3a3a3a" stroke-width="1.1"/>
<line x1="311.37" y1="497.5" x2="311.37" y2="494.8" stroke="#3a3a3a" stroke-width="1.1"/>
<text x="311.37" y="646" font-family='"Liberation Sans", sans-serif' font-size="4.6" fill="#2a2a2a" text-anchor="middle" font-weight="normal" font-style="normal" >80</text>
<line x1="334.83" y1="497.5" x2="334.83" y2="636.6" stroke="#e9e9e9" stroke-width="0.7" stroke-dasharray="1,1.2"/>
<line x1="334.83" y1="636.6" x2="334.83" y2="639.3" stroke="#3a3a3a" stroke-width="1.1"/>
<line x1="334.83" y1="497.5" x2="334.83" y2="494.8" stroke="#3a3a3a" stroke-width="1.1"/>
<text x="334.83" y="646" font-family='"Liberation Sans", sans-serif' font-size="4.6" fill="#2a2a2a" text-anchor="middle" font-weight="normal" font-style="normal" >100</text>
<line x1="358.3" y1="636.6" x2="358.3" y2="639.3" stroke="#3a3a3a" stroke-width="1.1"/>
<line x1="358.3" y1="497.5" x2="358.3" y2="494.8" stroke="#3a3a3a" stroke-width="1.1"/>
<text x="358.3" y="646" font-family='"Liberation Sans", sans-serif' font-size="4.6" fill="#2a2a2a" text-anchor="middle" font-weight="normal" font-style="normal" >120</text>
<line x1="217.5" y1="636.6" x2="214.8" y2="636.6" stroke="#3a3a3a" stroke-width="1.1"/>
<line x1="358.3" y1="636.6" x2="361" y2="636.6" stroke="#3a3a3a" stroke-width="1.1"/>
<text x="212.5" y="638.2" font-family='"Liberation Sans", sans-serif' font-size="4.6" fill="#2a2a2a" text-anchor="end" font-weight="normal" font-style="normal" >0.00</text>
<line x1="217.5" y1="616.73" x2="358.3" y2="616.73" stroke="#e9e9e9" stroke-width="0.7" stroke-dasharray="1,1.2"/>
<line x1="217.5" y1="616.73" x2="214.8" y2="616.73" stroke="#3a3a3a" stroke-width="1.1"/>
<line x1="358.3" y1="616.73" x2="361" y2="616.73" stroke="#3a3a3a" stroke-width="1.1"/>
<text x="212.5" y="618.33" font-family='"Liberation Sans", sans-serif' font-size="4.6" fill="#2a2a2a" text-anchor="end" font-weight="normal" font-style="normal" >0.01</text>
<line x1="217.5" y1="596.86" x2="358.3" y2="596.86" stroke="#e9e9e9" stroke-width="0.7" stroke-dasharray="1,1.2"/>
<line x1="217.5" y1="596.86" x2="214.8" y2="596.86" stroke="#3a3a3a" stroke-width="1.1"/>
<line x1="358.3" y1="596.86" x2="361" y2="596.86" stroke="#3a3a3a" stroke-width="1.1"/>
<text x="212.5" y="598.46" font-family='"Liberation Sans", sans-serif' font-size="4.6" fill="#2a2a2a" text-anchor="end" font-weight="normal" font-style="normal" >0.02</text>
<line x1="217.5" y1="576.99" x2="358.3" y2="576.99" stroke="#e9e9e9" stroke-width="0.7" stroke-dasharray="1,1.2"/>
<line x1="217.5" y1="576.99" x2="214.8" y2="576.99" stroke="#3a3a3a" stroke-width="1.1"/>
<line x1="358.3" y1="576.99" x2="361" y2="576.99" stroke="#3a3a3a" stroke-width="1.1"/>
<text x="212.5" y="578.59" font-family='"Liberation Sans", sans-serif' font-size="4.6" fill="#2a2a2a" text-anchor="end" font-weight="normal" font-style="normal" >0.03</text>
<line x1="217.5" y1="557.11" x2="358.3" y2="557.11" stroke="#e9e9e9" stroke-width="0.7" stroke-dasharray="1,1.2"/>
<line x1="217.5" y1="557.11" x2="214.8" y2="557.11" stroke="#3a3a3a" stroke-width="1.1"/>
<line x1="358.3" y1="557.11" x2="361" y2="557.11" stroke="#3a3a3a" stroke-width="1.1"/>
<text x="212.5" y="558.71" font-family='"Liberation Sans", sans-serif' font-size="4.6" fill="#2a2a2a" text-anchor="end" font-weight="normal" font-style="normal" >0.04</text>
<line x1="217.5" y1="537.24" x2="358.3" y2="537.24" stroke="#e9e9e9" stroke-width="0.7" stroke-dasharray="1,1.2"/>
<line x1="217.5" y1="537.24" x2="214.8" y2="537.24" stroke="#3a3a3a" stroke-width="1.1"/>
<line x1="358.3" y1="537.24" x2="361" y2="537.24" stroke="#3a3a3a" stroke-width="1.1"/>
<text x="212.5" y="538.84" font-family='"Liberation Sans", sans-serif' font-size="4.6" fill="#2a2a2a" text-anchor="end" font-weight="normal" font-style="normal" >0.05</text>
<line x1="217.5" y1="517.37" x2="358.3" y2="517.37" stroke="#e9e9e9" stroke-width="0.7" stroke-dasharray="1,1.2"/>
<line x1="217.5" y1="517.37" x2="214.8" y2="517.37" stroke="#3a3a3a" stroke-width="1.1"/>
<line x1="358.3" y1="517.37" x2="361" y2="517.37" stroke="#3a3a3a" stroke-width="1.1"/>
<text x="212.5" y="518.97" font-family='"Liberation Sans", sans-serif' font-size="4.6" fill="#2a2a2a" text-anchor="end" font-weight="normal" font-style="normal" >0.06</text>
<line x1="217.5" y1="497.5" x2="214.8" y2="497.5" stroke="#3a3a3a" stroke-width="1.1"/>
<line x1="358.3" y1="497.5" x2="361" y2="497.5" stroke="#3a3a3a" stroke-width="1.1"/>
<text x="212.5" y="499.1" font-family='"Liberation Sans", sans-serif' font-size="4.6" fill="#2a2a2a" text-anchor="end" font-weight="normal" font-style="normal" >0.07</text>
<line x1="405.8" y1="636.6" x2="405.8" y2="639.3" stroke="#3a3a3a" stroke-width="1.1"/>
<line x1="405.8" y1="497.5" x2="405.8" y2="494.8" stroke="#3a3a3a" stroke-width="1.1"/>
<text x="405.8" y="646" font-family='"Liberation Sans", sans-serif' font-size="4.6" fill="#2a2a2a" text-anchor="middle" font-weight="normal" font-style="normal" >0</text>
<line x1="429.27" y1="497.5" x2="429.27" y2="636.6" stroke="#e9e9e9" stroke-width="0.7" stroke-dasharray="1,1.2"/>
<line x1="429.27" y1="636.6" x2="429.27" y2="639.3" stroke="#3a3a3a" stroke-width="1.1"/>
<line x1="429.27" y1="497.5" x2="429.27" y2="494.8" stroke="#3a3a3a" stroke-width="1.1"/>
<text x="429.27" y="646" font-family='"Liberation Sans", sans-serif' font-size="4.6" fill="#2a2a2a" text-anchor="middle" font-weight="normal" font-style="normal" >20</text>
<line x1="452.73" y1="497.5" x2="452.73" y2="636.6" stroke="#e9e9e9" stroke-width="0.7" stroke-dasharray="1,1.2"/>
<line x1="452.73" y1="636.6" x2="452.73" y2="639.3" stroke="#3a3a3a" stroke-width="1.1"/>
<line x1="452.73" y1="497.5" x2="452.73" y2="494.8" stroke="#3a3a3a" stroke-width="1.1"/>
<text x="452.73" y="646" font-family='"Liberation Sans", sans-serif' font-size="4.6" fill="#2a2a2a" text-anchor="middle" font-weight="normal" font-style="normal" >40</text>
<line x1="476.2" y1="497.5" x2="476.2" y2="636.6" stroke="#e9e9e9" stroke-width="0.7" stroke-dasharray="1,1.2"/>
<line x1="476.2" y1="636.6" x2="476.2" y2="639.3" stroke="#3a3a3a" stroke-width="1.1"/>
<line x1="476.2" y1="497.5" x2="476.2" y2="494.8" stroke="#3a3a3a" stroke-width="1.1"/>
<text x="476.2" y="646" font-family='"Liberation Sans", sans-serif' font-size="4.6" fill="#2a2a2a" text-anchor="middle" font-weight="normal" font-style="normal" >60</text>
<line x1="499.67" y1="497.5" x2="499.67" y2="636.6" stroke="#e9e9e9" stroke-width="0.7" stroke-dasharray="1,1.2"/>
<line x1="499.67" y1="636.6" x2="499.67" y2="639.3" stroke="#3a3a3a" stroke-width="1.1"/>
<line x1="499.67" y1="497.5" x2="499.67" y2="494.8" stroke="#3a3a3a" stroke-width="1.1"/>
<text x="499.67" y="646" font-family='"Liberation Sans", sans-serif' font-size="4.6" fill="#2a2a2a" text-anchor="middle" font-weight="normal" font-style="normal" >80</text>
<line x1="523.13" y1="497.5" x2="523.13" y2="636.6" stroke="#e9e9e9" stroke-width="0.7" stroke-dasharray="1,1.2"/>
<line x1="523.13" y1="636.6" x2="523.13" y2="639.3" stroke="#3a3a3a" stroke-width="1.1"/>
<line x1="523.13" y1="497.5" x2="523.13" y2="494.8" stroke="#3a3a3a" stroke-width="1.1"/>
<text x="523.13" y="646" font-family='"Liberation Sans", sans-serif' font-size="4.6" fill="#2a2a2a" text-anchor="middle" font-weight="normal" font-style="normal" >100</text>
<line x1="546.6" y1="636.6" x2="546.6" y2="639.3" stroke="#3a3a3a" stroke-width="1.1"/>
<line x1="546.6" y1="497.5" x2="546.6" y2="494.8" stroke="#3a3a3a" stroke-width="1.1"/>
<text x="546.6" y="646" font-family='"Liberation Sans", sans-serif' font-size="4.6" fill="#2a2a2a" text-anchor="middle" font-weight="normal" font-style="normal" >120</text>
<line x1="405.8" y1="636.6" x2="403.1" y2="636.6" stroke="#3a3a3a" stroke-width="1.1"/>
<line x1="546.6" y1="636.6" x2="549.3" y2="636.6" stroke="#3a3a3a" stroke-width="1.1"/>
<text x="400.8" y="638.2" font-family='"Liberation Sans", sans-serif' font-size="4.6" fill="#2a2a2a" text-anchor="end" font-weight="normal" font-style="normal" >0.00</text>
<line x1="405.8" y1="616.73" x2="546.6" y2="616.73" stroke="#e9e9e9" stroke-width="0.7" stroke-dasharray="1,1.2"/>
<line x1="405.8" y1="616.73" x2="403.1" y2="616.73" stroke="#3a3a3a" stroke-width="1.1"/>
<line x1="546.6" y1="616.73" x2="549.3" y2="616.73" stroke="#3a3a3a" stroke-width="1.1"/>
<text x="400.8" y="618.33" font-family='"Liberation Sans", sans-serif' font-size="4.6" fill="#2a2a2a" text-anchor="end" font-weight="normal" font-style="normal" >0.01</text>
<line x1="405.8" y1="596.86" x2="546.6" y2="596.86" stroke="#e9e9e9" stroke-width="0.7" stroke-dasharray="1,1.2"/>
<line x1="405.8" y1="596.86" x2="403.1" y2="596.86" stroke="#3a3a3a" stroke-width="1.1"/>
<line x1="546.6" y1="596.86" x2="549.3" y2="596.86" stroke="#3a3a3a" stroke-width="1.1"/>
<text x="400.8" y="598.46" font-family='"Liberation Sans", sans-serif' font-size="4.6" fill="#2a2a2a" text-anchor="end" font-weight="normal" font-style="normal" >0.02</text>
<line x1="405.8" y1="576.99" x2="546.6" y2="576.99" stroke="#e9e9e9" stroke-width="0.7" stroke-dasharray="1,1.2"/>
<line x1="405.8" y1="576.99" x2="403.1" y2="576.99" stroke="#3a3a3a" stroke-width="1.1"/>
<line x1="546.6" y1="576.99" x2="549.3" y2="576.99" stroke="#3a3a3a" stroke-width="1.1"/>
<text x="400.8" y="578.59" font-family='"Liberation Sans", sans-serif' font-size="4.6" fill="#2a2a2a" text-anchor="end" font-weight="normal" font-style="normal" >0.03</text>
<line x1="405.8" y1="557.11" x2="546.6" y2="557.11" stroke="#e9e9e9" stroke-width="0.7" stroke-dasharray="1,1.2"/>
<line x1="405.8" y1="557.11" x2="403.1" y2="557.11" stroke="#3a3a3a" stroke-width="1.1"/>
<line x1="546.6" y1="557.11" x2="549.3" y2="557.11" stroke="#3a3a3a" stroke-width="1.1"/>
<text x="400.8" y="558.71" font-family='"Liberation Sans", sans-serif' font-size="4.6" fill="#2a2a2a" text-anchor="end" font-weight="normal" font-style="normal" >0.04</text>
<line x1="405.8" y1="537.24" x2="546.6" y2="537.24" stroke="#e9e9e9" stroke-width="0.7" stroke-dasharray="1,1.2"/>
<line x1="405.8" y1="537.24" x2="403.1" y2="537.24" stroke="#3a3a3a" stroke-width="1.1"/>
<line x1="546.6" y1="537.24" x2="549.3" y2="537.24" stroke="#3a3a3a" stroke-width="1.1"/>
<text x="400.8" y="538.84" font-family='"Liberation Sans", sans-serif' font-size="4.6" fill="#2a2a2a" text-anchor="end" font-weight="normal" font-style="normal" >0.05</text>
<line x1="405.8" y1="517.37" x2="546.6" y2="517.37" stroke="#e9e9e9" stroke-width="0.7" stroke-dasharray="1,1.2"/>
<line x1="405.8" y1="517.37" x2="403.1" y2="517.37" stroke="#3a3a3a" stroke-width="1.1"/>
<line x1="546.6" y1="517.37" x2="549.3" y2="517.37" stroke="#3a3a3a" stroke-width="1.1"/>
<text x="400.8" y="518.97" font-family='"Liberation Sans", sans-serif' font-size="4.6" fill="#2a2a2a" text-anchor="end" font-weight="normal" font-style="normal" >0.06</text>
<line x1="405.8" y1="497.5" x2="403.1" y2="497.5" stroke="#3a3a3a" stroke-width="1.1"/>
<line x1="546.6" y1="497.5" x2="549.3" y2="497.5" stroke="#3a3a3a" stroke-width="1.1"/>
<text x="400.8" y="499.1" font-family='"Liberation Sans", sans-serif' font-size="4.6" fill="#2a2a2a" text-anchor="end" font-weight="normal" font-style="normal" >0.07</text>
<defs>
<clipPath id="cp00"><rect x="27.4" y="54" width="147.5" height="141.3"/></clipPath>
<clipPath id="cp01"><rect x="216" y="54" width="147.5" height="141.3"/></clipPath>
<clipPath id="cp02"><rect x="404.3" y="54" width="147.5" height="141.3"/></clipPath>
<clipPath id="cp10"><rect x="27.4" y="274.9" width="143.8" height="141.5"/></clipPath>
<clipPath id="cp11"><rect x="216" y="274.9" width="143.8" height="141.5"/></clipPath>
<clipPath id="cp12"><rect x="404.3" y="274.9" width="143.8" height="141.5"/></clipPath>
<clipPath id="cp20"><rect x="27.4" y="496" width="143.8" height="142.1"/></clipPath>
<clipPath id="cp21"><rect x="216" y="496" width="143.8" height="142.1"/></clipPath>
<clipPath id="cp22"><rect x="404.3" y="496" width="143.8" height="142.1"/></clipPath>
</defs>
<g clip-path="url(#cp00)">
<polyline points="29.2,78.1 53.8,123.7 70.4,125.2 87.8,125.9 100,127.8 110,130.5 124,135.2 138.4,141 145.6,145.3 152.9,152" fill="none" stroke="#ff0000" stroke-width="2.2" stroke-dasharray="1.5,1.9,0.8,1.9" stroke-linejoin="round" />
<polyline points="29.2,74.5 54.5,117.2 70.4,120.8 87.8,124.4 96.4,127.6 109.5,131 124,134.6 138.4,140.4 145.6,144.7 152.9,151.5" fill="none" stroke="#ff0000" stroke-width="2.2" stroke-dasharray="2.8,2.3" stroke-linejoin="round" />
<polyline points="29.2,65.4 54.4,101.3 70.4,111.5 87.8,122.3 88.73,122.96 89.95,123.82 91.41,124.85 93.04,125.99 94.77,127.22 96.55,128.49 98.32,129.77 100,131 101.7,132.25 103.52,133.57 105.39,134.94 107.27,136.32 109.11,137.7 110.85,139.04 112.43,140.32 113.8,141.5 114.94,142.57 115.89,143.55 116.69,144.47 117.39,145.34 118.02,146.21 118.64,147.09 119.29,148.01 120,149 120.76,150.05 121.5,151.12 122.24,152.23 122.97,153.35 123.71,154.49 124.46,155.65 125.22,156.82 126,158 126.78,159.19 127.56,160.41 128.34,161.64 129.13,162.88 129.94,164.13 130.79,165.39 131.67,166.65 132.6,167.9 133.6,169.18 134.66,170.51 135.77,171.86 136.91,173.21 138.06,174.52 139.18,175.77 140.27,176.94 141.3,178 142.28,178.96 143.24,179.84 144.17,180.65 145.08,181.39 145.97,182.08 146.83,182.7 147.68,183.28 148.5,183.8 149.33,184.26 150.18,184.65 151.03,184.99 151.85,185.26 152.61,185.49 153.29,185.69 153.86,185.85 154.3,186" fill="none" stroke="#ff0000" stroke-width="1.5" stroke-linejoin="round" />
<polyline points="28.9,71.3 54.5,88.8 69.48,104.5 80.11,115.3 88.35,122.5 95.08,128.2 100.78,132.6 105.71,136.2 110.06,138.9 113.95,141.2 117.47,142.6 120.68,143.9 123.64,144.9 126.38,145.8 128.93,146.6 131.31,147.3 133.55,147.9 135.66,148.4 137.66,148.9 139.55,149.3 141.35,149.7 143.07,150.1 144.71,150.4 146.29,150.8 147.79,151.1 149.24,151.4 150.64,151.7 151.98,152 153.28,152.3 154.53,152.6" fill="none" stroke="#000" stroke-width="1.5" stroke-dasharray="2.8,2.2" stroke-linejoin="round" />
<rect x="27.25" y="69.65" width="3.3" height="3.3" rx="0.99" fill="#000"/>
<rect x="52.85" y="87.15" width="3.3" height="3.3" rx="0.99" fill="#000"/>
<rect x="67.83" y="102.85" width="3.3" height="3.3" rx="0.99" fill="#000"/>
<rect x="78.46" y="113.65" width="3.3" height="3.3" rx="0.99" fill="#000"/>
<rect x="86.7" y="120.85" width="3.3" height="3.3" rx="0.99" fill="#000"/>
<rect x="93.43" y="126.55" width="3.3" height="3.3" rx="0.99" fill="#000"/>
<rect x="99.13" y="130.95" width="3.3" height="3.3" rx="0.99" fill="#000"/>
<rect x="104.06" y="134.55" width="3.3" height="3.3" rx="0.99" fill="#000"/>
<rect x="108.41" y="137.25" width="3.3" height="3.3" rx="0.99" fill="#000"/>
<rect x="112.3" y="139.55" width="3.3" height="3.3" rx="0.99" fill="#000"/>
<rect x="115.82" y="140.95" width="3.3" height="3.3" rx="0.99" fill="#000"/>
<rect x="119.03" y="142.25" width="3.3" height="3.3" rx="0.99" fill="#000"/>
<rect x="121.99" y="143.25" width="3.3" height="3.3" rx="0.99" fill="#000"/>
<rect x="124.73" y="144.15" width="3.3" height="3.3" rx="0.99" fill="#000"/>
<rect x="127.28" y="144.95" width="3.3" height="3.3" rx="0.99" fill="#000"/>
<rect x="129.66" y="145.65" width="3.3" height="3.3" rx="0.99" fill="#000"/>
<rect x="131.9" y="146.25" width="3.3" height="3.3" rx="0.99" fill="#000"/>
<rect x="134.01" y="146.75" width="3.3" height="3.3" rx="0.99" fill="#000"/>
<rect x="136.01" y="147.25" width="3.3" height="3.3" rx="0.99" fill="#000"/>
<rect x="137.9" y="147.65" width="3.3" height="3.3" rx="0.99" fill="#000"/>
<rect x="139.7" y="148.05" width="3.3" height="3.3" rx="0.99" fill="#000"/>
<rect x="141.42" y="148.45" width="3.3" height="3.3" rx="0.99" fill="#000"/>
<rect x="143.06" y="148.75" width="3.3" height="3.3" rx="0.99" fill="#000"/>
<rect x="144.64" y="149.15" width="3.3" height="3.3" rx="0.99" fill="#000"/>
<rect x="146.14" y="149.45" width="3.3" height="3.3" rx="0.99" fill="#000"/>
<rect x="147.59" y="149.75" width="3.3" height="3.3" rx="0.99" fill="#000"/>
<rect x="148.99" y="150.05" width="3.3" height="3.3" rx="0.99" fill="#000"/>
<rect x="150.33" y="150.35" width="3.3" height="3.3" rx="0.99" fill="#000"/>
<rect x="151.63" y="150.65" width="3.3" height="3.3" rx="0.99" fill="#000"/>
<rect x="152.88" y="150.95" width="3.3" height="3.3" rx="0.99" fill="#000"/>
</g>
<g clip-path="url(#cp01)">
<polyline points="217.9,161 236.7,163.6 258.4,165.7 280.1,167.5 295,170.4 302.4,172.9 313.9,173.7 342.1,173.7" fill="none" stroke="#008000" stroke-width="2.2" stroke-dasharray="1.5,1.9,0.8,1.9" stroke-linejoin="round" />
<polyline points="217.9,145.1 242.5,146.6 248.3,150.2 257,155.3 262.7,156.7 277.2,159.6 295,162.2 299.5,163.2 313.9,165 328.4,167.9 342.1,171.5" fill="none" stroke="#008000" stroke-width="2.2" stroke-dasharray="2.8,2.3" stroke-linejoin="round" />
<polyline points="217.9,92.1 243.2,100.3 265.6,112.3 285,121.9 295,127.4 302.4,131.7 315,139.5 328.4,147.6 342.9,157" fill="none" stroke="#008000" stroke-width="1.5" stroke-linejoin="round" />
<polyline points="217.5,71.3 243.1,88.8 258.08,104.5 268.71,115.3 276.95,122.5 283.68,128.2 289.38,132.6 294.31,136.2 298.66,138.9 302.55,141.2 306.07,142.6 309.28,143.9 312.24,144.9 314.98,145.8 317.53,146.6 319.91,147.3 322.15,147.9 324.26,148.4 326.26,148.9 328.15,149.3 329.95,149.7 331.67,150.1 333.31,150.4 334.89,150.8 336.39,151.1 337.84,151.4 339.24,151.7 340.58,152 341.88,152.3 343.13,152.6" fill="none" stroke="#000" stroke-width="1.5" stroke-dasharray="2.8,2.2" stroke-linejoin="round" />
<rect x="215.85" y="69.65" width="3.3" height="3.3" rx="0.99" fill="#000"/>
<rect x="241.45" y="87.15" width="3.3" height="3.3" rx="0.99" fill="#000"/>
<rect x="256.43" y="102.85" width="3.3" height="3.3" rx="0.99" fill="#000"/>
<rect x="267.06" y="113.65" width="3.3" height="3.3" rx="0.99" fill="#000"/>
<rect x="275.3" y="120.85" width="3.3" height="3.3" rx="0.99" fill="#000"/>
<rect x="282.03" y="126.55" width="3.3" height="3.3" rx="0.99" fill="#000"/>
<rect x="287.73" y="130.95" width="3.3" height="3.3" rx="0.99" fill="#000"/>
<rect x="292.66" y="134.55" width="3.3" height="3.3" rx="0.99" fill="#000"/>
<rect x="297.01" y="137.25" width="3.3" height="3.3" rx="0.99" fill="#000"/>
<rect x="300.9" y="139.55" width="3.3" height="3.3" rx="0.99" fill="#000"/>
<rect x="304.42" y="140.95" width="3.3" height="3.3" rx="0.99" fill="#000"/>
<rect x="307.63" y="142.25" width="3.3" height="3.3" rx="0.99" fill="#000"/>
<rect x="310.59" y="143.25" width="3.3" height="3.3" rx="0.99" fill="#000"/>
<rect x="313.33" y="144.15" width="3.3" height="3.3" rx="0.99" fill="#000"/>
<rect x="315.88" y="144.95" width="3.3" height="3.3" rx="0.99" fill="#000"/>
<rect x="318.26" y="145.65" width="3.3" height="3.3" rx="0.99" fill="#000"/>
<rect x="320.5" y="146.25" width="3.3" height="3.3" rx="0.99" fill="#000"/>
<rect x="322.61" y="146.75" width="3.3" height="3.3" rx="0.99" fill="#000"/>
<rect x="324.61" y="147.25" width="3.3" height="3.3" rx="0.99" fill="#000"/>
<rect x="326.5" y="147.65" width="3.3" height="3.3" rx="0.99" fill="#000"/>
<rect x="328.3" y="148.05" width="3.3" height="3.3" rx="0.99" fill="#000"/>
<rect x="330.02" y="148.45" width="3.3" height="3.3" rx="0.99" fill="#000"/>
<rect x="331.66" y="148.75" width="3.3" height="3.3" rx="0.99" fill="#000"/>
<rect x="333.24" y="149.15" width="3.3" height="3.3" rx="0.99" fill="#000"/>
<rect x="334.74" y="149.45" width="3.3" height="3.3" rx="0.99" fill="#000"/>
<rect x="336.19" y="149.75" width="3.3" height="3.3" rx="0.99" fill="#000"/>
<rect x="337.59" y="150.05" width="3.3" height="3.3" rx="0.99" fill="#000"/>
<rect x="338.93" y="150.35" width="3.3" height="3.3" rx="0.99" fill="#000"/>
<rect x="340.23" y="150.65" width="3.3" height="3.3" rx="0.99" fill="#000"/>
<rect x="341.48" y="150.95" width="3.3" height="3.3" rx="0.99" fill="#000"/>
</g>
<g clip-path="url(#cp02)">
<polyline points="406.1,153.1 432.2,156.8 455.3,158.5 474.4,160.6 490.4,163.5 509.2,165.7 530.9,167.6" fill="none" stroke="#0000ff" stroke-width="2.2" stroke-dasharray="1.5,1.9,0.8,1.9" stroke-linejoin="round" />
<polyline points="406.1,140 430,142.4 437,145.5 445.3,150.2 455,152.8 474.4,155.6 490.4,157.7 509.2,161.4 530.9,165" fill="none" stroke="#0000ff" stroke-width="2.2" stroke-dasharray="2.8,2.3" stroke-linejoin="round" />
<polyline points="406.1,89.9 430.7,99.1 454.1,110.8 473,120.9 490.4,131.4 516.4,147.3 531.6,157.7" fill="none" stroke="#0000ff" stroke-width="1.5" stroke-linejoin="round" />
<polyline points="405.8,71.3 431.4,88.8 446.38,104.5 457.01,115.3 465.25,122.5 471.98,128.2 477.68,132.6 482.61,136.2 486.96,138.9 490.85,141.2 494.37,142.6 497.58,143.9 500.54,144.9 503.28,145.8 505.83,146.6 508.21,147.3 510.45,147.9 512.56,148.4 514.56,148.9 516.45,149.3 518.25,149.7 519.97,150.1 521.61,150.4 523.19,150.8 524.69,151.1 526.14,151.4 527.54,151.7 528.88,152 530.18,152.3 531.43,152.6" fill="none" stroke="#000" stroke-width="1.5" stroke-dasharray="2.8,2.2" stroke-linejoin="round" />
<rect x="404.15" y="69.65" width="3.3" height="3.3" rx="0.99" fill="#000"/>
<rect x="429.75" y="87.15" width="3.3" height="3.3" rx="0.99" fill="#000"/>
<rect x="444.73" y="102.85" width="3.3" height="3.3" rx="0.99" fill="#000"/>
<rect x="455.36" y="113.65" width="3.3" height="3.3" rx="0.99" fill="#000"/>
<rect x="463.6" y="120.85" width="3.3" height="3.3" rx="0.99" fill="#000"/>
<rect x="470.33" y="126.55" width="3.3" height="3.3" rx="0.99" fill="#000"/>
<rect x="476.03" y="130.95" width="3.3" height="3.3" rx="0.99" fill="#000"/>
<rect x="480.96" y="134.55" width="3.3" height="3.3" rx="0.99" fill="#000"/>
<rect x="485.31" y="137.25" width="3.3" height="3.3" rx="0.99" fill="#000"/>
<rect x="489.2" y="139.55" width="3.3" height="3.3" rx="0.99" fill="#000"/>
<rect x="492.72" y="140.95" width="3.3" height="3.3" rx="0.99" fill="#000"/>
<rect x="495.93" y="142.25" width="3.3" height="3.3" rx="0.99" fill="#000"/>
<rect x="498.89" y="143.25" width="3.3" height="3.3" rx="0.99" fill="#000"/>
<rect x="501.63" y="144.15" width="3.3" height="3.3" rx="0.99" fill="#000"/>
<rect x="504.18" y="144.95" width="3.3" height="3.3" rx="0.99" fill="#000"/>
<rect x="506.56" y="145.65" width="3.3" height="3.3" rx="0.99" fill="#000"/>
<rect x="508.8" y="146.25" width="3.3" height="3.3" rx="0.99" fill="#000"/>
<rect x="510.91" y="146.75" width="3.3" height="3.3" rx="0.99" fill="#000"/>
<rect x="512.91" y="147.25" width="3.3" height="3.3" rx="0.99" fill="#000"/>
<rect x="514.8" y="147.65" width="3.3" height="3.3" rx="0.99" fill="#000"/>
<rect x="516.6" y="148.05" width="3.3" height="3.3" rx="0.99" fill="#000"/>
<rect x="518.32" y="148.45" width="3.3" height="3.3" rx="0.99" fill="#000"/>
<rect x="519.96" y="148.75" width="3.3" height="3.3" rx="0.99" fill="#000"/>
<rect x="521.54" y="149.15" width="3.3" height="3.3" rx="0.99" fill="#000"/>
<rect x="523.04" y="149.45" width="3.3" height="3.3" rx="0.99" fill="#000"/>
<rect x="524.49" y="149.75" width="3.3" height="3.3" rx="0.99" fill="#000"/>
<rect x="525.89" y="150.05" width="3.3" height="3.3" rx="0.99" fill="#000"/>
<rect x="527.23" y="150.35" width="3.3" height="3.3" rx="0.99" fill="#000"/>
<rect x="528.53" y="150.65" width="3.3" height="3.3" rx="0.99" fill="#000"/>
<rect x="529.78" y="150.95" width="3.3" height="3.3" rx="0.99" fill="#000"/>
</g>
<g clip-path="url(#cp10)">
<polyline points="33.9,290.8 41.5,293.2 50.1,296.3 58.8,299 67.5,300.5 74.7,302.8 84.9,307.8 93.5,309.5 100,310.5 107.9,316 113.3,325.5 118,332.5 124.1,341.6 131.3,356 138.4,372.1 144.7,390.1" fill="none" stroke="#ff0000" stroke-width="2.2" stroke-dasharray="1.5,1.9,0.8,1.9" stroke-linejoin="round" />
<polyline points="33.9,315.2 41.5,316.7 50.1,315.2 58.8,310.9 69,305.1 76.2,302.9 84.9,306.5 90,308.5 99,310.2 107.9,316.5 115.1,325.5 117.8,333.6 120.5,344.3 123.2,356 126.8,377.5" fill="none" stroke="#ff0000" stroke-width="2.2" stroke-dasharray="2.8,2.3" stroke-linejoin="round" />
<polyline points="33.9,292.1 41.5,294.3 50.1,297.1 58.8,299.8 67.5,301.5 74.7,304.4 84.9,309.4 93.5,312.3 99,312 103,312.5 107.9,315.6 112,320 115.1,324.6 118.7,330.9 122.3,341.6 127.7,356 131.3,366.7 135.7,379.3" fill="none" stroke="#ff0000" stroke-width="1.5" stroke-linejoin="round" />
<polyline points="33.8,282.5 42.3,284.1 50.6,288 59.2,292.5 67.9,296.7 75.9,303.7 84.6,309.9 92.9,314.6 101.6,321 109.6,329.9 118.4,325.5 126.8,337.8 135.6,350.2 143.9,368.5 152.3,402.6" fill="none" stroke="#000" stroke-width="1.5" stroke-dasharray="2.8,2.2" stroke-linejoin="round" />
<rect x="32" y="280.7" width="3.6" height="3.6" rx="1.08" fill="#000"/>
<rect x="40.5" y="282.3" width="3.6" height="3.6" rx="1.08" fill="#000"/>
<rect x="48.8" y="286.2" width="3.6" height="3.6" rx="1.08" fill="#000"/>
<rect x="57.4" y="290.7" width="3.6" height="3.6" rx="1.08" fill="#000"/>
<rect x="66.1" y="294.9" width="3.6" height="3.6" rx="1.08" fill="#000"/>
<rect x="74.1" y="301.9" width="3.6" height="3.6" rx="1.08" fill="#000"/>
<rect x="82.8" y="308.1" width="3.6" height="3.6" rx="1.08" fill="#000"/>
<rect x="91.1" y="312.8" width="3.6" height="3.6" rx="1.08" fill="#000"/>
<rect x="99.8" y="319.2" width="3.6" height="3.6" rx="1.08" fill="#000"/>
<rect x="107.8" y="328.1" width="3.6" height="3.6" rx="1.08" fill="#000"/>
<rect x="116.6" y="323.7" width="3.6" height="3.6" rx="1.08" fill="#000"/>
<rect x="125" y="336" width="3.6" height="3.6" rx="1.08" fill="#000"/>
<rect x="133.8" y="348.4" width="3.6" height="3.6" rx="1.08" fill="#000"/>
<rect x="142.1" y="366.7" width="3.6" height="3.6" rx="1.08" fill="#000"/>
<rect x="150.5" y="400.8" width="3.6" height="3.6" rx="1.08" fill="#000"/>
</g>
<g clip-path="url(#cp11)">
<polyline points="222.2,293.5 226,290 230.9,287 240,291 250,295.5 260,300.2 270,304.8 280,309.2 290.3,315.8 295,318.6 302.4,325.6 311,336.2 317.9,348.3 324.8,362.1 331.7,375.9 340.3,394.8" fill="none" stroke="#008000" stroke-width="2.2" stroke-dasharray="1.5,1.9,0.8,1.9" stroke-linejoin="round" />
<polyline points="236,318.8 240,312 245,304 249.7,297.9 256,299.5 265,303.4 275,307.8 285,312.5 295,318.5 304.1,327.6 311.9,341.4 316.2,356.9 321.4,374.1 328.3,393.1" fill="none" stroke="#008000" stroke-width="2.2" stroke-dasharray="2.8,2.3" stroke-linejoin="round" />
<polyline points="221.5,283.8 230,287.5 240,291.8 250,296.3 260,301 270,305.6 280,310 290.3,316.5 295,319.1 302.4,325.9 311,336.2 317.9,348.3 324.8,362.1 331.7,375.9 340.3,394.8" fill="none" stroke="#008000" stroke-width="1.5" stroke-linejoin="round" />
<polyline points="222.4,282.5 230.9,284.1 239.2,288 247.8,292.5 256.5,296.7 264.5,303.7 273.2,309.9 281.5,314.6 290.2,321 298.2,329.9 307,325.5 315.4,337.8 324.2,350.2 332.5,368.5 340.9,402.6" fill="none" stroke="#000" stroke-width="1.5" stroke-dasharray="2.8,2.2" stroke-linejoin="round" />
<rect x="220.6" y="280.7" width="3.6" height="3.6" rx="1.08" fill="#000"/>
<rect x="229.1" y="282.3" width="3.6" height="3.6" rx="1.08" fill="#000"/>
<rect x="237.4" y="286.2" width="3.6" height="3.6" rx="1.08" fill="#000"/>
<rect x="246" y="290.7" width="3.6" height="3.6" rx="1.08" fill="#000"/>
<rect x="254.7" y="294.9" width="3.6" height="3.6" rx="1.08" fill="#000"/>
<rect x="262.7" y="301.9" width="3.6" height="3.6" rx="1.08" fill="#000"/>
<rect x="271.4" y="308.1" width="3.6" height="3.6" rx="1.08" fill="#000"/>
<rect x="279.7" y="312.8" width="3.6" height="3.6" rx="1.08" fill="#000"/>
<rect x="288.4" y="319.2" width="3.6" height="3.6" rx="1.08" fill="#000"/>
<rect x="296.4" y="328.1" width="3.6" height="3.6" rx="1.08" fill="#000"/>
<rect x="305.2" y="323.7" width="3.6" height="3.6" rx="1.08" fill="#000"/>
<rect x="313.6" y="336" width="3.6" height="3.6" rx="1.08" fill="#000"/>
<rect x="322.4" y="348.4" width="3.6" height="3.6" rx="1.08" fill="#000"/>
<rect x="330.7" y="366.7" width="3.6" height="3.6" rx="1.08" fill="#000"/>
<rect x="339.1" y="400.8" width="3.6" height="3.6" rx="1.08" fill="#000"/>
</g>
<g clip-path="url(#cp12)">
<polyline points="411,292.1 417.5,289.2 422,289 430,292 440,296.5 450,301.2 460,306 468,309 478.3,315.3 483,318.6 488.7,323.6 497.3,332.6 504.2,344.3 511.1,358.1 518,374.3 523.5,385.3 529.2,395.5" fill="none" stroke="#0000ff" stroke-width="2.2" stroke-dasharray="1.5,1.9,0.8,1.9" stroke-linejoin="round" />
<polyline points="419.6,323.9 427.6,314.5 434.8,304.4 440.6,297.1 446,299.5 455,303.6 465,308.3 475,313 485,319 492.1,327.6 499.9,341.4 504.2,356.9 509.4,377.6 514.6,389.7 519.7,394.8" fill="none" stroke="#0000ff" stroke-width="2.2" stroke-dasharray="2.8,2.3" stroke-linejoin="round" />
<polyline points="410.2,283.8 420,288 430,292.5 440,297 450,301.7 460,306.5 468,309.5 478.3,315.5 483,318.8 488.7,323.8 497.3,332.8 504.2,344.5 511.1,358.3 518,374.5 523.5,385.5 529.2,395.7" fill="none" stroke="#0000ff" stroke-width="1.5" stroke-linejoin="round" />
<polyline points="410.7,282.5 419.2,284.1 427.5,288 436.1,292.5 444.8,296.7 452.8,303.7 461.5,309.9 469.8,314.6 478.5,321 486.5,329.9 495.3,325.5 503.7,337.8 512.5,350.2 520.8,368.5 529.2,402.6" fill="none" stroke="#000" stroke-width="1.5" stroke-dasharray="2.8,2.2" stroke-linejoin="round" />
<rect x="408.9" y="280.7" width="3.6" height="3.6" rx="1.08" fill="#000"/>
<rect x="417.4" y="282.3" width="3.6" height="3.6" rx="1.08" fill="#000"/>
<rect x="425.7" y="286.2" width="3.6" height="3.6" rx="1.08" fill="#000"/>
<rect x="434.3" y="290.7" width="3.6" height="3.6" rx="1.08" fill="#000"/>
<rect x="443" y="294.9" width="3.6" height="3.6" rx="1.08" fill="#000"/>
<rect x="451" y="301.9" width="3.6" height="3.6" rx="1.08" fill="#000"/>
<rect x="459.7" y="308.1" width="3.6" height="3.6" rx="1.08" fill="#000"/>
<rect x="468" y="312.8" width="3.6" height="3.6" rx="1.08" fill="#000"/>
<rect x="476.7" y="319.2" width="3.6" height="3.6" rx="1.08" fill="#000"/>
<rect x="484.7" y="328.1" width="3.6" height="3.6" rx="1.08" fill="#000"/>
<rect x="493.5" y="323.7" width="3.6" height="3.6" rx="1.08" fill="#000"/>
<rect x="501.9" y="336" width="3.6" height="3.6" rx="1.08" fill="#000"/>
<rect x="510.7" y="348.4" width="3.6" height="3.6" rx="1.08" fill="#000"/>
<rect x="519" y="366.7" width="3.6" height="3.6" rx="1.08" fill="#000"/>
<rect x="527.4" y="400.8" width="3.6" height="3.6" rx="1.08" fill="#000"/>
</g>
<g clip-path="url(#cp20)">
<polyline points="58.23,636.6 59.23,636.45 60.61,636.28 62.24,636.06 63.99,635.76 65.71,635.37 67.27,634.86 68.7,634.25 70.14,633.55 71.54,632.76 72.9,631.86 74.18,630.83 75.36,629.64 76.42,628.3 77.36,626.79 78.22,625.16 79.05,623.42 79.89,621.6 80.76,619.73 81.68,617.78 82.6,615.7 83.52,613.55 84.44,611.36 85.36,609.18 86.28,607.04 87.18,604.9 88.08,602.7 88.98,600.51 89.88,598.38 90.78,596.37 91.67,594.52 92.57,592.87 93.47,591.35 94.37,589.96 95.27,588.65 96.17,587.4 97.07,586.18 98,584.95 98.97,583.74 99.94,582.58 100.87,581.53 101.72,580.62 102.47,579.92 103.07,579.44 103.56,579.16 103.98,579.04 104.36,579.01 104.74,579.03 105.17,579.05 105.62,579.06 106.07,579.11 106.52,579.2 106.98,579.36 107.46,579.59 107.98,579.92 108.53,580.28 109.1,580.66 109.7,581.11 110.32,581.71 110.96,582.5 111.62,583.57 112.31,584.95 113.04,586.62 113.79,588.49 114.55,590.48 115.32,592.52 116.08,594.52 116.83,596.54 117.6,598.64 118.36,600.78 119.12,602.93 119.89,605.03 120.65,607.04 121.42,608.98 122.18,610.88 122.95,612.74 123.71,614.54 124.47,616.3 125.23,618 125.97,619.66 126.69,621.29 127.41,622.86 128.14,624.36 128.89,625.76 129.69,627.04 130.53,628.18 131.42,629.21 132.33,630.13 133.25,630.97 134.18,631.73 135.09,632.43 135.9,633.03 136.61,633.54 137.32,633.97 138.14,634.35 139.16,634.69 140.48,635.04 142.34,635.37 144.67,635.69 147.22,635.98 149.68,636.23 151.8,636.44 153.27,636.6" fill="none" stroke="#ff0000" stroke-width="2.2" stroke-dasharray="1.5,1.9,0.8,1.9" stroke-linejoin="round" />
<polyline points="41.81,636.6 43.22,636.33 45.2,635.99 47.54,635.58 50.02,635.06 52.45,634.42 54.6,633.64 56.55,632.67 58.49,631.51 60.37,630.22 62.14,628.89 63.75,627.57 65.16,626.34 66.28,625.19 67.16,624.04 67.88,622.92 68.53,621.82 69.2,620.76 69.97,619.73 70.83,618.85 71.72,618.12 72.63,617.42 73.54,616.64 74.46,615.65 75.36,614.34 76.26,612.65 77.16,610.65 78.06,608.45 78.95,606.15 79.85,603.85 80.76,601.65 81.68,599.46 82.6,597.18 83.52,594.9 84.44,592.71 85.36,590.7 86.28,588.96 87.19,587.49 88.11,586.23 89.03,585.15 89.94,584.22 90.82,583.42 91.67,582.7 92.48,582.06 93.26,581.53 94.02,581.12 94.76,580.85 95.5,580.73 96.25,580.79 97,581 97.74,581.35 98.48,581.86 99.22,582.54 99.96,583.39 100.71,584.44 101.47,585.76 102.26,587.36 103.05,589.14 103.82,591 104.57,592.83 105.28,594.52 105.94,596.09 106.54,597.62 107.11,599.12 107.68,600.6 108.28,602.08 108.92,603.56 109.62,605.04 110.34,606.49 111.09,607.93 111.85,609.39 112.62,610.89 113.38,612.43 114.14,614.09 114.9,615.84 115.67,617.64 116.44,619.39 117.2,621.04 117.96,622.52 118.69,623.79 119.41,624.92 120.13,625.94 120.85,626.9 121.61,627.83 122.41,628.78 123.28,629.76 124.21,630.77 125.17,631.74 126.13,632.66 127.06,633.48 127.93,634.17 128.69,634.7 129.36,635.11 130,635.43 130.68,635.67 131.45,635.88 132.39,636.08 133.61,636.25 135.08,636.37 136.66,636.46 138.17,636.52 139.46,636.56 140.37,636.6" fill="none" stroke="#ff0000" stroke-width="2.2" stroke-dasharray="2.8,2.3" stroke-linejoin="round" />
<polyline points="32.42,636.08 32.8,636.03 33.32,635.99 33.94,635.94 34.61,635.81 35.29,635.59 35.94,635.21 36.59,634.67 37.27,634.01 37.97,633.24 38.65,632.39 39.27,631.47 39.81,630.51 40.26,629.54 40.62,628.55 40.94,627.49 41.23,626.33 41.51,625.04 41.81,623.56 42.1,622.08 42.38,620.67 42.65,619.11 42.93,617.22 43.23,614.77 43.57,611.56 43.96,607.41 44.4,602.42 44.86,596.89 45.32,591.08 45.76,585.28 46.15,579.74 46.48,574.44 46.77,569.13 47.04,563.82 47.3,558.52 47.58,553.22 47.91,547.92 48.28,542.4 48.69,536.6 49.13,530.8 49.56,525.29 49.98,520.35 50.37,516.28 50.74,513.15 51.1,510.75 51.45,508.93 51.78,507.53 52.09,506.38 52.37,505.32 52.61,504.46 52.81,503.93 52.98,503.66 53.15,503.57 53.33,503.57 53.54,503.59 53.77,503.64 54.02,503.8 54.27,504.06 54.54,504.41 54.8,504.83 55.07,505.32 55.33,505.65 55.6,505.78 55.88,505.98 56.16,506.54 56.43,507.73 56.71,509.85 56.97,513.05 57.23,517.14 57.49,521.88 57.76,526.99 58.04,532.22 58.35,537.32 58.69,542.37 59.04,547.6 59.41,552.96 59.8,558.37 60.19,563.78 60.58,569.14 60.96,574.54 61.32,580.06 61.69,585.58 62.08,590.98 62.53,596.15 63.04,600.96 63.64,605.48 64.32,609.82 65.04,613.93 65.79,617.74 66.54,621.2 67.27,624.25 67.99,626.86 68.71,629.07 69.44,630.93 70.17,632.48 70.89,633.77 71.61,634.86 72.3,635.64 72.97,636.05 73.63,636.2 74.31,636.21 75.04,636.19 75.83,636.25 76.78,636.37 77.88,636.46 79.03,636.51 80.12,636.55 81.04,636.57 81.7,636.6" fill="none" stroke="#ff0000" stroke-width="1.5" stroke-linejoin="round" />
<polyline points="29.49,636.12 30.07,635.99 30.66,635.86 31.25,635.73 31.83,634.56 32.42,633.39 33.01,632.22 33.59,631.04 34.18,629.41 34.77,627.09 35.35,624.78 35.94,622.46 36.53,620.14 37.11,615.91 37.7,610.4 38.29,604.9 38.87,599.39 39.46,592.94 40.05,585.08 40.63,577.21 41.22,569.35 41.81,561.49 42.39,556.12 42.98,550.76 43.57,545.4 44.15,540.04 44.74,534.73 45.33,529.62 45.91,524.52 46.5,519.41 47.09,520.39 47.67,521.37 48.26,522.36 48.85,523.34 49.43,525.3 50.02,528.73 50.61,532.15 51.19,535.58 51.78,539.51 52.37,543.44 52.95,547.37 53.54,551.3 54.13,555.23 54.71,559.78 55.3,564.33 55.89,568.88 56.47,574.67 57.06,581.27 57.65,587.88 58.23,592.63 58.82,596.14 59.41,599.66 59.99,603.17 60.58,606.68 61.17,609.2 61.75,611.05 62.34,612.91 62.93,614.62 63.51,616.25 64.1,617.87 64.69,619.5 65.27,621.13 65.86,622.59 66.45,624.05 67.03,625.51 67.62,626.97 68.21,627.95 68.79,628.6 69.38,629.25 69.97,629.91 70.55,630.56 71.14,631.21 71.73,631.86 72.31,632.39 72.9,632.75 73.49,633.1 74.07,633.45 74.66,633.81 75.25,634.16 75.83,634.51 76.42,634.6 77.01,634.69 77.59,634.77 78.18,634.86 78.77,634.95 79.35,635.04 79.94,635.08 80.53,635.13 81.11,635.18 81.7,635.23 82.29,635.28 82.87,635.33 83.46,635.38 84.05,635.43 84.63,635.48 85.22,635.53 85.81,635.58 86.39,635.63 86.98,635.68 87.57,635.73 88.15,635.75 88.74,635.77 89.33,635.78 89.91,635.8 90.5,635.82 91.09,635.83 91.67,635.85 92.26,635.87 92.85,635.89 93.43,635.9 94.02,635.92 94.61,635.94 95.19,635.96 95.78,635.97 96.37,635.99 96.95,636.01 97.54,636.03 98.13,636.04 98.71,636.06 99.3,636.08 99.89,636.09 100.47,636.1 101.06,636.11 101.65,636.12 102.23,636.14 102.82,636.15 103.41,636.16 103.99,636.17 104.58,636.18 105.17,636.19 105.75,636.21 106.34,636.22 106.93,636.23 107.51,636.24 108.1,636.25 108.69,636.26 109.27,636.28 109.86,636.29 110.45,636.3 111.03,636.31 111.62,636.32 112.21,636.33 112.79,636.34 113.38,636.36 113.97,636.37 114.55,636.38 115.14,636.39 115.73,636.4 116.31,636.41 116.9,636.43 117.49,636.43" fill="none" stroke="#000" stroke-width="1.5" stroke-dasharray="2.8,2.2" stroke-linejoin="round" />
<rect x="28.57" y="634.49" width="3" height="3" rx="0.9" fill="#000"/>
<rect x="31.04" y="631.65" width="3" height="3" rx="0.9" fill="#000"/>
<rect x="33.5" y="624.67" width="3" height="3" rx="0.9" fill="#000"/>
<rect x="35.97" y="611.11" width="3" height="3" rx="0.9" fill="#000"/>
<rect x="38.43" y="585.15" width="3" height="3" rx="0.9" fill="#000"/>
<rect x="40.89" y="554.62" width="3" height="3" rx="0.9" fill="#000"/>
<rect x="43.36" y="532.21" width="3" height="3" rx="0.9" fill="#000"/>
<rect x="45.82" y="519.28" width="3" height="3" rx="0.9" fill="#000"/>
<rect x="48.29" y="525.86" width="3" height="3" rx="0.9" fill="#000"/>
<rect x="50.75" y="541.15" width="3" height="3" rx="0.9" fill="#000"/>
<rect x="53.21" y="558.28" width="3" height="3" rx="0.9" fill="#000"/>
<rect x="55.68" y="581.09" width="3" height="3" rx="0.9" fill="#000"/>
<rect x="58.14" y="599.56" width="3" height="3" rx="0.9" fill="#000"/>
<rect x="60.61" y="610.66" width="3" height="3" rx="0.9" fill="#000"/>
<rect x="63.07" y="617.67" width="3" height="3" rx="0.9" fill="#000"/>
<rect x="65.53" y="624.01" width="3" height="3" rx="0.9" fill="#000"/>
<rect x="68" y="627.88" width="3" height="3" rx="0.9" fill="#000"/>
<rect x="70.46" y="630.62" width="3" height="3" rx="0.9" fill="#000"/>
<rect x="72.93" y="632.17" width="3" height="3" rx="0.9" fill="#000"/>
<rect x="75.39" y="633.17" width="3" height="3" rx="0.9" fill="#000"/>
<rect x="77.85" y="633.54" width="3" height="3" rx="0.9" fill="#000"/>
<rect x="80.79" y="633.78" width="3" height="3" rx="0.9" fill="#000"/>
<rect x="83.72" y="634.03" width="3" height="3" rx="0.9" fill="#000"/>
<rect x="86.65" y="634.25" width="3" height="3" rx="0.9" fill="#000"/>
<rect x="89.59" y="634.33" width="3" height="3" rx="0.9" fill="#000"/>
<rect x="92.52" y="634.42" width="3" height="3" rx="0.9" fill="#000"/>
<rect x="95.45" y="634.51" width="3" height="3" rx="0.9" fill="#000"/>
<rect x="98.39" y="634.59" width="3" height="3" rx="0.9" fill="#000"/>
<rect x="101.32" y="634.65" width="3" height="3" rx="0.9" fill="#000"/>
<rect x="104.25" y="634.71" width="3" height="3" rx="0.9" fill="#000"/>
<rect x="107.19" y="634.76" width="3" height="3" rx="0.9" fill="#000"/>
<rect x="110.12" y="634.82" width="3" height="3" rx="0.9" fill="#000"/>
<rect x="113.05" y="634.88" width="3" height="3" rx="0.9" fill="#000"/>
</g>
<g clip-path="url(#cp21)">
<polyline points="217.5,636.6 358.3,636.6" fill="none" stroke="#008000" stroke-width="2.0" stroke-dasharray="3,2" stroke-linejoin="round" />
<polyline points="217.5,636.6 228.53,636.6 242.14,635.61 253.05,634.61 261.15,634.02 266.55,632.63 272.06,632.82 274.76,631.63 280.16,630.64 285.55,630.24 290.13,630.64 292.01,629.45 299.87,627.86 307.85,625.87 313.95,622.89 319.81,620.9 326.85,620.9 329.79,614.94 333.78,613.55 337.77,615.93 341.76,612.95 345.75,610.97 349.73,608.98 353.72,608.38 357.71,609.97 358.3,610.17" fill="none" stroke="#008000" stroke-width="1.5" stroke-linejoin="round" />
<polyline points="218.09,636.05 218.67,635.9 219.26,635.76 219.85,635.61 220.43,634.27 221.02,632.93 221.61,631.59 222.19,630.25 222.78,628.39 223.37,625.74 223.95,623.09 224.54,620.44 225.13,617.79 225.71,612.95 226.3,606.66 226.89,600.37 227.47,594.08 228.06,586.7 228.65,577.72 229.23,568.73 229.82,559.74 230.41,550.76 230.99,544.63 231.58,538.5 232.17,532.37 232.75,526.25 233.34,520.18 233.93,514.34 234.51,508.5 235.1,502.67 235.69,503.79 236.27,504.91 236.86,506.04 237.45,507.16 238.03,509.4 238.62,513.32 239.21,517.23 239.79,521.15 240.38,525.64 240.97,530.13 241.55,534.62 242.14,539.11 242.73,543.6 243.31,548.8 243.9,554 244.49,559.21 245.07,565.82 245.66,573.37 246.25,580.92 246.83,586.35 247.42,590.36 248.01,594.38 248.59,598.39 249.18,602.41 249.77,605.28 250.35,607.4 250.94,609.52 251.53,611.48 252.11,613.34 252.7,615.2 253.29,617.06 253.87,618.91 254.46,620.59 255.05,622.26 255.63,623.93 256.22,625.6 256.81,626.71 257.39,627.46 257.98,628.2 258.57,628.95 259.15,629.69 259.74,630.44 260.33,631.19 260.91,631.79 261.5,632.2 262.09,632.6 262.67,633 263.26,633.41 263.85,633.81 264.43,634.22 265.02,634.31 265.61,634.41 266.19,634.51 266.78,634.61 267.37,634.71 267.95,634.81 268.54,634.87 269.13,634.93 269.71,634.98 270.3,635.04 270.89,635.1 271.47,635.15 272.06,635.21 272.65,635.27 273.23,635.32 273.82,635.38 274.41,635.44 274.99,635.49 275.58,635.55 276.17,635.61 276.75,635.63 277.34,635.65 277.93,635.67 278.51,635.69 279.1,635.71 279.69,635.73 280.27,635.75 280.86,635.77 281.45,635.79 282.03,635.81 282.62,635.83 283.21,635.84 283.79,635.86 284.38,635.88 284.97,635.9 285.55,635.92 286.14,635.94 286.73,635.96 287.31,635.98 287.9,636 288.49,636.02 289.07,636.03 289.66,636.04 290.25,636.06 290.83,636.07 291.42,636.08 292.01,636.1 292.59,636.11 293.18,636.12 293.77,636.14 294.35,636.15 294.94,636.16 295.53,636.18 296.11,636.19 296.7,636.2 297.29,636.22 297.87,636.23 298.46,636.24 299.05,636.26 299.63,636.27 300.22,636.28 300.81,636.3 301.39,636.31 301.98,636.32 302.57,636.34 303.15,636.35 303.74,636.36 304.33,636.37 304.91,636.39 305.5,636.4 306.09,636.4" fill="none" stroke="#000" stroke-width="1.5" stroke-dasharray="2.8,2.2" stroke-linejoin="round" />
<rect x="217.17" y="634.4" width="3" height="3" rx="0.9" fill="#000"/>
<rect x="219.64" y="631.16" width="3" height="3" rx="0.9" fill="#000"/>
<rect x="222.1" y="623.18" width="3" height="3" rx="0.9" fill="#000"/>
<rect x="224.57" y="607.68" width="3" height="3" rx="0.9" fill="#000"/>
<rect x="227.03" y="578.01" width="3" height="3" rx="0.9" fill="#000"/>
<rect x="229.49" y="543.13" width="3" height="3" rx="0.9" fill="#000"/>
<rect x="231.96" y="517.51" width="3" height="3" rx="0.9" fill="#000"/>
<rect x="234.42" y="502.74" width="3" height="3" rx="0.9" fill="#000"/>
<rect x="236.89" y="510.25" width="3" height="3" rx="0.9" fill="#000"/>
<rect x="239.35" y="527.73" width="3" height="3" rx="0.9" fill="#000"/>
<rect x="241.81" y="547.3" width="3" height="3" rx="0.9" fill="#000"/>
<rect x="244.28" y="573.38" width="3" height="3" rx="0.9" fill="#000"/>
<rect x="246.74" y="594.48" width="3" height="3" rx="0.9" fill="#000"/>
<rect x="249.21" y="607.17" width="3" height="3" rx="0.9" fill="#000"/>
<rect x="251.67" y="615.19" width="3" height="3" rx="0.9" fill="#000"/>
<rect x="254.13" y="622.43" width="3" height="3" rx="0.9" fill="#000"/>
<rect x="256.6" y="626.85" width="3" height="3" rx="0.9" fill="#000"/>
<rect x="259.06" y="629.98" width="3" height="3" rx="0.9" fill="#000"/>
<rect x="261.53" y="631.75" width="3" height="3" rx="0.9" fill="#000"/>
<rect x="263.99" y="632.89" width="3" height="3" rx="0.9" fill="#000"/>
<rect x="266.45" y="633.31" width="3" height="3" rx="0.9" fill="#000"/>
<rect x="269.39" y="633.6" width="3" height="3" rx="0.9" fill="#000"/>
<rect x="272.32" y="633.88" width="3" height="3" rx="0.9" fill="#000"/>
<rect x="275.25" y="634.13" width="3" height="3" rx="0.9" fill="#000"/>
<rect x="278.19" y="634.23" width="3" height="3" rx="0.9" fill="#000"/>
<rect x="281.12" y="634.33" width="3" height="3" rx="0.9" fill="#000"/>
<rect x="284.05" y="634.42" width="3" height="3" rx="0.9" fill="#000"/>
<rect x="286.99" y="634.52" width="3" height="3" rx="0.9" fill="#000"/>
<rect x="289.92" y="634.58" width="3" height="3" rx="0.9" fill="#000"/>
<rect x="292.85" y="634.65" width="3" height="3" rx="0.9" fill="#000"/>
<rect x="295.79" y="634.72" width="3" height="3" rx="0.9" fill="#000"/>
<rect x="298.72" y="634.78" width="3" height="3" rx="0.9" fill="#000"/>
<rect x="301.65" y="634.85" width="3" height="3" rx="0.9" fill="#000"/>
</g>
<g clip-path="url(#cp22)">
<polyline points="405.8,636.6 546.6,636.6" fill="none" stroke="#0000ff" stroke-width="2.0" stroke-dasharray="3,2" stroke-linejoin="round" />
<polyline points="405.8,636.6 424.81,636.6 430.21,635.61 434.31,635.01 438.42,635.61 443.82,633.62 449.21,632.43 454.61,631.23 458.72,629.25 462.82,629.64 465.52,627.86 468.22,629.25 470.92,626.47 475.03,625.07 478.9,622.89 483.01,623.88 487.11,621.1 491.22,619.71 497.32,615.54 501.43,612.56 505.53,610.57 510.7,607.39 512.69,609.57 515.74,606.4 521.84,604.81 525.95,602.82 529.12,601.23 531.58,604.81 534.05,602.82 537.21,605.4 540.62,602.42 543.31,610.57 546.37,612.56" fill="none" stroke="#0000ff" stroke-width="1.5" stroke-linejoin="round" />
<polyline points="406.39,636.05 406.97,635.9 407.56,635.76 408.15,635.61 408.73,634.27 409.32,632.93 409.91,631.59 410.49,630.25 411.08,628.39 411.67,625.74 412.25,623.09 412.84,620.44 413.43,617.79 414.01,612.95 414.6,606.66 415.19,600.37 415.77,594.08 416.36,586.7 416.95,577.72 417.53,568.73 418.12,559.74 418.71,550.76 419.29,544.63 419.88,538.5 420.47,532.37 421.05,526.25 421.64,520.18 422.23,514.34 422.81,508.5 423.4,502.67 423.99,503.79 424.57,504.91 425.16,506.04 425.75,507.16 426.33,509.4 426.92,513.32 427.51,517.23 428.09,521.15 428.68,525.64 429.27,530.13 429.85,534.62 430.44,539.11 431.03,543.6 431.61,548.8 432.2,554 432.79,559.21 433.37,565.82 433.96,573.37 434.55,580.92 435.13,586.35 435.72,590.36 436.31,594.38 436.89,598.39 437.48,602.41 438.07,605.28 438.65,607.4 439.24,609.52 439.83,611.48 440.41,613.34 441,615.2 441.59,617.06 442.17,618.91 442.76,620.59 443.35,622.26 443.93,623.93 444.52,625.6 445.11,626.71 445.69,627.46 446.28,628.2 446.87,628.95 447.45,629.69 448.04,630.44 448.63,631.19 449.21,631.79 449.8,632.2 450.39,632.6 450.97,633 451.56,633.41 452.15,633.81 452.73,634.22 453.32,634.31 453.91,634.41 454.49,634.51 455.08,634.61 455.67,634.71 456.25,634.81 456.84,634.87 457.43,634.93 458.01,634.98 458.6,635.04 459.19,635.1 459.77,635.15 460.36,635.21 460.95,635.27 461.53,635.32 462.12,635.38 462.71,635.44 463.29,635.49 463.88,635.55 464.47,635.61 465.05,635.63 465.64,635.65 466.23,635.67 466.81,635.69 467.4,635.71 467.99,635.73 468.57,635.75 469.16,635.77 469.75,635.79 470.33,635.81 470.92,635.83 471.51,635.84 472.09,635.86 472.68,635.88 473.27,635.9 473.85,635.92 474.44,635.94 475.03,635.96 475.61,635.98 476.2,636 476.79,636.02 477.37,636.03 477.96,636.04 478.55,636.06 479.13,636.07 479.72,636.08 480.31,636.1 480.89,636.11 481.48,636.12 482.07,636.14 482.65,636.15 483.24,636.16 483.83,636.18 484.41,636.19 485,636.2 485.59,636.22 486.17,636.23 486.76,636.24 487.35,636.26 487.93,636.27 488.52,636.28 489.11,636.3 489.69,636.31 490.28,636.32 490.87,636.34 491.45,636.35 492.04,636.36 492.63,636.37 493.21,636.39 493.8,636.4 494.39,636.4" fill="none" stroke="#000" stroke-width="1.5" stroke-dasharray="2.8,2.2" stroke-linejoin="round" />
<rect x="405.47" y="634.4" width="3" height="3" rx="0.9" fill="#000"/>
<rect x="407.94" y="631.16" width="3" height="3" rx="0.9" fill="#000"/>
<rect x="410.4" y="623.18" width="3" height="3" rx="0.9" fill="#000"/>
<rect x="412.87" y="607.68" width="3" height="3" rx="0.9" fill="#000"/>
<rect x="415.33" y="578.01" width="3" height="3" rx="0.9" fill="#000"/>
<rect x="417.79" y="543.13" width="3" height="3" rx="0.9" fill="#000"/>
<rect x="420.26" y="517.51" width="3" height="3" rx="0.9" fill="#000"/>
<rect x="422.72" y="502.74" width="3" height="3" rx="0.9" fill="#000"/>
<rect x="425.19" y="510.25" width="3" height="3" rx="0.9" fill="#000"/>
<rect x="427.65" y="527.73" width="3" height="3" rx="0.9" fill="#000"/>
<rect x="430.11" y="547.3" width="3" height="3" rx="0.9" fill="#000"/>
<rect x="432.58" y="573.38" width="3" height="3" rx="0.9" fill="#000"/>
<rect x="435.04" y="594.48" width="3" height="3" rx="0.9" fill="#000"/>
<rect x="437.51" y="607.17" width="3" height="3" rx="0.9" fill="#000"/>
<rect x="439.97" y="615.19" width="3" height="3" rx="0.9" fill="#000"/>
<rect x="442.43" y="622.43" width="3" height="3" rx="0.9" fill="#000"/>
<rect x="444.9" y="626.85" width="3" height="3" rx="0.9" fill="#000"/>
<rect x="447.36" y="629.98" width="3" height="3" rx="0.9" fill="#000"/>
<rect x="449.83" y="631.75" width="3" height="3" rx="0.9" fill="#000"/>
<rect x="452.29" y="632.89" width="3" height="3" rx="0.9" fill="#000"/>
<rect x="454.75" y="633.31" width="3" height="3" rx="0.9" fill="#000"/>
<rect x="457.69" y="633.6" width="3" height="3" rx="0.9" fill="#000"/>
<rect x="460.62" y="633.88" width="3" height="3" rx="0.9" fill="#000"/>
<rect x="463.55" y="634.13" width="3" height="3" rx="0.9" fill="#000"/>
<rect x="466.49" y="634.23" width="3" height="3" rx="0.9" fill="#000"/>
<rect x="469.42" y="634.33" width="3" height="3" rx="0.9" fill="#000"/>
<rect x="472.35" y="634.42" width="3" height="3" rx="0.9" fill="#000"/>
<rect x="475.29" y="634.52" width="3" height="3" rx="0.9" fill="#000"/>
<rect x="478.22" y="634.58" width="3" height="3" rx="0.9" fill="#000"/>
<rect x="481.15" y="634.65" width="3" height="3" rx="0.9" fill="#000"/>
<rect x="484.09" y="634.72" width="3" height="3" rx="0.9" fill="#000"/>
<rect x="487.02" y="634.78" width="3" height="3" rx="0.9" fill="#000"/>
<rect x="489.95" y="634.85" width="3" height="3" rx="0.9" fill="#000"/>
</g>
<rect x="263.3" y="553.4" width="55.3" height="54.8" fill="#f2f2f2" stroke="none"/>
<line x1="263.3" y1="608.2" x2="263.3" y2="610.4" stroke="#3a3a3a" stroke-width="1.1"/>
<line x1="263.3" y1="553.4" x2="263.3" y2="551.2" stroke="#3a3a3a" stroke-width="1.1"/>
<text x="263.3" y="616.8" font-family='"Liberation Sans", sans-serif' font-size="3.4" fill="#2a2a2a" text-anchor="middle" font-weight="normal" font-style="normal" >0</text>
<line x1="270.21" y1="608.2" x2="270.21" y2="610.4" stroke="#3a3a3a" stroke-width="1.1"/>
<line x1="270.21" y1="553.4" x2="270.21" y2="551.2" stroke="#3a3a3a" stroke-width="1.1"/>
<text x="270.21" y="616.8" font-family='"Liberation Sans", sans-serif' font-size="3.4" fill="#2a2a2a" text-anchor="middle" font-weight="normal" font-style="normal" >100</text>
<line x1="277.12" y1="608.2" x2="277.12" y2="610.4" stroke="#3a3a3a" stroke-width="1.1"/>
<line x1="277.12" y1="553.4" x2="277.12" y2="551.2" stroke="#3a3a3a" stroke-width="1.1"/>
<text x="277.12" y="616.8" font-family='"Liberation Sans", sans-serif' font-size="3.4" fill="#2a2a2a" text-anchor="middle" font-weight="normal" font-style="normal" >200</text>
<line x1="284.04" y1="608.2" x2="284.04" y2="610.4" stroke="#3a3a3a" stroke-width="1.1"/>
<line x1="284.04" y1="553.4" x2="284.04" y2="551.2" stroke="#3a3a3a" stroke-width="1.1"/>
<text x="284.04" y="616.8" font-family='"Liberation Sans", sans-serif' font-size="3.4" fill="#2a2a2a" text-anchor="middle" font-weight="normal" font-style="normal" >300</text>
<line x1="290.95" y1="608.2" x2="290.95" y2="610.4" stroke="#3a3a3a" stroke-width="1.1"/>
<line x1="290.95" y1="553.4" x2="290.95" y2="551.2" stroke="#3a3a3a" stroke-width="1.1"/>
<text x="290.95" y="616.8" font-family='"Liberation Sans", sans-serif' font-size="3.4" fill="#2a2a2a" text-anchor="middle" font-weight="normal" font-style="normal" >400</text>
<line x1="297.86" y1="608.2" x2="297.86" y2="610.4" stroke="#3a3a3a" stroke-width="1.1"/>
<line x1="297.86" y1="553.4" x2="297.86" y2="551.2" stroke="#3a3a3a" stroke-width="1.1"/>
<text x="297.86" y="616.8" font-family='"Liberation Sans", sans-serif' font-size="3.4" fill="#2a2a2a" text-anchor="middle" font-weight="normal" font-style="normal" >500</text>
<line x1="304.78" y1="608.2" x2="304.78" y2="610.4" stroke="#3a3a3a" stroke-width="1.1"/>
<line x1="304.78" y1="553.4" x2="304.78" y2="551.2" stroke="#3a3a3a" stroke-width="1.1"/>
<text x="304.78" y="616.8" font-family='"Liberation Sans", sans-serif' font-size="3.4" fill="#2a2a2a" text-anchor="middle" font-weight="normal" font-style="normal" >600</text>
<line x1="311.69" y1="608.2" x2="311.69" y2="610.4" stroke="#3a3a3a" stroke-width="1.1"/>
<line x1="311.69" y1="553.4" x2="311.69" y2="551.2" stroke="#3a3a3a" stroke-width="1.1"/>
<text x="311.69" y="616.8" font-family='"Liberation Sans", sans-serif' font-size="3.4" fill="#2a2a2a" text-anchor="middle" font-weight="normal" font-style="normal" >700</text>
<line x1="318.6" y1="608.2" x2="318.6" y2="610.4" stroke="#3a3a3a" stroke-width="1.1"/>
<line x1="318.6" y1="553.4" x2="318.6" y2="551.2" stroke="#3a3a3a" stroke-width="1.1"/>
<text x="318.6" y="616.8" font-family='"Liberation Sans", sans-serif' font-size="3.4" fill="#2a2a2a" text-anchor="middle" font-weight="normal" font-style="normal" >800</text>
<line x1="263.3" y1="608.2" x2="261.1" y2="608.2" stroke="#3a3a3a" stroke-width="1.1"/>
<line x1="318.6" y1="608.2" x2="320.8" y2="608.2" stroke="#3a3a3a" stroke-width="1.1"/>
<text x="259.1" y="609.4" font-family='"Liberation Sans", sans-serif' font-size="3.4" fill="#2a2a2a" text-anchor="end" font-weight="normal" font-style="normal" >0.00</text>
<line x1="263.3" y1="599.07" x2="261.1" y2="599.07" stroke="#3a3a3a" stroke-width="1.1"/>
<line x1="318.6" y1="599.07" x2="320.8" y2="599.07" stroke="#3a3a3a" stroke-width="1.1"/>
<text x="259.1" y="600.27" font-family='"Liberation Sans", sans-serif' font-size="3.4" fill="#2a2a2a" text-anchor="end" font-weight="normal" font-style="normal" >0.01</text>
<line x1="263.3" y1="589.93" x2="261.1" y2="589.93" stroke="#3a3a3a" stroke-width="1.1"/>
<line x1="318.6" y1="589.93" x2="320.8" y2="589.93" stroke="#3a3a3a" stroke-width="1.1"/>
<text x="259.1" y="591.13" font-family='"Liberation Sans", sans-serif' font-size="3.4" fill="#2a2a2a" text-anchor="end" font-weight="normal" font-style="normal" >0.02</text>
<line x1="263.3" y1="580.8" x2="261.1" y2="580.8" stroke="#3a3a3a" stroke-width="1.1"/>
<line x1="318.6" y1="580.8" x2="320.8" y2="580.8" stroke="#3a3a3a" stroke-width="1.1"/>
<text x="259.1" y="582" font-family='"Liberation Sans", sans-serif' font-size="3.4" fill="#2a2a2a" text-anchor="end" font-weight="normal" font-style="normal" >0.03</text>
<line x1="263.3" y1="571.67" x2="261.1" y2="571.67" stroke="#3a3a3a" stroke-width="1.1"/>
<line x1="318.6" y1="571.67" x2="320.8" y2="571.67" stroke="#3a3a3a" stroke-width="1.1"/>
<text x="259.1" y="572.87" font-family='"Liberation Sans", sans-serif' font-size="3.4" fill="#2a2a2a" text-anchor="end" font-weight="normal" font-style="normal" >0.04</text>
<line x1="263.3" y1="562.53" x2="261.1" y2="562.53" stroke="#3a3a3a" stroke-width="1.1"/>
<line x1="318.6" y1="562.53" x2="320.8" y2="562.53" stroke="#3a3a3a" stroke-width="1.1"/>
<text x="259.1" y="563.73" font-family='"Liberation Sans", sans-serif' font-size="3.4" fill="#2a2a2a" text-anchor="end" font-weight="normal" font-style="normal" >0.05</text>
<line x1="263.3" y1="553.4" x2="261.1" y2="553.4" stroke="#3a3a3a" stroke-width="1.1"/>
<line x1="318.6" y1="553.4" x2="320.8" y2="553.4" stroke="#3a3a3a" stroke-width="1.1"/>
<text x="259.1" y="554.6" font-family='"Liberation Sans", sans-serif' font-size="3.4" fill="#2a2a2a" text-anchor="end" font-weight="normal" font-style="normal" >0.06</text>
<polyline points="263.3,608.2 294.7,608 300.6,606.7 303.2,603.8 304.8,598.7 306.1,594 307.4,597.8 308.2,602.1 308.7,607.1" fill="none" stroke="#008000" stroke-width="1.8" stroke-dasharray="2.6,1.8" stroke-linejoin="round" />
<polyline points="308.9,608.2 309.3,583 309.7,560.2 310.1,583 310.6,608.2" fill="none" stroke="#008000" stroke-width="1.8" stroke-dasharray="1.8,1.2,0.8,1.2" stroke-linejoin="round" />
<rect x="263.3" y="553.4" width="55.3" height="54.8" fill="none" stroke="#3a3a3a" stroke-width="1"/>
<rect x="451.3" y="553.1" width="55.3" height="55.1" fill="#f2f2f2" stroke="none"/>
<line x1="451.3" y1="608.2" x2="451.3" y2="610.4" stroke="#3a3a3a" stroke-width="1.1"/>
<line x1="451.3" y1="553.1" x2="451.3" y2="550.9" stroke="#3a3a3a" stroke-width="1.1"/>
<text x="451.3" y="616.8" font-family='"Liberation Sans", sans-serif' font-size="3.4" fill="#2a2a2a" text-anchor="middle" font-weight="normal" font-style="normal" >0</text>
<line x1="460.52" y1="608.2" x2="460.52" y2="610.4" stroke="#3a3a3a" stroke-width="1.1"/>
<line x1="460.52" y1="553.1" x2="460.52" y2="550.9" stroke="#3a3a3a" stroke-width="1.1"/>
<text x="460.52" y="616.8" font-family='"Liberation Sans", sans-serif' font-size="3.4" fill="#2a2a2a" text-anchor="middle" font-weight="normal" font-style="normal" >100</text>
<line x1="469.73" y1="608.2" x2="469.73" y2="610.4" stroke="#3a3a3a" stroke-width="1.1"/>
<line x1="469.73" y1="553.1" x2="469.73" y2="550.9" stroke="#3a3a3a" stroke-width="1.1"/>
<text x="469.73" y="616.8" font-family='"Liberation Sans", sans-serif' font-size="3.4" fill="#2a2a2a" text-anchor="middle" font-weight="normal" font-style="normal" >200</text>
<line x1="478.95" y1="608.2" x2="478.95" y2="610.4" stroke="#3a3a3a" stroke-width="1.1"/>
<line x1="478.95" y1="553.1" x2="478.95" y2="550.9" stroke="#3a3a3a" stroke-width="1.1"/>
<text x="478.95" y="616.8" font-family='"Liberation Sans", sans-serif' font-size="3.4" fill="#2a2a2a" text-anchor="middle" font-weight="normal" font-style="normal" >300</text>
<line x1="488.17" y1="608.2" x2="488.17" y2="610.4" stroke="#3a3a3a" stroke-width="1.1"/>
<line x1="488.17" y1="553.1" x2="488.17" y2="550.9" stroke="#3a3a3a" stroke-width="1.1"/>
<text x="488.17" y="616.8" font-family='"Liberation Sans", sans-serif' font-size="3.4" fill="#2a2a2a" text-anchor="middle" font-weight="normal" font-style="normal" >400</text>
<line x1="497.38" y1="608.2" x2="497.38" y2="610.4" stroke="#3a3a3a" stroke-width="1.1"/>
<line x1="497.38" y1="553.1" x2="497.38" y2="550.9" stroke="#3a3a3a" stroke-width="1.1"/>
<text x="497.38" y="616.8" font-family='"Liberation Sans", sans-serif' font-size="3.4" fill="#2a2a2a" text-anchor="middle" font-weight="normal" font-style="normal" >500</text>
<line x1="506.6" y1="608.2" x2="506.6" y2="610.4" stroke="#3a3a3a" stroke-width="1.1"/>
<line x1="506.6" y1="553.1" x2="506.6" y2="550.9" stroke="#3a3a3a" stroke-width="1.1"/>
<text x="506.6" y="616.8" font-family='"Liberation Sans", sans-serif' font-size="3.4" fill="#2a2a2a" text-anchor="middle" font-weight="normal" font-style="normal" >600</text>
<line x1="451.3" y1="608.2" x2="449.1" y2="608.2" stroke="#3a3a3a" stroke-width="1.1"/>
<line x1="506.6" y1="608.2" x2="508.8" y2="608.2" stroke="#3a3a3a" stroke-width="1.1"/>
<text x="447.1" y="609.4" font-family='"Liberation Sans", sans-serif' font-size="3.4" fill="#2a2a2a" text-anchor="end" font-weight="normal" font-style="normal" >0.000</text>
<line x1="451.3" y1="601.31" x2="449.1" y2="601.31" stroke="#3a3a3a" stroke-width="1.1"/>
<line x1="506.6" y1="601.31" x2="508.8" y2="601.31" stroke="#3a3a3a" stroke-width="1.1"/>
<text x="447.1" y="602.51" font-family='"Liberation Sans", sans-serif' font-size="3.4" fill="#2a2a2a" text-anchor="end" font-weight="normal" font-style="normal" >0.005</text>
<line x1="451.3" y1="594.43" x2="449.1" y2="594.43" stroke="#3a3a3a" stroke-width="1.1"/>
<line x1="506.6" y1="594.43" x2="508.8" y2="594.43" stroke="#3a3a3a" stroke-width="1.1"/>
<text x="447.1" y="595.63" font-family='"Liberation Sans", sans-serif' font-size="3.4" fill="#2a2a2a" text-anchor="end" font-weight="normal" font-style="normal" >0.010</text>
<line x1="451.3" y1="587.54" x2="449.1" y2="587.54" stroke="#3a3a3a" stroke-width="1.1"/>
<line x1="506.6" y1="587.54" x2="508.8" y2="587.54" stroke="#3a3a3a" stroke-width="1.1"/>
<text x="447.1" y="588.74" font-family='"Liberation Sans", sans-serif' font-size="3.4" fill="#2a2a2a" text-anchor="end" font-weight="normal" font-style="normal" >0.015</text>
<line x1="451.3" y1="580.65" x2="449.1" y2="580.65" stroke="#3a3a3a" stroke-width="1.1"/>
<line x1="506.6" y1="580.65" x2="508.8" y2="580.65" stroke="#3a3a3a" stroke-width="1.1"/>
<text x="447.1" y="581.85" font-family='"Liberation Sans", sans-serif' font-size="3.4" fill="#2a2a2a" text-anchor="end" font-weight="normal" font-style="normal" >0.020</text>
<line x1="451.3" y1="573.76" x2="449.1" y2="573.76" stroke="#3a3a3a" stroke-width="1.1"/>
<line x1="506.6" y1="573.76" x2="508.8" y2="573.76" stroke="#3a3a3a" stroke-width="1.1"/>
<text x="447.1" y="574.96" font-family='"Liberation Sans", sans-serif' font-size="3.4" fill="#2a2a2a" text-anchor="end" font-weight="normal" font-style="normal" >0.025</text>
<line x1="451.3" y1="566.88" x2="449.1" y2="566.88" stroke="#3a3a3a" stroke-width="1.1"/>
<line x1="506.6" y1="566.88" x2="508.8" y2="566.88" stroke="#3a3a3a" stroke-width="1.1"/>
<text x="447.1" y="568.08" font-family='"Liberation Sans", sans-serif' font-size="3.4" fill="#2a2a2a" text-anchor="end" font-weight="normal" font-style="normal" >0.030</text>
<line x1="451.3" y1="559.99" x2="449.1" y2="559.99" stroke="#3a3a3a" stroke-width="1.1"/>
<line x1="506.6" y1="559.99" x2="508.8" y2="559.99" stroke="#3a3a3a" stroke-width="1.1"/>
<text x="447.1" y="561.19" font-family='"Liberation Sans", sans-serif' font-size="3.4" fill="#2a2a2a" text-anchor="end" font-weight="normal" font-style="normal" >0.035</text>
<line x1="451.3" y1="553.1" x2="449.1" y2="553.1" stroke="#3a3a3a" stroke-width="1.1"/>
<line x1="506.6" y1="553.1" x2="508.8" y2="553.1" stroke="#3a3a3a" stroke-width="1.1"/>
<text x="447.1" y="554.3" font-family='"Liberation Sans", sans-serif' font-size="3.4" fill="#2a2a2a" text-anchor="end" font-weight="normal" font-style="normal" >0.040</text>
<polyline points="451.3,608.2 483.5,607.9 489,607.1 492.4,603.8 494.5,599.1 495.8,593.6 497.1,589 498.3,588.1 499.2,592.8 500,597.8 500.5,603.8 500.6,607.5" fill="none" stroke="#0000ff" stroke-width="1.8" stroke-dasharray="2.6,1.8" stroke-linejoin="round" />
<polyline points="501.5,608.2 501.9,583 502.3,557.5 503.1,583 504,608.2" fill="none" stroke="#0000ff" stroke-width="1.8" stroke-dasharray="1.8,1.2,0.8,1.2" stroke-linejoin="round" />
<rect x="451.3" y="553.1" width="55.3" height="55.1" fill="none" stroke="#3a3a3a" stroke-width="1"/>
<rect x="104.1" y="59.7" width="65.4" height="46.1" rx="1.5" fill="#fff" stroke="#333" stroke-width="1"/>
<polyline points="107.3,65.5 123.5,65.5" fill="none" stroke="#000" stroke-width="1.5" stroke-dasharray="2.8,2.2" stroke-linejoin="round" />
<rect x="113.7" y="63.8" width="3.4" height="3.4" rx="1.02" fill="#000"/>
<text x="0" y="0" transform="translate(129.1,68.3) scale(1,1.09)" font-family='"Liberation Sans", sans-serif' font-size="7.6" fill="#2a2a2a" stroke="#2a2a2a" stroke-width="0.2">GPS</text>
<polyline points="107.3,76.4 123.5,76.4" fill="none" stroke="#ff0000" stroke-width="1.5" stroke-linejoin="round" />
<text x="0" y="0" transform="translate(129.1,79.2) scale(1,1.09)" font-family='"Liberation Sans", sans-serif' font-size="7.6" fill="#2a2a2a" stroke="#2a2a2a" stroke-width="0.2">MD+dEPR</text>
<polyline points="107.3,87.4 123.5,87.4" fill="none" stroke="#ff0000" stroke-width="2.2" stroke-dasharray="1.5,1.9,0.8,1.9" stroke-linejoin="round" />
<text x="0" y="0" transform="translate(129.1,90.2) scale(1,1.09)" font-family='"Liberation Sans", sans-serif' font-size="7.6" fill="#2a2a2a" stroke="#2a2a2a" stroke-width="0.2">MD+SWIM</text>
<polyline points="107.3,98.2 123.5,98.2" fill="none" stroke="#ff0000" stroke-width="2.2" stroke-dasharray="2.8,2.3" stroke-linejoin="round" />
<text x="0" y="0" transform="translate(129.1,101) scale(1,1.09)" font-family='"Liberation Sans", sans-serif' font-size="7.6" fill="#2a2a2a" stroke="#2a2a2a" stroke-width="0.2">MD+LATP</text>
<rect x="293.5" y="59.7" width="64.7" height="46.1" rx="1.5" fill="#fff" stroke="#333" stroke-width="1"/>
<polyline points="296.7,65.5 312.9,65.5" fill="none" stroke="#000" stroke-width="1.5" stroke-dasharray="2.8,2.2" stroke-linejoin="round" />
<rect x="303.1" y="63.8" width="3.4" height="3.4" rx="1.02" fill="#000"/>
<text x="0" y="0" transform="translate(318.5,68.3) scale(1,1.09)" font-family='"Liberation Sans", sans-serif' font-size="7.6" fill="#2a2a2a" stroke="#2a2a2a" stroke-width="0.2">GPS</text>
<polyline points="296.7,76.4 312.9,76.4" fill="none" stroke="#008000" stroke-width="1.5" stroke-linejoin="round" />
<text x="0" y="0" transform="translate(318.5,79.2) scale(1,1.09)" font-family='"Liberation Sans", sans-serif' font-size="7.6" fill="#2a2a2a" stroke="#2a2a2a" stroke-width="0.2">RD+dEPR</text>
<polyline points="296.7,87.4 312.9,87.4" fill="none" stroke="#008000" stroke-width="2.2" stroke-dasharray="1.5,1.9,0.8,1.9" stroke-linejoin="round" />
<text x="0" y="0" transform="translate(318.5,90.2) scale(1,1.09)" font-family='"Liberation Sans", sans-serif' font-size="7.6" fill="#2a2a2a" stroke="#2a2a2a" stroke-width="0.2">RD+SWIM</text>
<polyline points="296.7,98.2 312.9,98.2" fill="none" stroke="#008000" stroke-width="2.2" stroke-dasharray="2.8,2.3" stroke-linejoin="round" />
<text x="0" y="0" transform="translate(318.5,101) scale(1,1.09)" font-family='"Liberation Sans", sans-serif' font-size="7.6" fill="#2a2a2a" stroke="#2a2a2a" stroke-width="0.2">RD+LATP</text>
<rect x="481.1" y="59.7" width="65.1" height="46.1" rx="1.5" fill="#fff" stroke="#333" stroke-width="1"/>
<polyline points="484.3,65.5 500.5,65.5" fill="none" stroke="#000" stroke-width="1.5" stroke-dasharray="2.8,2.2" stroke-linejoin="round" />
<rect x="490.7" y="63.8" width="3.4" height="3.4" rx="1.02" fill="#000"/>
<text x="0" y="0" transform="translate(506.1,68.3) scale(1,1.09)" font-family='"Liberation Sans", sans-serif' font-size="7.6" fill="#2a2a2a" stroke="#2a2a2a" stroke-width="0.2">GPS</text>
<polyline points="484.3,76.4 500.5,76.4" fill="none" stroke="#0000ff" stroke-width="1.5" stroke-linejoin="round" />
<text x="0" y="0" transform="translate(506.1,79.2) scale(1,1.09)" font-family='"Liberation Sans", sans-serif' font-size="7.6" fill="#2a2a2a" stroke="#2a2a2a" stroke-width="0.2">WT+dEPR</text>
<polyline points="484.3,87.4 500.5,87.4" fill="none" stroke="#0000ff" stroke-width="2.2" stroke-dasharray="1.5,1.9,0.8,1.9" stroke-linejoin="round" />
<text x="0" y="0" transform="translate(506.1,90.2) scale(1,1.09)" font-family='"Liberation Sans", sans-serif' font-size="7.6" fill="#2a2a2a" stroke="#2a2a2a" stroke-width="0.2">WT+SWIM</text>
<polyline points="484.3,98.2 500.5,98.2" fill="none" stroke="#0000ff" stroke-width="2.2" stroke-dasharray="2.8,2.3" stroke-linejoin="round" />
<text x="0" y="0" transform="translate(506.1,101) scale(1,1.09)" font-family='"Liberation Sans", sans-serif' font-size="7.6" fill="#2a2a2a" stroke="#2a2a2a" stroke-width="0.2">WT+LATP</text>
<rect x="32.4" y="365.2" width="65.5" height="46.1" rx="1.5" fill="#fff" stroke="#333" stroke-width="1"/>
<polyline points="35.6,371 51.8,371" fill="none" stroke="#000" stroke-width="1.5" stroke-dasharray="2.8,2.2" stroke-linejoin="round" />
<rect x="42" y="369.3" width="3.4" height="3.4" rx="1.02" fill="#000"/>
<text x="0" y="0" transform="translate(57.4,373.8) scale(1,1.09)" font-family='"Liberation Sans", sans-serif' font-size="7.6" fill="#2a2a2a" stroke="#2a2a2a" stroke-width="0.2">GPS</text>
<polyline points="35.6,381.9 51.8,381.9" fill="none" stroke="#ff0000" stroke-width="1.5" stroke-linejoin="round" />
<text x="0" y="0" transform="translate(57.4,384.7) scale(1,1.09)" font-family='"Liberation Sans", sans-serif' font-size="7.6" fill="#2a2a2a" stroke="#2a2a2a" stroke-width="0.2">MD+dEPR</text>
<polyline points="35.6,392.9 51.8,392.9" fill="none" stroke="#ff0000" stroke-width="2.2" stroke-dasharray="1.5,1.9,0.8,1.9" stroke-linejoin="round" />
<text x="0" y="0" transform="translate(57.4,395.7) scale(1,1.09)" font-family='"Liberation Sans", sans-serif' font-size="7.6" fill="#2a2a2a" stroke="#2a2a2a" stroke-width="0.2">MD+SWIM</text>
<polyline points="35.6,403.7 51.8,403.7" fill="none" stroke="#ff0000" stroke-width="2.2" stroke-dasharray="2.8,2.3" stroke-linejoin="round" />
<text x="0" y="0" transform="translate(57.4,406.5) scale(1,1.09)" font-family='"Liberation Sans", sans-serif' font-size="7.6" fill="#2a2a2a" stroke="#2a2a2a" stroke-width="0.2">MD+LATP</text>
<rect x="221.2" y="365.2" width="64.6" height="46.1" rx="1.5" fill="#fff" stroke="#333" stroke-width="1"/>
<polyline points="224.4,371 240.6,371" fill="none" stroke="#000" stroke-width="1.5" stroke-dasharray="2.8,2.2" stroke-linejoin="round" />
<rect x="230.8" y="369.3" width="3.4" height="3.4" rx="1.02" fill="#000"/>
<text x="0" y="0" transform="translate(246.2,373.8) scale(1,1.09)" font-family='"Liberation Sans", sans-serif' font-size="7.6" fill="#2a2a2a" stroke="#2a2a2a" stroke-width="0.2">GPS</text>
<polyline points="224.4,381.9 240.6,381.9" fill="none" stroke="#008000" stroke-width="1.5" stroke-linejoin="round" />
<text x="0" y="0" transform="translate(246.2,384.7) scale(1,1.09)" font-family='"Liberation Sans", sans-serif' font-size="7.6" fill="#2a2a2a" stroke="#2a2a2a" stroke-width="0.2">RD+dEPR</text>
<polyline points="224.4,392.9 240.6,392.9" fill="none" stroke="#008000" stroke-width="2.2" stroke-dasharray="1.5,1.9,0.8,1.9" stroke-linejoin="round" />
<text x="0" y="0" transform="translate(246.2,395.7) scale(1,1.09)" font-family='"Liberation Sans", sans-serif' font-size="7.6" fill="#2a2a2a" stroke="#2a2a2a" stroke-width="0.2">RD+SWIM</text>
<polyline points="224.4,403.7 240.6,403.7" fill="none" stroke="#008000" stroke-width="2.2" stroke-dasharray="2.8,2.3" stroke-linejoin="round" />
<text x="0" y="0" transform="translate(246.2,406.5) scale(1,1.09)" font-family='"Liberation Sans", sans-serif' font-size="7.6" fill="#2a2a2a" stroke="#2a2a2a" stroke-width="0.2">RD+LATP</text>
<rect x="409.4" y="365.2" width="65.4" height="46.1" rx="1.5" fill="#fff" stroke="#333" stroke-width="1"/>
<polyline points="412.6,371 428.8,371" fill="none" stroke="#000" stroke-width="1.5" stroke-dasharray="2.8,2.2" stroke-linejoin="round" />
<rect x="419" y="369.3" width="3.4" height="3.4" rx="1.02" fill="#000"/>
<text x="0" y="0" transform="translate(434.4,373.8) scale(1,1.09)" font-family='"Liberation Sans", sans-serif' font-size="7.6" fill="#2a2a2a" stroke="#2a2a2a" stroke-width="0.2">GPS</text>
<polyline points="412.6,381.9 428.8,381.9" fill="none" stroke="#0000ff" stroke-width="1.5" stroke-linejoin="round" />
<text x="0" y="0" transform="translate(434.4,384.7) scale(1,1.09)" font-family='"Liberation Sans", sans-serif' font-size="7.6" fill="#2a2a2a" stroke="#2a2a2a" stroke-width="0.2">WT+dEPR</text>
<polyline points="412.6,392.9 428.8,392.9" fill="none" stroke="#0000ff" stroke-width="2.2" stroke-dasharray="1.5,1.9,0.8,1.9" stroke-linejoin="round" />
<text x="0" y="0" transform="translate(434.4,395.7) scale(1,1.09)" font-family='"Liberation Sans", sans-serif' font-size="7.6" fill="#2a2a2a" stroke="#2a2a2a" stroke-width="0.2">WT+SWIM</text>
<polyline points="412.6,403.7 428.8,403.7" fill="none" stroke="#0000ff" stroke-width="2.2" stroke-dasharray="2.8,2.3" stroke-linejoin="round" />
<text x="0" y="0" transform="translate(434.4,406.5) scale(1,1.09)" font-family='"Liberation Sans", sans-serif' font-size="7.6" fill="#2a2a2a" stroke="#2a2a2a" stroke-width="0.2">WT+LATP</text>
<rect x="101.1" y="501.8" width="65.7" height="46.1" rx="1.5" fill="#fff" stroke="#333" stroke-width="1"/>
<polyline points="104.3,507.6 120.5,507.6" fill="none" stroke="#000" stroke-width="1.5" stroke-dasharray="2.8,2.2" stroke-linejoin="round" />
<rect x="110.7" y="505.9" width="3.4" height="3.4" rx="1.02" fill="#000"/>
<text x="0" y="0" transform="translate(126.1,510.4) scale(1,1.09)" font-family='"Liberation Sans", sans-serif' font-size="7.6" fill="#2a2a2a" stroke="#2a2a2a" stroke-width="0.2">GPS</text>
<polyline points="104.3,518.5 120.5,518.5" fill="none" stroke="#ff0000" stroke-width="1.5" stroke-linejoin="round" />
<text x="0" y="0" transform="translate(126.1,521.3) scale(1,1.09)" font-family='"Liberation Sans", sans-serif' font-size="7.6" fill="#2a2a2a" stroke="#2a2a2a" stroke-width="0.2">MD+dEPR</text>
<polyline points="104.3,529.5 120.5,529.5" fill="none" stroke="#ff0000" stroke-width="2.2" stroke-dasharray="1.5,1.9,0.8,1.9" stroke-linejoin="round" />
<text x="0" y="0" transform="translate(126.1,532.3) scale(1,1.09)" font-family='"Liberation Sans", sans-serif' font-size="7.6" fill="#2a2a2a" stroke="#2a2a2a" stroke-width="0.2">MD+SWIM</text>
<polyline points="104.3,540.3 120.5,540.3" fill="none" stroke="#ff0000" stroke-width="2.2" stroke-dasharray="2.8,2.3" stroke-linejoin="round" />
<text x="0" y="0" transform="translate(126.1,543.1) scale(1,1.09)" font-family='"Liberation Sans", sans-serif' font-size="7.6" fill="#2a2a2a" stroke="#2a2a2a" stroke-width="0.2">MD+LATP</text>
<rect x="290.4" y="501.5" width="64.9" height="46.1" rx="1.5" fill="#fff" stroke="#333" stroke-width="1"/>
<polyline points="293.6,507.3 309.8,507.3" fill="none" stroke="#000" stroke-width="1.5" stroke-dasharray="2.8,2.2" stroke-linejoin="round" />
<rect x="300" y="505.6" width="3.4" height="3.4" rx="1.02" fill="#000"/>
<text x="0" y="0" transform="translate(315.4,510.1) scale(1,1.09)" font-family='"Liberation Sans", sans-serif' font-size="7.6" fill="#2a2a2a" stroke="#2a2a2a" stroke-width="0.2">GPS</text>
<polyline points="293.6,518.2 309.8,518.2" fill="none" stroke="#008000" stroke-width="1.5" stroke-linejoin="round" />
<text x="0" y="0" transform="translate(315.4,521) scale(1,1.09)" font-family='"Liberation Sans", sans-serif' font-size="7.6" fill="#2a2a2a" stroke="#2a2a2a" stroke-width="0.2">RD+dEPR</text>
<polyline points="293.6,529.2 309.8,529.2" fill="none" stroke="#008000" stroke-width="2.2" stroke-dasharray="1.5,1.9,0.8,1.9" stroke-linejoin="round" />
<text x="0" y="0" transform="translate(315.4,532) scale(1,1.09)" font-family='"Liberation Sans", sans-serif' font-size="7.6" fill="#2a2a2a" stroke="#2a2a2a" stroke-width="0.2">RD+SWIM</text>
<polyline points="293.6,540 309.8,540" fill="none" stroke="#008000" stroke-width="2.2" stroke-dasharray="2.8,2.3" stroke-linejoin="round" />
<text x="0" y="0" transform="translate(315.4,542.8) scale(1,1.09)" font-family='"Liberation Sans", sans-serif' font-size="7.6" fill="#2a2a2a" stroke="#2a2a2a" stroke-width="0.2">RD+LATP</text>
<rect x="477.7" y="501.5" width="65.8" height="46.1" rx="1.5" fill="#fff" stroke="#333" stroke-width="1"/>
<polyline points="480.9,507.3 497.1,507.3" fill="none" stroke="#000" stroke-width="1.5" stroke-dasharray="2.8,2.2" stroke-linejoin="round" />
<rect x="487.3" y="505.6" width="3.4" height="3.4" rx="1.02" fill="#000"/>
<text x="0" y="0" transform="translate(502.7,510.1) scale(1,1.09)" font-family='"Liberation Sans", sans-serif' font-size="7.6" fill="#2a2a2a" stroke="#2a2a2a" stroke-width="0.2">GPS</text>
<polyline points="480.9,518.2 497.1,518.2" fill="none" stroke="#0000ff" stroke-width="1.5" stroke-linejoin="round" />
<text x="0" y="0" transform="translate(502.7,521) scale(1,1.09)" font-family='"Liberation Sans", sans-serif' font-size="7.6" fill="#2a2a2a" stroke="#2a2a2a" stroke-width="0.2">WT+dEPR</text>
<polyline points="480.9,529.2 497.1,529.2" fill="none" stroke="#0000ff" stroke-width="2.2" stroke-dasharray="1.5,1.9,0.8,1.9" stroke-linejoin="round" />
<text x="0" y="0" transform="translate(502.7,532) scale(1,1.09)" font-family='"Liberation Sans", sans-serif' font-size="7.6" fill="#2a2a2a" stroke="#2a2a2a" stroke-width="0.2">WT+SWIM</text>
<polyline points="480.9,540 497.1,540" fill="none" stroke="#0000ff" stroke-width="2.2" stroke-dasharray="2.8,2.3" stroke-linejoin="round" />
<text x="0" y="0" transform="translate(502.7,542.8) scale(1,1.09)" font-family='"Liberation Sans", sans-serif' font-size="7.6" fill="#2a2a2a" stroke="#2a2a2a" stroke-width="0.2">WT+LATP</text>
<rect x="28.9" y="55.5" width="144.5" height="138.3" fill="none" stroke="#3a3a3a" stroke-width="1"/>
<rect x="217.5" y="55.5" width="144.5" height="138.3" fill="none" stroke="#3a3a3a" stroke-width="1"/>
<rect x="405.8" y="55.5" width="144.5" height="138.3" fill="none" stroke="#3a3a3a" stroke-width="1"/>
<rect x="28.9" y="276.4" width="140.8" height="138.5" fill="none" stroke="#3a3a3a" stroke-width="1"/>
<rect x="217.5" y="276.4" width="140.8" height="138.5" fill="none" stroke="#3a3a3a" stroke-width="1"/>
<rect x="405.8" y="276.4" width="140.8" height="138.5" fill="none" stroke="#3a3a3a" stroke-width="1"/>
<rect x="28.9" y="497.5" width="140.8" height="139.1" fill="none" stroke="#3a3a3a" stroke-width="1"/>
<rect x="217.5" y="497.5" width="140.8" height="139.1" fill="none" stroke="#3a3a3a" stroke-width="1"/>
<rect x="405.8" y="497.5" width="140.8" height="139.1" fill="none" stroke="#3a3a3a" stroke-width="1"/>
</svg>
</body></html>
